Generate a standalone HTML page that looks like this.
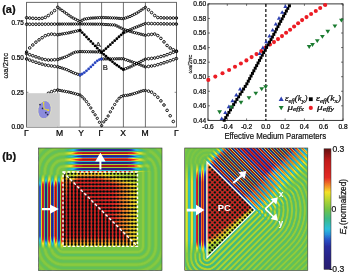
<!DOCTYPE html>
<html><head><meta charset="utf-8"><style>
html,body{margin:0;padding:0;background:#fff;width:350px;height:274px;overflow:hidden}
svg{display:block;will-change:transform}
</style></head><body>
<svg xmlns="http://www.w3.org/2000/svg" width="350" height="274" viewBox="0 0 350 274">
<defs><filter id="jet" filterUnits="userSpaceOnUse" x="0" y="0" width="350" height="274" color-interpolation-filters="sRGB"><feComponentTransfer><feFuncR type="table" tableValues="0.157 0.157 0.157 0.157 0.157 0.157 0.157 0.157 0.157 0.157 0.157 0.157 0.157 0.157 0.157 0.157 0.157 0.157 0.157 0.157 0.157 0.157 0.157 0.157 0.157 0.157 0.157 0.157 0.157 0.157 0.161 0.166 0.170 0.174 0.180 0.187 0.194 0.201 0.208 0.215 0.221 0.228 0.235 0.263 0.290 0.318 0.345 0.373 0.400 0.427 0.455 0.489 0.523 0.556 0.590 0.624 0.658 0.692 0.725 0.764 0.803 0.841 0.880 0.918 0.957 0.957 0.957 0.957 0.957 0.957 0.948 0.939 0.930 0.921 0.912 0.903 0.894 0.885 0.876 0.866 0.857 0.848 0.839 0.829 0.820 0.811 0.802 0.792 0.783 0.774 0.765 0.727 0.690 0.653 0.616 0.578 0.541 0.504 0.467 0.429 0.392"/><feFuncG type="table" tableValues="0.118 0.120 0.122 0.124 0.125 0.127 0.129 0.131 0.133 0.135 0.137 0.142 0.146 0.150 0.155 0.159 0.163 0.168 0.172 0.176 0.201 0.226 0.251 0.276 0.301 0.342 0.399 0.455 0.512 0.569 0.610 0.651 0.692 0.732 0.752 0.749 0.746 0.743 0.740 0.738 0.735 0.732 0.729 0.734 0.739 0.744 0.749 0.754 0.759 0.764 0.769 0.778 0.787 0.797 0.806 0.815 0.825 0.834 0.843 0.850 0.858 0.865 0.872 0.879 0.886 0.825 0.764 0.703 0.642 0.580 0.521 0.462 0.402 0.343 0.283 0.224 0.165 0.160 0.156 0.151 0.147 0.142 0.138 0.133 0.129 0.124 0.120 0.115 0.111 0.106 0.102 0.098 0.093 0.089 0.085 0.080 0.076 0.072 0.067 0.063 0.059"/><feFuncB type="table" tableValues="0.431 0.441 0.451 0.461 0.471 0.480 0.490 0.500 0.510 0.520 0.529 0.540 0.551 0.562 0.573 0.584 0.595 0.606 0.617 0.627 0.656 0.684 0.713 0.742 0.770 0.792 0.808 0.824 0.839 0.855 0.858 0.862 0.865 0.869 0.851 0.810 0.770 0.730 0.690 0.650 0.610 0.570 0.529 0.498 0.466 0.434 0.402 0.370 0.338 0.306 0.275 0.265 0.255 0.245 0.235 0.225 0.216 0.206 0.196 0.190 0.183 0.176 0.170 0.163 0.157 0.157 0.157 0.157 0.157 0.157 0.155 0.152 0.150 0.148 0.146 0.143 0.141 0.138 0.136 0.133 0.130 0.127 0.124 0.122 0.119 0.116 0.113 0.110 0.108 0.105 0.102 0.098 0.093 0.089 0.085 0.080 0.076 0.072 0.067 0.063 0.059"/></feComponentTransfer><feGaussianBlur stdDeviation="0.5"/></filter><filter id="bl" filterUnits="userSpaceOnUse" x="0" y="0" width="350" height="274" color-interpolation-filters="sRGB"><feGaussianBlur stdDeviation="1.3"/></filter><filter id="bl3" filterUnits="userSpaceOnUse" x="0" y="0" width="350" height="274" color-interpolation-filters="sRGB"><feGaussianBlur stdDeviation="0.45"/></filter><filter id="bl2" filterUnits="userSpaceOnUse" x="0" y="0" width="350" height="274" color-interpolation-filters="sRGB"><feGaussianBlur stdDeviation="0.6"/></filter><linearGradient id="gTop" gradientUnits="userSpaceOnUse" spreadMethod="repeat" x1="0" y1="153.2" x2="0" y2="159.6"><stop offset="0.0000" stop-color="#ffffff"/><stop offset="0.0625" stop-color="#ffffff"/><stop offset="0.1250" stop-color="#e7e7e7"/><stop offset="0.1875" stop-color="#b8b8b8"/><stop offset="0.2500" stop-color="#808080"/><stop offset="0.3125" stop-color="#474747"/><stop offset="0.3750" stop-color="#181818"/><stop offset="0.4375" stop-color="#000000"/><stop offset="0.5000" stop-color="#000000"/><stop offset="0.5625" stop-color="#000000"/><stop offset="0.6250" stop-color="#181818"/><stop offset="0.6875" stop-color="#474747"/><stop offset="0.7500" stop-color="#7f7f7f"/><stop offset="0.8125" stop-color="#b8b8b8"/><stop offset="0.8750" stop-color="#e7e7e7"/><stop offset="0.9375" stop-color="#ffffff"/><stop offset="1.0000" stop-color="#ffffff"/></linearGradient><linearGradient id="aTopX" gradientUnits="userSpaceOnUse" x1="38.6" y1="0" x2="162" y2="0"><stop offset="0.0000" stop-color="#fff" stop-opacity="0.000"/><stop offset="0.2058" stop-color="#fff" stop-opacity="0.000"/><stop offset="0.2788" stop-color="#fff" stop-opacity="0.350"/><stop offset="0.3598" stop-color="#fff" stop-opacity="0.900"/><stop offset="0.7164" stop-color="#fff" stop-opacity="0.900"/><stop offset="0.7893" stop-color="#fff" stop-opacity="0.400"/><stop offset="0.8541" stop-color="#fff" stop-opacity="0.080"/><stop offset="0.9190" stop-color="#fff" stop-opacity="0.000"/></linearGradient><mask id="mTopX" maskUnits="userSpaceOnUse" x="38.6" y="148" width="123.4" height="24" style="mask-type:alpha"><rect x="38.6" y="148" width="123.4" height="24" fill="url(#aTopX)"/></mask><linearGradient id="aTopY" gradientUnits="userSpaceOnUse" x1="0" y1="148" x2="0" y2="173"><stop offset="0.0000" stop-color="#fff" stop-opacity="0.750"/><stop offset="0.1600" stop-color="#fff" stop-opacity="0.950"/><stop offset="0.9600" stop-color="#fff" stop-opacity="1.000"/><stop offset="1.0000" stop-color="#fff" stop-opacity="1.000"/></linearGradient><mask id="mTopY" maskUnits="userSpaceOnUse" x="38.6" y="148" width="123.4" height="25" style="mask-type:alpha"><rect x="38.6" y="148" width="123.4" height="25" fill="url(#aTopY)"/></mask><linearGradient id="gLeft" gradientUnits="userSpaceOnUse" spreadMethod="repeat" x1="42.8" y1="0" x2="49.2" y2="0"><stop offset="0.0000" stop-color="#ffffff"/><stop offset="0.0625" stop-color="#ffffff"/><stop offset="0.1250" stop-color="#e7e7e7"/><stop offset="0.1875" stop-color="#b8b8b8"/><stop offset="0.2500" stop-color="#808080"/><stop offset="0.3125" stop-color="#474747"/><stop offset="0.3750" stop-color="#181818"/><stop offset="0.4375" stop-color="#000000"/><stop offset="0.5000" stop-color="#000000"/><stop offset="0.5625" stop-color="#000000"/><stop offset="0.6250" stop-color="#181818"/><stop offset="0.6875" stop-color="#474747"/><stop offset="0.7500" stop-color="#7f7f7f"/><stop offset="0.8125" stop-color="#b8b8b8"/><stop offset="0.8750" stop-color="#e7e7e7"/><stop offset="0.9375" stop-color="#ffffff"/><stop offset="1.0000" stop-color="#ffffff"/></linearGradient><linearGradient id="aLeftY" gradientUnits="userSpaceOnUse" x1="0" y1="148" x2="0" y2="270.6"><stop offset="0.0000" stop-color="#fff" stop-opacity="0.000"/><stop offset="0.2121" stop-color="#fff" stop-opacity="0.000"/><stop offset="0.2692" stop-color="#fff" stop-opacity="0.400"/><stop offset="0.3181" stop-color="#fff" stop-opacity="0.900"/><stop offset="0.7178" stop-color="#fff" stop-opacity="0.900"/><stop offset="0.7749" stop-color="#fff" stop-opacity="0.400"/><stop offset="0.8238" stop-color="#fff" stop-opacity="0.000"/><stop offset="1.0000" stop-color="#fff" stop-opacity="0.000"/></linearGradient><mask id="mLeftY" maskUnits="userSpaceOnUse" x="38.6" y="148" width="24.4" height="122.6" style="mask-type:alpha"><rect x="38.6" y="148" width="24.4" height="122.6" fill="url(#aLeftY)"/></mask><linearGradient id="aLeftX" gradientUnits="userSpaceOnUse" x1="38.6" y1="0" x2="63" y2="0"><stop offset="0.0000" stop-color="#fff" stop-opacity="0.500"/><stop offset="0.0984" stop-color="#fff" stop-opacity="0.750"/><stop offset="0.2623" stop-color="#fff" stop-opacity="0.950"/><stop offset="1.0000" stop-color="#fff" stop-opacity="1.000"/></linearGradient><mask id="mLeftX" maskUnits="userSpaceOnUse" x="38.6" y="148" width="24.4" height="122.6" style="mask-type:alpha"><rect x="38.6" y="148" width="24.4" height="122.6" fill="url(#aLeftX)"/></mask><clipPath id="cSq"><rect x="63" y="172" width="74.5" height="74.4"/></clipPath><clipPath id="cLM"><rect x="38.6" y="148" width="123.4" height="122.6"/></clipPath><linearGradient id="aRip" gradientUnits="userSpaceOnUse" x1="165" y1="165" x2="290" y2="290"><stop offset="0.0000" stop-color="#fff" stop-opacity="0.150"/><stop offset="0.3800" stop-color="#fff" stop-opacity="0.200"/><stop offset="0.5400" stop-color="#fff" stop-opacity="1.000"/><stop offset="1.0000" stop-color="#fff" stop-opacity="1.000"/></linearGradient><mask id="mRip" maskUnits="userSpaceOnUse" x="184.7" y="148" width="123.1" height="122.6" style="mask-type:alpha"><rect x="184.7" y="148" width="123.1" height="122.6" fill="url(#aRip)"/></mask><linearGradient id="gRL" gradientUnits="userSpaceOnUse" spreadMethod="repeat" x1="197.2" y1="0" x2="202.5" y2="0"><stop offset="0.0000" stop-color="#ffffff"/><stop offset="0.0625" stop-color="#ffffff"/><stop offset="0.1250" stop-color="#fefefe"/><stop offset="0.1875" stop-color="#c4c4c4"/><stop offset="0.2500" stop-color="#808080"/><stop offset="0.3125" stop-color="#3b3b3b"/><stop offset="0.3750" stop-color="#010101"/><stop offset="0.4375" stop-color="#000000"/><stop offset="0.5000" stop-color="#000000"/><stop offset="0.5625" stop-color="#000000"/><stop offset="0.6250" stop-color="#010101"/><stop offset="0.6875" stop-color="#3b3b3b"/><stop offset="0.7500" stop-color="#7f7f7f"/><stop offset="0.8125" stop-color="#c4c4c4"/><stop offset="0.8750" stop-color="#fefefe"/><stop offset="0.9375" stop-color="#ffffff"/><stop offset="1.0000" stop-color="#ffffff"/></linearGradient><linearGradient id="aRLY" gradientUnits="userSpaceOnUse" x1="0" y1="148" x2="0" y2="270.6"><stop offset="0.0000" stop-color="#fff" stop-opacity="0.000"/><stop offset="0.1223" stop-color="#fff" stop-opacity="0.000"/><stop offset="0.1958" stop-color="#fff" stop-opacity="0.500"/><stop offset="0.2773" stop-color="#fff" stop-opacity="0.950"/><stop offset="0.7504" stop-color="#fff" stop-opacity="0.950"/><stop offset="0.8157" stop-color="#fff" stop-opacity="0.450"/><stop offset="0.8646" stop-color="#fff" stop-opacity="0.000"/><stop offset="1.0000" stop-color="#fff" stop-opacity="0.000"/></linearGradient><mask id="mRLY" maskUnits="userSpaceOnUse" x="184.7" y="148" width="22.3" height="122.6" style="mask-type:alpha"><rect x="184.7" y="148" width="22.3" height="122.6" fill="url(#aRLY)"/></mask><linearGradient id="aRLX" gradientUnits="userSpaceOnUse" x1="184.7" y1="0" x2="207" y2="0"><stop offset="0.0000" stop-color="#fff" stop-opacity="0.150"/><stop offset="0.1031" stop-color="#fff" stop-opacity="0.270"/><stop offset="0.4395" stop-color="#fff" stop-opacity="0.290"/><stop offset="0.5605" stop-color="#fff" stop-opacity="0.800"/><stop offset="1.0000" stop-color="#fff" stop-opacity="0.900"/></linearGradient><mask id="mRLX" maskUnits="userSpaceOnUse" x="184.7" y="148" width="22.3" height="122.6" style="mask-type:alpha"><rect x="184.7" y="148" width="22.3" height="122.6" fill="url(#aRLX)"/></mask><linearGradient id="gBeam" gradientUnits="userSpaceOnUse" spreadMethod="repeat" x1="254" y1="155" x2="257.05" y2="151.95"><stop offset="0.0000" stop-color="#ffffff"/><stop offset="0.0625" stop-color="#ffffff"/><stop offset="0.1250" stop-color="#f5f5f5"/><stop offset="0.1875" stop-color="#bfbfbf"/><stop offset="0.2500" stop-color="#808080"/><stop offset="0.3125" stop-color="#404040"/><stop offset="0.3750" stop-color="#0a0a0a"/><stop offset="0.4375" stop-color="#000000"/><stop offset="0.5000" stop-color="#000000"/><stop offset="0.5625" stop-color="#000000"/><stop offset="0.6250" stop-color="#0a0a0a"/><stop offset="0.6875" stop-color="#404040"/><stop offset="0.7500" stop-color="#7f7f7f"/><stop offset="0.8125" stop-color="#bfbfbf"/><stop offset="0.8750" stop-color="#f5f5f5"/><stop offset="0.9375" stop-color="#ffffff"/><stop offset="1.0000" stop-color="#ffffff"/></linearGradient><linearGradient id="aBeam" gradientUnits="userSpaceOnUse" x1="175" y1="175" x2="245" y2="245"><stop offset="0.0000" stop-color="#fff" stop-opacity="0.000"/><stop offset="0.0857" stop-color="#fff" stop-opacity="0.000"/><stop offset="0.1500" stop-color="#fff" stop-opacity="0.320"/><stop offset="0.2143" stop-color="#fff" stop-opacity="0.900"/><stop offset="0.6286" stop-color="#fff" stop-opacity="0.900"/><stop offset="0.6857" stop-color="#fff" stop-opacity="0.520"/><stop offset="0.8000" stop-color="#fff" stop-opacity="0.380"/><stop offset="0.8857" stop-color="#fff" stop-opacity="0.180"/><stop offset="0.9857" stop-color="#fff" stop-opacity="0.040"/><stop offset="1.0000" stop-color="#fff" stop-opacity="0.000"/></linearGradient><mask id="mBeam" maskUnits="userSpaceOnUse" x="184.7" y="148" width="123.1" height="122.6" style="mask-type:alpha"><rect x="184.7" y="148" width="123.1" height="122.6" fill="url(#aBeam)"/></mask><clipPath id="cBeam"><path d="M187 142 L315 270 L317.8 138 L184.7 138 Z"/></clipPath><clipPath id="cTri"><path d="M207 162L255 210L207 257.6Z"/></clipPath><clipPath id="cRM"><rect x="184.7" y="148" width="123.1" height="122.6"/></clipPath><linearGradient id="gCB" x1="0" y1="0" x2="0" y2="1"><stop offset="0" stop-color="#fff"/><stop offset="1" stop-color="#000"/></linearGradient></defs>
<g stroke="#5a5a5a" stroke-width="0.85">
<line x1="57.7" y1="2.3" x2="57.7" y2="127.1"/>
<line x1="80" y1="2.3" x2="80" y2="127.1"/>
<line x1="101.6" y1="2.3" x2="101.6" y2="127.1"/>
<line x1="123.4" y1="2.3" x2="123.4" y2="127.1"/>
<line x1="145.4" y1="2.3" x2="145.4" y2="127.1"/>
</g>
<rect x="26.6" y="2.3" width="149.8" height="124.8" fill="none" stroke="#444" stroke-width="0.8"/>
<line x1="26.6" y1="23" x2="28.4" y2="23" stroke="#444" stroke-width="0.6"/>
<line x1="176.4" y1="23" x2="174.6" y2="23" stroke="#444" stroke-width="0.6"/>
<line x1="26.6" y1="57.7" x2="28.4" y2="57.7" stroke="#444" stroke-width="0.6"/>
<line x1="176.4" y1="57.7" x2="174.6" y2="57.7" stroke="#444" stroke-width="0.6"/>
<line x1="26.6" y1="92.3" x2="28.4" y2="92.3" stroke="#444" stroke-width="0.6"/>
<line x1="176.4" y1="92.3" x2="174.6" y2="92.3" stroke="#444" stroke-width="0.6"/>
<g fill="none" stroke="#000" stroke-width="0.92">
<circle cx="26.6" cy="17.7" r="1.3"/>
<circle cx="29.71" cy="17.99" r="1.3"/>
<circle cx="32.82" cy="18.28" r="1.3"/>
<circle cx="35.93" cy="18.43" r="1.3"/>
<circle cx="39.04" cy="18.56" r="1.3"/>
<circle cx="42.15" cy="18.28" r="1.3"/>
<circle cx="45.26" cy="17.41" r="1.3"/>
<circle cx="48.37" cy="15.54" r="1.3"/>
<circle cx="51.48" cy="13.13" r="1.3"/>
<circle cx="54.59" cy="10.59" r="1.3"/>
<circle cx="57.7" cy="7.3" r="1.3"/>
<circle cx="59.93" cy="8.89" r="1.15"/>
<circle cx="62.16" cy="10.48" r="1.15"/>
<circle cx="64.39" cy="12.07" r="1.15"/>
<circle cx="66.62" cy="13.66" r="1.15"/>
<circle cx="68.85" cy="15.25" r="1.15"/>
<circle cx="71.08" cy="16.84" r="1.15"/>
<circle cx="73.31" cy="18.16" r="1.15"/>
<circle cx="75.54" cy="19.27" r="1.15"/>
<circle cx="77.77" cy="20.39" r="1.15"/>
<circle cx="80" cy="21.5" r="1.15"/>
<circle cx="82.16" cy="20.26" r="1.15"/>
<circle cx="84.32" cy="19.15" r="1.15"/>
<circle cx="86.48" cy="18.79" r="1.15"/>
<circle cx="88.64" cy="18.43" r="1.15"/>
<circle cx="90.8" cy="18.15" r="1.15"/>
<circle cx="92.96" cy="18.02" r="1.15"/>
<circle cx="95.12" cy="17.89" r="1.15"/>
<circle cx="97.28" cy="17.76" r="1.15"/>
<circle cx="99.44" cy="17.63" r="1.15"/>
<circle cx="101.6" cy="17.5" r="1.15"/>
<circle cx="103.78" cy="17.58" r="1.15"/>
<circle cx="105.96" cy="17.66" r="1.15"/>
<circle cx="108.14" cy="17.74" r="1.15"/>
<circle cx="110.32" cy="17.83" r="1.15"/>
<circle cx="112.5" cy="17.91" r="1.15"/>
<circle cx="114.68" cy="17.99" r="1.15"/>
<circle cx="116.86" cy="18.16" r="1.15"/>
<circle cx="119.04" cy="18.34" r="1.15"/>
<circle cx="121.22" cy="18.52" r="1.15"/>
<circle cx="123.4" cy="18.7" r="1.15"/>
<circle cx="125.6" cy="17.97" r="1.15"/>
<circle cx="127.8" cy="17.23" r="1.15"/>
<circle cx="130" cy="16.5" r="1.15"/>
<circle cx="132.2" cy="15.4" r="1.15"/>
<circle cx="134.4" cy="14.3" r="1.15"/>
<circle cx="136.6" cy="13.2" r="1.15"/>
<circle cx="138.8" cy="11.78" r="1.15"/>
<circle cx="141" cy="10.29" r="1.15"/>
<circle cx="143.2" cy="8.79" r="1.15"/>
<circle cx="145.4" cy="7.3" r="1.15"/>
<circle cx="148.5" cy="9.79" r="1.3"/>
<circle cx="151.6" cy="12.6" r="1.3"/>
<circle cx="154.7" cy="15.5" r="1.3"/>
<circle cx="157.8" cy="17.52" r="1.3"/>
<circle cx="160.9" cy="17.73" r="1.3"/>
<circle cx="164" cy="17.93" r="1.3"/>
<circle cx="167.1" cy="18" r="1.3"/>
<circle cx="170.2" cy="18" r="1.3"/>
<circle cx="173.3" cy="18" r="1.3"/>
<circle cx="176.4" cy="18" r="1.3"/>
<circle cx="26.6" cy="24.3" r="1.3"/>
<circle cx="29.71" cy="24.28" r="1.3"/>
<circle cx="32.82" cy="24.26" r="1.3"/>
<circle cx="35.93" cy="24.24" r="1.3"/>
<circle cx="39.04" cy="24.22" r="1.3"/>
<circle cx="42.15" cy="24.2" r="1.3"/>
<circle cx="45.26" cy="24.18" r="1.3"/>
<circle cx="48.37" cy="24.16" r="1.3"/>
<circle cx="51.48" cy="24.14" r="1.3"/>
<circle cx="54.59" cy="24.12" r="1.3"/>
<circle cx="57.7" cy="24.1" r="1.3"/>
<circle cx="59.93" cy="24.09" r="1.15"/>
<circle cx="62.16" cy="24.08" r="1.15"/>
<circle cx="64.39" cy="24.07" r="1.15"/>
<circle cx="66.62" cy="24.06" r="1.15"/>
<circle cx="68.85" cy="24.05" r="1.15"/>
<circle cx="71.08" cy="24.04" r="1.15"/>
<circle cx="73.31" cy="24.03" r="1.15"/>
<circle cx="75.54" cy="24.02" r="1.15"/>
<circle cx="77.77" cy="24.01" r="1.15"/>
<circle cx="80" cy="24" r="1.15"/>
<circle cx="82.16" cy="24.02" r="1.15"/>
<circle cx="84.32" cy="24.04" r="1.15"/>
<circle cx="86.48" cy="24.06" r="1.15"/>
<circle cx="88.64" cy="24.08" r="1.15"/>
<circle cx="90.8" cy="24.1" r="1.15"/>
<circle cx="92.96" cy="24.12" r="1.15"/>
<circle cx="95.12" cy="24.14" r="1.15"/>
<circle cx="97.28" cy="24.16" r="1.15"/>
<circle cx="99.44" cy="24.18" r="1.15"/>
<circle cx="101.6" cy="24.2" r="1.15"/>
<circle cx="103.78" cy="24.41" r="1.15"/>
<circle cx="105.96" cy="24.53" r="1.15"/>
<circle cx="108.14" cy="24.64" r="1.15"/>
<circle cx="110.32" cy="24.76" r="1.15"/>
<circle cx="112.5" cy="24.87" r="1.15"/>
<circle cx="114.68" cy="24.98" r="1.15"/>
<circle cx="116.86" cy="25.93" r="1.15"/>
<circle cx="119.04" cy="27.02" r="1.15"/>
<circle cx="121.22" cy="28.15" r="1.15"/>
<circle cx="123.4" cy="29.3" r="1.15"/>
<circle cx="125.6" cy="29.96" r="1.15"/>
<circle cx="127.8" cy="30.63" r="1.15"/>
<circle cx="130" cy="31.29" r="1.15"/>
<circle cx="132.2" cy="31.96" r="1.15"/>
<circle cx="134.4" cy="32.6" r="1.15"/>
<circle cx="136.6" cy="33.14" r="1.15"/>
<circle cx="138.8" cy="33.68" r="1.15"/>
<circle cx="141" cy="34.22" r="1.15"/>
<circle cx="143.2" cy="34.76" r="1.15"/>
<circle cx="145.4" cy="35.3" r="1.15"/>
<circle cx="148.5" cy="34.69" r="1.3"/>
<circle cx="151.6" cy="34.37" r="1.3"/>
<circle cx="154.7" cy="34.06" r="1.3"/>
<circle cx="157.8" cy="35.56" r="1.3"/>
<circle cx="160.9" cy="38.4" r="1.3"/>
<circle cx="164" cy="41.86" r="1.3"/>
<circle cx="167.1" cy="45.48" r="1.3"/>
<circle cx="170.2" cy="48.01" r="1.3"/>
<circle cx="173.3" cy="49.76" r="1.3"/>
<circle cx="176.4" cy="51.5" r="1.3"/>
<circle cx="26.6" cy="52" r="1.3"/>
<circle cx="29.71" cy="47.9" r="1.3"/>
<circle cx="32.82" cy="44.96" r="1.3"/>
<circle cx="35.93" cy="42.16" r="1.3"/>
<circle cx="39.04" cy="39.82" r="1.3"/>
<circle cx="42.15" cy="37.72" r="1.3"/>
<circle cx="45.26" cy="35.71" r="1.3"/>
<circle cx="48.37" cy="34.7" r="1.3"/>
<circle cx="51.48" cy="34.1" r="1.3"/>
<circle cx="54.59" cy="34.4" r="1.3"/>
<circle cx="57.7" cy="34.7" r="1.3"/>
<circle cx="59.93" cy="34.33" r="1.15"/>
<circle cx="62.16" cy="33.96" r="1.15"/>
<circle cx="64.39" cy="33.6" r="1.15"/>
<circle cx="66.62" cy="33.23" r="1.15"/>
<circle cx="68.85" cy="32.81" r="1.15"/>
<circle cx="71.08" cy="32.31" r="1.15"/>
<circle cx="73.31" cy="31.81" r="1.15"/>
<circle cx="75.54" cy="31.3" r="1.15"/>
<circle cx="77.77" cy="30.8" r="1.15"/>
<circle cx="80" cy="30.3" r="1.15"/>
<circle cx="123.4" cy="32.8" r="1.15"/>
<circle cx="125.6" cy="31.8" r="1.15"/>
<circle cx="127.8" cy="30.81" r="1.15"/>
<circle cx="130" cy="29.81" r="1.15"/>
<circle cx="132.2" cy="28.82" r="1.15"/>
<circle cx="134.4" cy="27.84" r="1.15"/>
<circle cx="136.6" cy="26.97" r="1.15"/>
<circle cx="138.8" cy="26.11" r="1.15"/>
<circle cx="141" cy="25.24" r="1.15"/>
<circle cx="143.2" cy="24.37" r="1.15"/>
<circle cx="145.4" cy="23.5" r="1.15"/>
<circle cx="148.5" cy="23.56" r="1.3"/>
<circle cx="151.6" cy="23.62" r="1.3"/>
<circle cx="154.7" cy="23.68" r="1.3"/>
<circle cx="157.8" cy="23.74" r="1.3"/>
<circle cx="160.9" cy="23.8" r="1.3"/>
<circle cx="164" cy="23.86" r="1.3"/>
<circle cx="167.1" cy="23.92" r="1.3"/>
<circle cx="170.2" cy="23.98" r="1.3"/>
<circle cx="173.3" cy="24.04" r="1.3"/>
<circle cx="176.4" cy="24.1" r="1.3"/>
<circle cx="26.6" cy="53.7" r="1.3"/>
<circle cx="29.71" cy="54.72" r="1.3"/>
<circle cx="32.82" cy="55.76" r="1.3"/>
<circle cx="35.93" cy="56.83" r="1.3"/>
<circle cx="39.04" cy="57.91" r="1.3"/>
<circle cx="42.15" cy="59" r="1.3"/>
<circle cx="45.26" cy="59.6" r="1.3"/>
<circle cx="48.37" cy="60.02" r="1.3"/>
<circle cx="51.48" cy="59.93" r="1.3"/>
<circle cx="54.59" cy="59.71" r="1.3"/>
<circle cx="57.7" cy="59.5" r="1.3"/>
<circle cx="59.93" cy="58.77" r="1.15"/>
<circle cx="62.16" cy="58.05" r="1.15"/>
<circle cx="64.39" cy="57.32" r="1.15"/>
<circle cx="66.62" cy="56.47" r="1.15"/>
<circle cx="68.85" cy="55.29" r="1.15"/>
<circle cx="71.08" cy="54.11" r="1.15"/>
<circle cx="73.31" cy="52.93" r="1.15"/>
<circle cx="75.54" cy="52.1" r="1.15"/>
<circle cx="77.77" cy="51.85" r="1.15"/>
<circle cx="80" cy="51.6" r="1.15"/>
<circle cx="82.16" cy="51.64" r="1.15"/>
<circle cx="84.32" cy="51.68" r="1.15"/>
<circle cx="86.48" cy="51.72" r="1.15"/>
<circle cx="88.64" cy="51.76" r="1.15"/>
<circle cx="90.8" cy="51.8" r="1.15"/>
<circle cx="92.96" cy="51.84" r="1.15"/>
<circle cx="95.12" cy="51.88" r="1.15"/>
<circle cx="97.28" cy="51.92" r="1.15"/>
<circle cx="99.44" cy="51.96" r="1.15"/>
<circle cx="101.6" cy="52" r="1.15"/>
<circle cx="26.6" cy="59" r="1.3"/>
<circle cx="29.71" cy="60.09" r="1.3"/>
<circle cx="32.82" cy="61.21" r="1.3"/>
<circle cx="35.93" cy="62.28" r="1.3"/>
<circle cx="39.04" cy="63.21" r="1.3"/>
<circle cx="42.15" cy="64.14" r="1.3"/>
<circle cx="45.26" cy="65.04" r="1.3"/>
<circle cx="48.37" cy="65.48" r="1.3"/>
<circle cx="51.48" cy="65.92" r="1.3"/>
<circle cx="54.59" cy="66.36" r="1.3"/>
<circle cx="57.7" cy="66.8" r="1.3"/>
<circle cx="59.93" cy="67.47" r="1.15"/>
<circle cx="62.16" cy="68.14" r="1.15"/>
<circle cx="64.39" cy="68.82" r="1.15"/>
<circle cx="66.62" cy="69.59" r="1.15"/>
<circle cx="68.85" cy="70.62" r="1.15"/>
<circle cx="71.08" cy="71.65" r="1.15"/>
<circle cx="73.31" cy="72.68" r="1.15"/>
<circle cx="75.54" cy="73.51" r="1.15"/>
<circle cx="77.77" cy="74.26" r="1.15"/>
<circle cx="80" cy="75" r="1.15"/>
<circle cx="101.6" cy="59" r="1.15"/>
<circle cx="103.78" cy="58.97" r="1.15"/>
<circle cx="105.96" cy="58.94" r="1.15"/>
<circle cx="108.14" cy="58.91" r="1.15"/>
<circle cx="110.32" cy="58.88" r="1.15"/>
<circle cx="112.5" cy="58.85" r="1.15"/>
<circle cx="114.68" cy="58.82" r="1.15"/>
<circle cx="116.86" cy="58.79" r="1.15"/>
<circle cx="119.04" cy="58.76" r="1.15"/>
<circle cx="121.22" cy="58.73" r="1.15"/>
<circle cx="123.4" cy="58.7" r="1.15"/>
<circle cx="125.6" cy="59.64" r="1.15"/>
<circle cx="127.8" cy="60.39" r="1.15"/>
<circle cx="130" cy="61.13" r="1.15"/>
<circle cx="132.2" cy="61.88" r="1.15"/>
<circle cx="134.4" cy="62.62" r="1.15"/>
<circle cx="136.6" cy="63.36" r="1.15"/>
<circle cx="138.8" cy="64.23" r="1.15"/>
<circle cx="141" cy="65.12" r="1.15"/>
<circle cx="143.2" cy="66.01" r="1.15"/>
<circle cx="145.4" cy="66.9" r="1.15"/>
<circle cx="148.5" cy="66.45" r="1.3"/>
<circle cx="151.6" cy="66" r="1.3"/>
<circle cx="154.7" cy="65.54" r="1.3"/>
<circle cx="157.8" cy="64.66" r="1.3"/>
<circle cx="160.9" cy="63.73" r="1.3"/>
<circle cx="164" cy="62.8" r="1.3"/>
<circle cx="167.1" cy="61.78" r="1.3"/>
<circle cx="170.2" cy="60.72" r="1.3"/>
<circle cx="173.3" cy="59.66" r="1.3"/>
<circle cx="176.4" cy="58.6" r="1.3"/>
<circle cx="123.4" cy="69.5" r="1.15"/>
<circle cx="125.6" cy="68.67" r="1.15"/>
<circle cx="127.8" cy="67.83" r="1.15"/>
<circle cx="130" cy="67" r="1.15"/>
<circle cx="132.2" cy="65.9" r="1.15"/>
<circle cx="134.4" cy="64.8" r="1.15"/>
<circle cx="136.6" cy="63.7" r="1.15"/>
<circle cx="138.8" cy="62.56" r="1.15"/>
<circle cx="141" cy="61.4" r="1.15"/>
<circle cx="143.2" cy="60.25" r="1.15"/>
<circle cx="145.4" cy="59.1" r="1.15"/>
<circle cx="148.5" cy="58.74" r="1.3"/>
<circle cx="151.6" cy="58.39" r="1.3"/>
<circle cx="154.7" cy="58.03" r="1.3"/>
<circle cx="157.8" cy="57.3" r="1.3"/>
<circle cx="160.9" cy="56.52" r="1.3"/>
<circle cx="164" cy="55.75" r="1.3"/>
<circle cx="167.1" cy="54.67" r="1.3"/>
<circle cx="170.2" cy="53.45" r="1.3"/>
<circle cx="173.3" cy="52.22" r="1.3"/>
<circle cx="176.4" cy="51" r="1.3"/>
<circle cx="29.71" cy="121.32" r="1.3"/>
<circle cx="32.82" cy="115.5" r="1.3"/>
<circle cx="35.93" cy="109.79" r="1.3"/>
<circle cx="39.04" cy="104.44" r="1.3"/>
<circle cx="42.15" cy="99.77" r="1.3"/>
<circle cx="45.26" cy="95.94" r="1.3"/>
<circle cx="48.37" cy="93.33" r="1.3"/>
<circle cx="51.48" cy="91.68" r="1.3"/>
<circle cx="54.59" cy="90.66" r="1.3"/>
<circle cx="57.7" cy="90" r="1.3"/>
<circle cx="59.93" cy="90.42" r="1.15"/>
<circle cx="62.16" cy="90.83" r="1.15"/>
<circle cx="64.39" cy="91.25" r="1.15"/>
<circle cx="66.62" cy="91.67" r="1.15"/>
<circle cx="68.85" cy="92.08" r="1.15"/>
<circle cx="71.08" cy="92.59" r="1.15"/>
<circle cx="73.31" cy="93.19" r="1.15"/>
<circle cx="75.54" cy="93.8" r="1.15"/>
<circle cx="77.77" cy="94.4" r="1.15"/>
<circle cx="80" cy="95" r="1.15"/>
<circle cx="82.16" cy="96.8" r="1.15"/>
<circle cx="84.32" cy="99.05" r="1.15"/>
<circle cx="86.48" cy="101.59" r="1.15"/>
<circle cx="88.64" cy="104.55" r="1.15"/>
<circle cx="90.8" cy="107.94" r="1.15"/>
<circle cx="92.96" cy="111.66" r="1.15"/>
<circle cx="95.12" cy="114.8" r="1.15"/>
<circle cx="97.28" cy="118.34" r="1.15"/>
<circle cx="99.44" cy="122.26" r="1.15"/>
<circle cx="101.6" cy="125.6" r="1.15"/>
<circle cx="103.78" cy="121.86" r="1.15"/>
<circle cx="105.96" cy="119.45" r="1.15"/>
<circle cx="108.14" cy="115.99" r="1.15"/>
<circle cx="110.32" cy="111.85" r="1.15"/>
<circle cx="112.5" cy="108.18" r="1.15"/>
<circle cx="114.68" cy="104.5" r="1.15"/>
<circle cx="116.86" cy="101.09" r="1.15"/>
<circle cx="119.04" cy="98.32" r="1.15"/>
<circle cx="121.22" cy="96.53" r="1.15"/>
<circle cx="123.4" cy="95.7" r="1.15"/>
<circle cx="125.6" cy="95.45" r="1.15"/>
<circle cx="127.8" cy="95.2" r="1.15"/>
<circle cx="130" cy="94.67" r="1.15"/>
<circle cx="132.2" cy="94.14" r="1.15"/>
<circle cx="134.4" cy="93.48" r="1.15"/>
<circle cx="136.6" cy="92.76" r="1.15"/>
<circle cx="138.8" cy="92.02" r="1.15"/>
<circle cx="141" cy="91.26" r="1.15"/>
<circle cx="143.2" cy="90.66" r="1.15"/>
<circle cx="145.4" cy="90.5" r="1.15"/>
<circle cx="148.5" cy="91.13" r="1.3"/>
<circle cx="151.6" cy="92.18" r="1.3"/>
<circle cx="154.7" cy="94.51" r="1.3"/>
<circle cx="157.8" cy="97.26" r="1.3"/>
<circle cx="160.9" cy="100.87" r="1.3"/>
<circle cx="164" cy="105" r="1.3"/>
<circle cx="167.1" cy="110.35" r="1.3"/>
<circle cx="170.2" cy="115.77" r="1.3"/>
<circle cx="173.3" cy="121.5" r="1.3"/>
</g>
<g fill="#000">
<circle cx="80" cy="30.3" r="1.4"/>
<circle cx="82.16" cy="32.53" r="1.4"/>
<circle cx="84.32" cy="34.76" r="1.4"/>
<circle cx="86.48" cy="36.99" r="1.4"/>
<circle cx="88.64" cy="39.22" r="1.4"/>
<circle cx="90.8" cy="41.45" r="1.4"/>
<circle cx="92.96" cy="43.68" r="1.4"/>
<circle cx="95.12" cy="45.91" r="1.4"/>
<circle cx="97.28" cy="48.14" r="1.4"/>
<circle cx="99.44" cy="50.37" r="1.4"/>
<circle cx="101.6" cy="52.6" r="1.4"/>
<circle cx="101.6" cy="52.6" r="1.4"/>
<circle cx="103.78" cy="50.62" r="1.4"/>
<circle cx="105.96" cy="48.64" r="1.4"/>
<circle cx="108.14" cy="46.66" r="1.4"/>
<circle cx="110.32" cy="44.68" r="1.4"/>
<circle cx="112.5" cy="42.7" r="1.4"/>
<circle cx="114.68" cy="40.72" r="1.4"/>
<circle cx="116.86" cy="38.74" r="1.4"/>
<circle cx="119.04" cy="36.76" r="1.4"/>
<circle cx="121.22" cy="34.78" r="1.4"/>
<circle cx="123.4" cy="32.8" r="1.4"/>
<circle cx="101.6" cy="52.6" r="1.4"/>
<circle cx="103.78" cy="54.43" r="1.4"/>
<circle cx="105.96" cy="56.27" r="1.4"/>
<circle cx="108.14" cy="58.13" r="1.4"/>
<circle cx="110.32" cy="60" r="1.4"/>
<circle cx="112.5" cy="61.82" r="1.4"/>
<circle cx="114.68" cy="63.55" r="1.4"/>
<circle cx="116.86" cy="65.16" r="1.4"/>
<circle cx="119.04" cy="66.7" r="1.4"/>
<circle cx="121.22" cy="68.3" r="1.4"/>
<circle cx="123.4" cy="69.4" r="1.4"/>
</g><g fill="#2a46c0">
<circle cx="80" cy="75" r="1.4"/>
<circle cx="82.16" cy="73.99" r="1.4"/>
<circle cx="84.32" cy="72.59" r="1.4"/>
<circle cx="86.48" cy="70.87" r="1.4"/>
<circle cx="88.64" cy="68.96" r="1.4"/>
<circle cx="90.8" cy="66.97" r="1.4"/>
<circle cx="92.96" cy="64.92" r="1.4"/>
<circle cx="95.12" cy="62.72" r="1.4"/>
<circle cx="97.28" cy="60.79" r="1.4"/>
<circle cx="99.44" cy="59.62" r="1.4"/>
<circle cx="101.6" cy="59" r="1.4"/>
</g>
<rect x="27" y="93.2" width="32.8" height="33.6" fill="#cfcfcf"/>
<ellipse cx="44.5" cy="109.7" rx="6.6" ry="9.2" fill="#8c8cdc" stroke="#e4e4c0" stroke-width="0.8" transform="rotate(10 44.5 109.7)"/>
<g fill="#2a2a50"><circle cx="40" cy="104.6" r="0.9"/><circle cx="42.6" cy="108.4" r="0.9"/><circle cx="45.8" cy="112.7" r="0.9"/><circle cx="47.6" cy="114.6" r="0.9"/></g>
<path d="M43.6 102.5 L44 108.9 L48.2 110.2" fill="none" stroke="#f0e020" stroke-width="0.9"/>
<circle cx="43.6" cy="102.6" r="0.9" fill="#f0e020"/><circle cx="48.3" cy="110.2" r="0.9" fill="#f0e020"/>
<text x="23.9" y="25.3" text-anchor="end" style="font-family:'Liberation Sans',sans-serif;font-size:6.4px" fill="#000" stroke="#000" stroke-width="0.22">0.75</text>
<text x="23.9" y="60" text-anchor="end" style="font-family:'Liberation Sans',sans-serif;font-size:6.4px" fill="#000" stroke="#000" stroke-width="0.22">0.50</text>
<text x="23.9" y="94.6" text-anchor="end" style="font-family:'Liberation Sans',sans-serif;font-size:6.4px" fill="#000" stroke="#000" stroke-width="0.22">0.25</text>
<text x="23.9" y="129.3" text-anchor="end" style="font-family:'Liberation Sans',sans-serif;font-size:6.4px" fill="#000" stroke="#000" stroke-width="0.22">0.00</text>
<text x="26.3" y="136.3" text-anchor="middle" style="font-family:'Liberation Sans',sans-serif;font-size:8.6px" fill="#000" stroke="#000" stroke-width="0.22">Γ</text>
<text x="59.6" y="136.3" text-anchor="middle" style="font-family:'Liberation Sans',sans-serif;font-size:8.6px" fill="#000" stroke="#000" stroke-width="0.22">M</text>
<text x="81" y="136.3" text-anchor="middle" style="font-family:'Liberation Sans',sans-serif;font-size:8.6px" fill="#000" stroke="#000" stroke-width="0.22">Y</text>
<text x="100.8" y="136.3" text-anchor="middle" style="font-family:'Liberation Sans',sans-serif;font-size:8.6px" fill="#000" stroke="#000" stroke-width="0.22">Γ</text>
<text x="123" y="136.3" text-anchor="middle" style="font-family:'Liberation Sans',sans-serif;font-size:8.6px" fill="#000" stroke="#000" stroke-width="0.22">X</text>
<text x="145.2" y="136.3" text-anchor="middle" style="font-family:'Liberation Sans',sans-serif;font-size:8.6px" fill="#000" stroke="#000" stroke-width="0.22">M</text>
<text x="176.4" y="136.3" text-anchor="middle" style="font-family:'Liberation Sans',sans-serif;font-size:8.6px" fill="#000" stroke="#000" stroke-width="0.22">Γ</text>
<text transform="translate(8.2 65.8) rotate(-90)" text-anchor="middle" style="font-family:'Liberation Sans',sans-serif;font-size:7.6px" fill="#333" stroke="#000" stroke-width="0.22">ωa/2πc</text>
<text x="98.4" y="46.6" text-anchor="middle" style="font-family:'Liberation Sans',sans-serif;font-size:7.6px" fill="#333" stroke="#000" stroke-width="0.22">A</text>
<text x="105.2" y="69.5" text-anchor="middle" style="font-family:'Liberation Sans',sans-serif;font-size:7.6px" fill="#333" stroke="#000" stroke-width="0.22">B</text>
<text x="2.2" y="12.6" style="font-family:'Liberation Sans',sans-serif;font-size:11px;font-weight:bold" fill="#111" stroke="#000" stroke-width="0.22">(a)</text>
<text x="2.2" y="159.8" style="font-family:'Liberation Sans',sans-serif;font-size:11px;font-weight:bold" fill="#111" stroke="#000" stroke-width="0.22">(b)</text>
<rect x="208" y="3.9" width="135" height="116.5" fill="none" stroke="#222" stroke-width="0.9"/>
<line x1="265.86" y1="3.9" x2="265.86" y2="120.4" stroke="#000" stroke-width="1.15" stroke-dasharray="3 2"/>
<line x1="208" y1="120.4" x2="208" y2="118.4" stroke="#222" stroke-width="0.6"/>
<line x1="208" y1="3.9" x2="208" y2="5.9" stroke="#222" stroke-width="0.6"/>
<text x="208" y="129.3" text-anchor="middle" style="font-family:'Liberation Sans',sans-serif;font-size:6.6px" fill="#000" stroke="#000" stroke-width="0.22">-0.6</text>
<line x1="227.29" y1="120.4" x2="227.29" y2="118.4" stroke="#222" stroke-width="0.6"/>
<line x1="227.29" y1="3.9" x2="227.29" y2="5.9" stroke="#222" stroke-width="0.6"/>
<text x="227.29" y="129.3" text-anchor="middle" style="font-family:'Liberation Sans',sans-serif;font-size:6.6px" fill="#000" stroke="#000" stroke-width="0.22">-0.4</text>
<line x1="246.57" y1="120.4" x2="246.57" y2="118.4" stroke="#222" stroke-width="0.6"/>
<line x1="246.57" y1="3.9" x2="246.57" y2="5.9" stroke="#222" stroke-width="0.6"/>
<text x="246.57" y="129.3" text-anchor="middle" style="font-family:'Liberation Sans',sans-serif;font-size:6.6px" fill="#000" stroke="#000" stroke-width="0.22">-0.2</text>
<line x1="265.86" y1="120.4" x2="265.86" y2="118.4" stroke="#222" stroke-width="0.6"/>
<line x1="265.86" y1="3.9" x2="265.86" y2="5.9" stroke="#222" stroke-width="0.6"/>
<text x="265.86" y="129.3" text-anchor="middle" style="font-family:'Liberation Sans',sans-serif;font-size:6.6px" fill="#000" stroke="#000" stroke-width="0.22">0.0</text>
<line x1="285.14" y1="120.4" x2="285.14" y2="118.4" stroke="#222" stroke-width="0.6"/>
<line x1="285.14" y1="3.9" x2="285.14" y2="5.9" stroke="#222" stroke-width="0.6"/>
<text x="285.14" y="129.3" text-anchor="middle" style="font-family:'Liberation Sans',sans-serif;font-size:6.6px" fill="#000" stroke="#000" stroke-width="0.22">0.2</text>
<line x1="304.43" y1="120.4" x2="304.43" y2="118.4" stroke="#222" stroke-width="0.6"/>
<line x1="304.43" y1="3.9" x2="304.43" y2="5.9" stroke="#222" stroke-width="0.6"/>
<text x="304.43" y="129.3" text-anchor="middle" style="font-family:'Liberation Sans',sans-serif;font-size:6.6px" fill="#000" stroke="#000" stroke-width="0.22">0.4</text>
<line x1="323.71" y1="120.4" x2="323.71" y2="118.4" stroke="#222" stroke-width="0.6"/>
<line x1="323.71" y1="3.9" x2="323.71" y2="5.9" stroke="#222" stroke-width="0.6"/>
<text x="323.71" y="129.3" text-anchor="middle" style="font-family:'Liberation Sans',sans-serif;font-size:6.6px" fill="#000" stroke="#000" stroke-width="0.22">0.6</text>
<line x1="343" y1="120.4" x2="343" y2="118.4" stroke="#222" stroke-width="0.6"/>
<line x1="343" y1="3.9" x2="343" y2="5.9" stroke="#222" stroke-width="0.6"/>
<text x="343" y="129.3" text-anchor="middle" style="font-family:'Liberation Sans',sans-serif;font-size:6.6px" fill="#000" stroke="#000" stroke-width="0.22">0.8</text>
<line x1="208" y1="120.4" x2="210" y2="120.4" stroke="#222" stroke-width="0.6"/>
<line x1="343" y1="120.4" x2="341" y2="120.4" stroke="#222" stroke-width="0.6"/>
<text x="206.2" y="122.7" text-anchor="end" style="font-family:'Liberation Sans',sans-serif;font-size:6.6px" fill="#222" stroke="#000" stroke-width="0.22">0.44</text>
<line x1="208" y1="105.84" x2="210" y2="105.84" stroke="#222" stroke-width="0.6"/>
<line x1="343" y1="105.84" x2="341" y2="105.84" stroke="#222" stroke-width="0.6"/>
<text x="206.2" y="108.14" text-anchor="end" style="font-family:'Liberation Sans',sans-serif;font-size:6.6px" fill="#222" stroke="#000" stroke-width="0.22">0.46</text>
<line x1="208" y1="91.28" x2="210" y2="91.28" stroke="#222" stroke-width="0.6"/>
<line x1="343" y1="91.28" x2="341" y2="91.28" stroke="#222" stroke-width="0.6"/>
<text x="206.2" y="93.58" text-anchor="end" style="font-family:'Liberation Sans',sans-serif;font-size:6.6px" fill="#222" stroke="#000" stroke-width="0.22">0.48</text>
<line x1="208" y1="76.71" x2="210" y2="76.71" stroke="#222" stroke-width="0.6"/>
<line x1="343" y1="76.71" x2="341" y2="76.71" stroke="#222" stroke-width="0.6"/>
<text x="206.2" y="79.01" text-anchor="end" style="font-family:'Liberation Sans',sans-serif;font-size:6.6px" fill="#222" stroke="#000" stroke-width="0.22">0.50</text>
<line x1="208" y1="62.15" x2="210" y2="62.15" stroke="#222" stroke-width="0.6"/>
<line x1="343" y1="62.15" x2="341" y2="62.15" stroke="#222" stroke-width="0.6"/>
<text x="206.2" y="64.45" text-anchor="end" style="font-family:'Liberation Sans',sans-serif;font-size:6.6px" fill="#222" stroke="#000" stroke-width="0.22">0.52</text>
<line x1="208" y1="47.59" x2="210" y2="47.59" stroke="#222" stroke-width="0.6"/>
<line x1="343" y1="47.59" x2="341" y2="47.59" stroke="#222" stroke-width="0.6"/>
<text x="206.2" y="49.89" text-anchor="end" style="font-family:'Liberation Sans',sans-serif;font-size:6.6px" fill="#222" stroke="#000" stroke-width="0.22">0.54</text>
<line x1="208" y1="33.02" x2="210" y2="33.02" stroke="#222" stroke-width="0.6"/>
<line x1="343" y1="33.02" x2="341" y2="33.02" stroke="#222" stroke-width="0.6"/>
<text x="206.2" y="35.32" text-anchor="end" style="font-family:'Liberation Sans',sans-serif;font-size:6.6px" fill="#222" stroke="#000" stroke-width="0.22">0.56</text>
<line x1="208" y1="18.46" x2="210" y2="18.46" stroke="#222" stroke-width="0.6"/>
<line x1="343" y1="18.46" x2="341" y2="18.46" stroke="#222" stroke-width="0.6"/>
<text x="206.2" y="20.76" text-anchor="end" style="font-family:'Liberation Sans',sans-serif;font-size:6.6px" fill="#222" stroke="#000" stroke-width="0.22">0.58</text>
<line x1="208" y1="3.9" x2="210" y2="3.9" stroke="#222" stroke-width="0.6"/>
<line x1="343" y1="3.9" x2="341" y2="3.9" stroke="#222" stroke-width="0.6"/>
<text x="206.2" y="6.2" text-anchor="end" style="font-family:'Liberation Sans',sans-serif;font-size:6.6px" fill="#222" stroke="#000" stroke-width="0.22">0.60</text>
<text x="224.4" y="139.3" textLength="101.7" lengthAdjust="spacingAndGlyphs" style="font-family:'Liberation Sans',sans-serif;font-size:9.2px" fill="#222" stroke="#000" stroke-width="0.22">Effective Medium Parameters</text>
<text transform="translate(191.7 64) rotate(-90)" text-anchor="middle" style="font-family:'Liberation Sans',sans-serif;font-size:5.6px" fill="#666" stroke="#000" stroke-width="0.22">ωa/2πc</text>
<g fill="#ec1c24">
<circle cx="208.3" cy="79.9" r="2.05"/>
<circle cx="215.3" cy="76.6" r="2.05"/>
<circle cx="222.5" cy="73.3" r="2.05"/>
<circle cx="229.1" cy="70" r="2.05"/>
<circle cx="235" cy="66.8" r="2.05"/>
<circle cx="240.9" cy="63.5" r="2.05"/>
<circle cx="246.4" cy="60.4" r="2.05"/>
<circle cx="251.6" cy="57.1" r="2.05"/>
<circle cx="256.5" cy="54.1" r="2.05"/>
<circle cx="261.3" cy="51" r="2.05"/>
<circle cx="265.6" cy="47.5" r="2.05"/>
<circle cx="270" cy="44.5" r="2.05"/>
<circle cx="274" cy="42.1" r="2.05"/>
<circle cx="278" cy="39.1" r="2.05"/>
<circle cx="282" cy="36.1" r="2.05"/>
<circle cx="286.1" cy="32.7" r="2.05"/>
<circle cx="290.1" cy="29.7" r="2.05"/>
<circle cx="294.1" cy="26.5" r="2.05"/>
<circle cx="298.1" cy="23.3" r="2.05"/>
<circle cx="302.1" cy="20.1" r="2.05"/>
<circle cx="306.5" cy="17.1" r="2.05"/>
<circle cx="311.1" cy="14" r="2.05"/>
<circle cx="315.8" cy="11" r="2.05"/>
<circle cx="320.2" cy="8" r="2.05"/>
<circle cx="325.2" cy="5" r="2.05"/>
</g>
<g fill="#000">
<rect x="222.72" y="118.7" width="3.0" height="3.0"/>
<rect x="224.29" y="116.1" width="3.0" height="3.0"/>
<rect x="225.86" y="113.5" width="3.0" height="3.0"/>
<rect x="227.43" y="110.9" width="3.0" height="3.0"/>
<rect x="229" y="108.3" width="3.0" height="3.0"/>
<rect x="230.57" y="105.7" width="3.0" height="3.0"/>
<rect x="232.13" y="103.1" width="3.0" height="3.0"/>
<rect x="233.74" y="100.5" width="3.0" height="3.0"/>
<rect x="235.41" y="97.9" width="3.0" height="3.0"/>
<rect x="237.08" y="95.3" width="3.0" height="3.0"/>
<rect x="238.75" y="92.7" width="3.0" height="3.0"/>
<rect x="240.42" y="90.1" width="3.0" height="3.0"/>
<rect x="242.08" y="87.5" width="3.0" height="3.0"/>
<rect x="243.75" y="84.9" width="3.0" height="3.0"/>
<rect x="245.37" y="82.3" width="3.0" height="3.0"/>
<rect x="246.76" y="79.7" width="3.0" height="3.0"/>
<rect x="248.15" y="77.1" width="3.0" height="3.0"/>
<rect x="249.55" y="74.5" width="3.0" height="3.0"/>
<rect x="250.94" y="71.9" width="3.0" height="3.0"/>
<rect x="252.33" y="69.3" width="3.0" height="3.0"/>
<rect x="253.72" y="66.7" width="3.0" height="3.0"/>
<rect x="255.13" y="64.1" width="3.0" height="3.0"/>
<rect x="256.54" y="61.5" width="3.0" height="3.0"/>
<rect x="257.94" y="58.9" width="3.0" height="3.0"/>
<rect x="259.35" y="56.3" width="3.0" height="3.0"/>
<rect x="260.76" y="53.7" width="3.0" height="3.0"/>
<rect x="262.16" y="51.1" width="3.0" height="3.0"/>
<rect x="263.59" y="48.5" width="3.0" height="3.0"/>
<rect x="265.07" y="45.9" width="3.0" height="3.0"/>
<rect x="266.56" y="43.3" width="3.0" height="3.0"/>
<rect x="268.04" y="40.7" width="3.0" height="3.0"/>
<rect x="269.51" y="38.1" width="3.0" height="3.0"/>
<rect x="270.89" y="35.5" width="3.0" height="3.0"/>
<rect x="272.28" y="32.9" width="3.0" height="3.0"/>
<rect x="273.66" y="30.3" width="3.0" height="3.0"/>
<rect x="275.04" y="27.7" width="3.0" height="3.0"/>
<rect x="276.42" y="25.1" width="3.0" height="3.0"/>
<rect x="277.8" y="22.5" width="3.0" height="3.0"/>
<rect x="279.2" y="19.9" width="3.0" height="3.0"/>
<rect x="280.62" y="17.3" width="3.0" height="3.0"/>
<rect x="282.04" y="14.7" width="3.0" height="3.0"/>
<rect x="283.45" y="12.1" width="3.0" height="3.0"/>
<rect x="284.87" y="9.5" width="3.0" height="3.0"/>
<rect x="286.29" y="6.9" width="3.0" height="3.0"/>
<rect x="287.93" y="4.3" width="3.0" height="3.0"/>
</g>
<g fill="#2c3fb0">
<path d="M219.64 120l2.1 -3.6l2.1 3.6z"/>
<path d="M223.21 114.1l2.1 -3.6l2.1 3.6z"/>
<path d="M226.77 108.2l2.1 -3.6l2.1 3.6z"/>
<path d="M230.39 102.3l2.1 -3.6l2.1 3.6z"/>
<path d="M234.18 96.4l2.1 -3.6l2.1 3.6z"/>
<path d="M237.96 90.5l2.1 -3.6l2.1 3.6z"/>
<path d="M257.55 55.1l2.1 -3.6l2.1 3.6z"/>
<path d="M260.81 49.2l2.1 -3.6l2.1 3.6z"/>
<path d="M264.19 43.3l2.1 -3.6l2.1 3.6z"/>
<path d="M267.41 37.4l2.1 -3.6l2.1 3.6z"/>
<path d="M270.55 31.5l2.1 -3.6l2.1 3.6z"/>
<path d="M273.68 25.6l2.1 -3.6l2.1 3.6z"/>
<path d="M276.87 19.7l2.1 -3.6l2.1 3.6z"/>
<path d="M280.09 13.8l2.1 -3.6l2.1 3.6z"/>
<path d="M283.31 7.9l2.1 -3.6l2.1 3.6z"/>
</g>
<g fill="#1b7b30">
<path d="M217.2 110.3h4.8l-2.4 3.9z"/>
<path d="M229.1 105.4h4.8l-2.4 3.9z"/>
<path d="M238.6 100.8h4.8l-2.4 3.9z"/>
<path d="M246.6 96.2h4.8l-2.4 3.9z"/>
<path d="M253.4 91.7h4.8l-2.4 3.9z"/>
<path d="M259.3 87.3h4.8l-2.4 3.9z"/>
<path d="M263.2 85.3h4.8l-2.4 3.9z"/>
<path d="M306.8 45.1h4.8l-2.4 3.9z"/>
<path d="M310.1 43h4.8l-2.4 3.9z"/>
<path d="M314.9 39.2h4.8l-2.4 3.9z"/>
<path d="M320 34.9h4.8l-2.4 3.9z"/>
<path d="M325.4 29.8h4.8l-2.4 3.9z"/>
<path d="M332.5 24.4h4.8l-2.4 3.9z"/>
<path d="M339 18.7h4.8l-2.4 3.9z"/>
</g>
<path d="M278.7 100.9 l2.5 -4.3 l2.5 4.3z" fill="#2c3fb0"/>
<rect x="308.9" y="97.3" width="3.8" height="3.8" fill="#000"/>
<path d="M278.7 106 h5 l-2.5 4.2z" fill="#1b7b30"/>
<circle cx="310.8" cy="107.9" r="2.1" fill="#ec1c24"/>
<text x="285" y="101.4" textLength="22.4" lengthAdjust="spacingAndGlyphs" style="font-family:'Liberation Serif',serif;font-style:italic;font-size:8px" fill="#222" stroke="#000" stroke-width="0.22">ε<tspan font-size="5.6" dy="1.2">eff</tspan><tspan dy="-1.2">(k</tspan><tspan font-size="5.6" dy="1.2">y</tspan><tspan dy="-1.2">)</tspan></text>
<text x="316" y="101.4" textLength="25" lengthAdjust="spacingAndGlyphs" style="font-family:'Liberation Serif',serif;font-style:italic;font-size:8px" fill="#222" stroke="#000" stroke-width="0.22">ε<tspan font-size="5.6" dy="1.2">eff</tspan><tspan dy="-1.2">(k</tspan><tspan font-size="5.6" dy="1.2">x</tspan><tspan dy="-1.2">)</tspan></text>
<text x="287.4" y="109.8" textLength="16.6" lengthAdjust="spacingAndGlyphs" style="font-family:'Liberation Serif',serif;font-style:italic;font-size:8px" fill="#222" stroke="#000" stroke-width="0.22">μ<tspan font-size="5.6" dy="1.2">effx</tspan></text>
<text x="317" y="109.8" textLength="17" lengthAdjust="spacingAndGlyphs" style="font-family:'Liberation Serif',serif;font-style:italic;font-size:8px" fill="#222" stroke="#000" stroke-width="0.22">μ<tspan font-size="5.6" dy="1.2">effy</tspan></text>
<g clip-path="url(#cLM)"><g filter="url(#jet)"><rect x="38.6" y="148" width="123.4" height="122.6" fill="#808080"/><g filter="url(#bl2)"><rect x="57.6" y="166.6" width="85.3" height="85.2" rx="5.4" fill="none" stroke="#878787" stroke-width="2.2"/><rect x="54.4" y="163.4" width="91.7" height="91.6" rx="8.6" fill="none" stroke="#787878" stroke-width="2.2"/><rect x="51.2" y="160.2" width="98.1" height="98" rx="11.8" fill="none" stroke="#868686" stroke-width="2.2"/><rect x="48" y="157" width="104.5" height="104.4" rx="15" fill="none" stroke="#797979" stroke-width="2.2"/><rect x="44.8" y="153.8" width="110.9" height="110.8" rx="18.2" fill="none" stroke="#868686" stroke-width="2.2"/><rect x="41.6" y="150.6" width="117.3" height="117.2" rx="21.4" fill="none" stroke="#797979" stroke-width="2.2"/><rect x="38.4" y="147.4" width="123.7" height="123.6" rx="24.6" fill="none" stroke="#858585" stroke-width="2.2"/><rect x="35.2" y="144.2" width="130.1" height="130" rx="27.8" fill="none" stroke="#7a7a7a" stroke-width="2.2"/><rect x="32" y="141" width="136.5" height="136.4" rx="31" fill="none" stroke="#848484" stroke-width="2.2"/><rect x="28.8" y="137.8" width="142.9" height="142.8" rx="34.2" fill="none" stroke="#7b7b7b" stroke-width="2.2"/><rect x="25.6" y="134.6" width="149.3" height="149.2" rx="37.4" fill="none" stroke="#848484" stroke-width="2.2"/><rect x="22.4" y="131.4" width="155.7" height="155.6" rx="40.6" fill="none" stroke="#7b7b7b" stroke-width="2.2"/><rect x="19.2" y="128.2" width="162.1" height="162" rx="43.8" fill="none" stroke="#838383" stroke-width="2.2"/><rect x="16" y="125" width="168.5" height="168.4" rx="47" fill="none" stroke="#7c7c7c" stroke-width="2.2"/><rect x="12.8" y="121.8" width="174.9" height="174.8" rx="50.2" fill="none" stroke="#838383" stroke-width="2.2"/><rect x="9.6" y="118.6" width="181.3" height="181.2" rx="53.4" fill="none" stroke="#7c7c7c" stroke-width="2.2"/><rect x="6.4" y="115.4" width="187.7" height="187.6" rx="56.6" fill="none" stroke="#838383" stroke-width="2.2"/><rect x="3.2" y="112.2" width="194.1" height="194" rx="59.8" fill="none" stroke="#7c7c7c" stroke-width="2.2"/><rect x="0" y="109" width="200.5" height="200.4" rx="63" fill="none" stroke="#828282" stroke-width="2.2"/><rect x="-3.2" y="105.8" width="206.9" height="206.8" rx="66.2" fill="none" stroke="#7d7d7d" stroke-width="2.2"/><rect x="-6.4" y="102.6" width="213.3" height="213.2" rx="69.4" fill="none" stroke="#828282" stroke-width="2.2"/><rect x="-9.6" y="99.4" width="219.7" height="219.6" rx="72.6" fill="none" stroke="#7d7d7d" stroke-width="2.2"/><rect x="-12.8" y="96.2" width="226.1" height="226" rx="75.8" fill="none" stroke="#828282" stroke-width="2.2"/><rect x="-16" y="93" width="232.5" height="232.4" rx="79" fill="none" stroke="#7d7d7d" stroke-width="2.2"/><rect x="-19.2" y="89.8" width="238.9" height="238.8" rx="82.2" fill="none" stroke="#828282" stroke-width="2.2"/><rect x="-22.4" y="86.6" width="245.3" height="245.2" rx="85.4" fill="none" stroke="#7d7d7d" stroke-width="2.2"/></g><g mask="url(#mTopY)"><rect mask="url(#mTopX)" x="38.6" y="148" width="123.4" height="25" fill="url(#gTop)"/></g><g mask="url(#mLeftY)"><rect mask="url(#mLeftX)" x="38.6" y="148" width="24.9" height="122.6" fill="url(#gLeft)"/></g><g clip-path="url(#cSq)"><g filter="url(#bl)"><rect x="59.45" y="168.45" width="3.6" height="3.6" fill="#949494"/><rect x="59.45" y="172" width="3.6" height="3.6" fill="#949494"/><rect x="59.45" y="175.55" width="3.6" height="3.6" fill="#b0b0b0"/><rect x="59.45" y="179.1" width="3.6" height="3.6" fill="#b4b4b4"/><rect x="59.45" y="182.64" width="3.6" height="3.6" fill="#b8b8b8"/><rect x="59.45" y="186.19" width="3.6" height="3.6" fill="#bbbbbb"/><rect x="59.45" y="189.74" width="3.6" height="3.6" fill="#bfbfbf"/><rect x="59.45" y="193.29" width="3.6" height="3.6" fill="#c3c3c3"/><rect x="59.45" y="196.83" width="3.6" height="3.6" fill="#c7c7c7"/><rect x="59.45" y="200.38" width="3.6" height="3.6" fill="#cbcbcb"/><rect x="59.45" y="203.93" width="3.6" height="3.6" fill="#d0d0d0"/><rect x="59.45" y="207.48" width="3.6" height="3.6" fill="#d5d5d5"/><rect x="59.45" y="211.02" width="3.6" height="3.6" fill="#dbdbdb"/><rect x="59.45" y="214.57" width="3.6" height="3.6" fill="#dedede"/><rect x="59.45" y="218.12" width="3.6" height="3.6" fill="#dedede"/><rect x="59.45" y="221.67" width="3.6" height="3.6" fill="#dedede"/><rect x="59.45" y="225.21" width="3.6" height="3.6" fill="#dedede"/><rect x="59.45" y="228.76" width="3.6" height="3.6" fill="#dedede"/><rect x="59.45" y="232.31" width="3.6" height="3.6" fill="#d7d7d7"/><rect x="59.45" y="235.86" width="3.6" height="3.6" fill="#c7c7c7"/><rect x="59.45" y="239.4" width="3.6" height="3.6" fill="#b8b8b8"/><rect x="59.45" y="242.95" width="3.6" height="3.6" fill="#a8a8a8"/><rect x="59.45" y="246.5" width="3.6" height="3.6" fill="#a8a8a8"/><rect x="63" y="168.45" width="3.6" height="3.6" fill="#949494"/><rect x="63" y="172" width="3.6" height="3.6" fill="#949494"/><rect x="63" y="175.55" width="3.6" height="3.6" fill="#b0b0b0"/><rect x="63" y="179.1" width="3.6" height="3.6" fill="#b4b4b4"/><rect x="63" y="182.64" width="3.6" height="3.6" fill="#b8b8b8"/><rect x="63" y="186.19" width="3.6" height="3.6" fill="#bbbbbb"/><rect x="63" y="189.74" width="3.6" height="3.6" fill="#bfbfbf"/><rect x="63" y="193.29" width="3.6" height="3.6" fill="#c3c3c3"/><rect x="63" y="196.83" width="3.6" height="3.6" fill="#c7c7c7"/><rect x="63" y="200.38" width="3.6" height="3.6" fill="#cbcbcb"/><rect x="63" y="203.93" width="3.6" height="3.6" fill="#d0d0d0"/><rect x="63" y="207.48" width="3.6" height="3.6" fill="#d5d5d5"/><rect x="63" y="211.02" width="3.6" height="3.6" fill="#dbdbdb"/><rect x="63" y="214.57" width="3.6" height="3.6" fill="#dedede"/><rect x="63" y="218.12" width="3.6" height="3.6" fill="#dedede"/><rect x="63" y="221.67" width="3.6" height="3.6" fill="#dedede"/><rect x="63" y="225.21" width="3.6" height="3.6" fill="#dedede"/><rect x="63" y="228.76" width="3.6" height="3.6" fill="#dedede"/><rect x="63" y="232.31" width="3.6" height="3.6" fill="#d7d7d7"/><rect x="63" y="235.86" width="3.6" height="3.6" fill="#c7c7c7"/><rect x="63" y="239.4" width="3.6" height="3.6" fill="#b8b8b8"/><rect x="63" y="242.95" width="3.6" height="3.6" fill="#a8a8a8"/><rect x="63" y="246.5" width="3.6" height="3.6" fill="#a8a8a8"/><rect x="66.55" y="168.45" width="3.6" height="3.6" fill="#949494"/><rect x="66.55" y="172" width="3.6" height="3.6" fill="#949494"/><rect x="66.55" y="175.55" width="3.6" height="3.6" fill="#959595"/><rect x="66.55" y="179.1" width="3.6" height="3.6" fill="#bdbdbd"/><rect x="66.55" y="182.64" width="3.6" height="3.6" fill="#c0c0c0"/><rect x="66.55" y="186.19" width="3.6" height="3.6" fill="#c3c3c3"/><rect x="66.55" y="189.74" width="3.6" height="3.6" fill="#c6c6c6"/><rect x="66.55" y="193.29" width="3.6" height="3.6" fill="#c9c9c9"/><rect x="66.55" y="196.83" width="3.6" height="3.6" fill="#cccccc"/><rect x="66.55" y="200.38" width="3.6" height="3.6" fill="#cfcfcf"/><rect x="66.55" y="203.93" width="3.6" height="3.6" fill="#d3d3d3"/><rect x="66.55" y="207.48" width="3.6" height="3.6" fill="#d7d7d7"/><rect x="66.55" y="211.02" width="3.6" height="3.6" fill="#dbdbdb"/><rect x="66.55" y="214.57" width="3.6" height="3.6" fill="#dedede"/><rect x="66.55" y="218.12" width="3.6" height="3.6" fill="#dedede"/><rect x="66.55" y="221.67" width="3.6" height="3.6" fill="#dedede"/><rect x="66.55" y="225.21" width="3.6" height="3.6" fill="#dedede"/><rect x="66.55" y="228.76" width="3.6" height="3.6" fill="#dedede"/><rect x="66.55" y="232.31" width="3.6" height="3.6" fill="#d7d7d7"/><rect x="66.55" y="235.86" width="3.6" height="3.6" fill="#c7c7c7"/><rect x="66.55" y="239.4" width="3.6" height="3.6" fill="#b8b8b8"/><rect x="66.55" y="242.95" width="3.6" height="3.6" fill="#a8a8a8"/><rect x="66.55" y="246.5" width="3.6" height="3.6" fill="#a8a8a8"/><rect x="70.1" y="168.45" width="3.6" height="3.6" fill="#949494"/><rect x="70.1" y="172" width="3.6" height="3.6" fill="#949494"/><rect x="70.1" y="175.55" width="3.6" height="3.6" fill="#a0a0a0"/><rect x="70.1" y="179.1" width="3.6" height="3.6" fill="#b3b3b3"/><rect x="70.1" y="182.64" width="3.6" height="3.6" fill="#c9c9c9"/><rect x="70.1" y="186.19" width="3.6" height="3.6" fill="#cbcbcb"/><rect x="70.1" y="189.74" width="3.6" height="3.6" fill="#cdcdcd"/><rect x="70.1" y="193.29" width="3.6" height="3.6" fill="#cfcfcf"/><rect x="70.1" y="196.83" width="3.6" height="3.6" fill="#d2d2d2"/><rect x="70.1" y="200.38" width="3.6" height="3.6" fill="#d4d4d4"/><rect x="70.1" y="203.93" width="3.6" height="3.6" fill="#d6d6d6"/><rect x="70.1" y="207.48" width="3.6" height="3.6" fill="#d9d9d9"/><rect x="70.1" y="211.02" width="3.6" height="3.6" fill="#dcdcdc"/><rect x="70.1" y="214.57" width="3.6" height="3.6" fill="#dedede"/><rect x="70.1" y="218.12" width="3.6" height="3.6" fill="#dedede"/><rect x="70.1" y="221.67" width="3.6" height="3.6" fill="#dedede"/><rect x="70.1" y="225.21" width="3.6" height="3.6" fill="#dedede"/><rect x="70.1" y="228.76" width="3.6" height="3.6" fill="#dedede"/><rect x="70.1" y="232.31" width="3.6" height="3.6" fill="#d7d7d7"/><rect x="70.1" y="235.86" width="3.6" height="3.6" fill="#c7c7c7"/><rect x="70.1" y="239.4" width="3.6" height="3.6" fill="#b8b8b8"/><rect x="70.1" y="242.95" width="3.6" height="3.6" fill="#a8a8a8"/><rect x="70.1" y="246.5" width="3.6" height="3.6" fill="#a8a8a8"/><rect x="73.64" y="168.45" width="3.6" height="3.6" fill="#9b9b9b"/><rect x="73.64" y="172" width="3.6" height="3.6" fill="#9b9b9b"/><rect x="73.64" y="175.55" width="3.6" height="3.6" fill="#acacac"/><rect x="73.64" y="179.1" width="3.6" height="3.6" fill="#bebebe"/><rect x="73.64" y="182.64" width="3.6" height="3.6" fill="#d1d1d1"/><rect x="73.64" y="186.19" width="3.6" height="3.6" fill="#d4d4d4"/><rect x="73.64" y="189.74" width="3.6" height="3.6" fill="#d6d6d6"/><rect x="73.64" y="193.29" width="3.6" height="3.6" fill="#d7d7d7"/><rect x="73.64" y="196.83" width="3.6" height="3.6" fill="#d8d8d8"/><rect x="73.64" y="200.38" width="3.6" height="3.6" fill="#d9d9d9"/><rect x="73.64" y="203.93" width="3.6" height="3.6" fill="#dadada"/><rect x="73.64" y="207.48" width="3.6" height="3.6" fill="#dbdbdb"/><rect x="73.64" y="211.02" width="3.6" height="3.6" fill="#dddddd"/><rect x="73.64" y="214.57" width="3.6" height="3.6" fill="#dedede"/><rect x="73.64" y="218.12" width="3.6" height="3.6" fill="#dedede"/><rect x="73.64" y="221.67" width="3.6" height="3.6" fill="#dedede"/><rect x="73.64" y="225.21" width="3.6" height="3.6" fill="#dedede"/><rect x="73.64" y="228.76" width="3.6" height="3.6" fill="#dedede"/><rect x="73.64" y="232.31" width="3.6" height="3.6" fill="#d7d7d7"/><rect x="73.64" y="235.86" width="3.6" height="3.6" fill="#c7c7c7"/><rect x="73.64" y="239.4" width="3.6" height="3.6" fill="#b8b8b8"/><rect x="73.64" y="242.95" width="3.6" height="3.6" fill="#a8a8a8"/><rect x="73.64" y="246.5" width="3.6" height="3.6" fill="#a8a8a8"/><rect x="77.19" y="168.45" width="3.6" height="3.6" fill="#a9a9a9"/><rect x="77.19" y="172" width="3.6" height="3.6" fill="#a9a9a9"/><rect x="77.19" y="175.55" width="3.6" height="3.6" fill="#b9b9b9"/><rect x="77.19" y="179.1" width="3.6" height="3.6" fill="#cacaca"/><rect x="77.19" y="182.64" width="3.6" height="3.6" fill="#dbdbdb"/><rect x="77.19" y="186.19" width="3.6" height="3.6" fill="#dbdbdb"/><rect x="77.19" y="189.74" width="3.6" height="3.6" fill="#dedede"/><rect x="77.19" y="193.29" width="3.6" height="3.6" fill="#dedede"/><rect x="77.19" y="196.83" width="3.6" height="3.6" fill="#dedede"/><rect x="77.19" y="200.38" width="3.6" height="3.6" fill="#dedede"/><rect x="77.19" y="203.93" width="3.6" height="3.6" fill="#dedede"/><rect x="77.19" y="207.48" width="3.6" height="3.6" fill="#dedede"/><rect x="77.19" y="211.02" width="3.6" height="3.6" fill="#dedede"/><rect x="77.19" y="214.57" width="3.6" height="3.6" fill="#dedede"/><rect x="77.19" y="218.12" width="3.6" height="3.6" fill="#dedede"/><rect x="77.19" y="221.67" width="3.6" height="3.6" fill="#dedede"/><rect x="77.19" y="225.21" width="3.6" height="3.6" fill="#dedede"/><rect x="77.19" y="228.76" width="3.6" height="3.6" fill="#dedede"/><rect x="77.19" y="232.31" width="3.6" height="3.6" fill="#d7d7d7"/><rect x="77.19" y="235.86" width="3.6" height="3.6" fill="#c7c7c7"/><rect x="77.19" y="239.4" width="3.6" height="3.6" fill="#b8b8b8"/><rect x="77.19" y="242.95" width="3.6" height="3.6" fill="#a8a8a8"/><rect x="77.19" y="246.5" width="3.6" height="3.6" fill="#a8a8a8"/><rect x="80.74" y="168.45" width="3.6" height="3.6" fill="#a9a9a9"/><rect x="80.74" y="172" width="3.6" height="3.6" fill="#a9a9a9"/><rect x="80.74" y="175.55" width="3.6" height="3.6" fill="#b9b9b9"/><rect x="80.74" y="179.1" width="3.6" height="3.6" fill="#cacaca"/><rect x="80.74" y="182.64" width="3.6" height="3.6" fill="#dbdbdb"/><rect x="80.74" y="186.19" width="3.6" height="3.6" fill="#dbdbdb"/><rect x="80.74" y="189.74" width="3.6" height="3.6" fill="#dbdbdb"/><rect x="80.74" y="193.29" width="3.6" height="3.6" fill="#dedede"/><rect x="80.74" y="196.83" width="3.6" height="3.6" fill="#dedede"/><rect x="80.74" y="200.38" width="3.6" height="3.6" fill="#dedede"/><rect x="80.74" y="203.93" width="3.6" height="3.6" fill="#dedede"/><rect x="80.74" y="207.48" width="3.6" height="3.6" fill="#dedede"/><rect x="80.74" y="211.02" width="3.6" height="3.6" fill="#dedede"/><rect x="80.74" y="214.57" width="3.6" height="3.6" fill="#dedede"/><rect x="80.74" y="218.12" width="3.6" height="3.6" fill="#dedede"/><rect x="80.74" y="221.67" width="3.6" height="3.6" fill="#dedede"/><rect x="80.74" y="225.21" width="3.6" height="3.6" fill="#dedede"/><rect x="80.74" y="228.76" width="3.6" height="3.6" fill="#dedede"/><rect x="80.74" y="232.31" width="3.6" height="3.6" fill="#d7d7d7"/><rect x="80.74" y="235.86" width="3.6" height="3.6" fill="#c7c7c7"/><rect x="80.74" y="239.4" width="3.6" height="3.6" fill="#b8b8b8"/><rect x="80.74" y="242.95" width="3.6" height="3.6" fill="#a8a8a8"/><rect x="80.74" y="246.5" width="3.6" height="3.6" fill="#a8a8a8"/><rect x="84.29" y="168.45" width="3.6" height="3.6" fill="#a9a9a9"/><rect x="84.29" y="172" width="3.6" height="3.6" fill="#a9a9a9"/><rect x="84.29" y="175.55" width="3.6" height="3.6" fill="#b9b9b9"/><rect x="84.29" y="179.1" width="3.6" height="3.6" fill="#cacaca"/><rect x="84.29" y="182.64" width="3.6" height="3.6" fill="#dbdbdb"/><rect x="84.29" y="186.19" width="3.6" height="3.6" fill="#dbdbdb"/><rect x="84.29" y="189.74" width="3.6" height="3.6" fill="#dbdbdb"/><rect x="84.29" y="193.29" width="3.6" height="3.6" fill="#dbdbdb"/><rect x="84.29" y="196.83" width="3.6" height="3.6" fill="#dedede"/><rect x="84.29" y="200.38" width="3.6" height="3.6" fill="#dedede"/><rect x="84.29" y="203.93" width="3.6" height="3.6" fill="#dedede"/><rect x="84.29" y="207.48" width="3.6" height="3.6" fill="#dedede"/><rect x="84.29" y="211.02" width="3.6" height="3.6" fill="#dedede"/><rect x="84.29" y="214.57" width="3.6" height="3.6" fill="#dedede"/><rect x="84.29" y="218.12" width="3.6" height="3.6" fill="#dedede"/><rect x="84.29" y="221.67" width="3.6" height="3.6" fill="#dedede"/><rect x="84.29" y="225.21" width="3.6" height="3.6" fill="#dedede"/><rect x="84.29" y="228.76" width="3.6" height="3.6" fill="#dedede"/><rect x="84.29" y="232.31" width="3.6" height="3.6" fill="#d7d7d7"/><rect x="84.29" y="235.86" width="3.6" height="3.6" fill="#c7c7c7"/><rect x="84.29" y="239.4" width="3.6" height="3.6" fill="#b8b8b8"/><rect x="84.29" y="242.95" width="3.6" height="3.6" fill="#a8a8a8"/><rect x="84.29" y="246.5" width="3.6" height="3.6" fill="#a8a8a8"/><rect x="87.83" y="168.45" width="3.6" height="3.6" fill="#a9a9a9"/><rect x="87.83" y="172" width="3.6" height="3.6" fill="#a9a9a9"/><rect x="87.83" y="175.55" width="3.6" height="3.6" fill="#b9b9b9"/><rect x="87.83" y="179.1" width="3.6" height="3.6" fill="#cacaca"/><rect x="87.83" y="182.64" width="3.6" height="3.6" fill="#dbdbdb"/><rect x="87.83" y="186.19" width="3.6" height="3.6" fill="#dbdbdb"/><rect x="87.83" y="189.74" width="3.6" height="3.6" fill="#dbdbdb"/><rect x="87.83" y="193.29" width="3.6" height="3.6" fill="#dbdbdb"/><rect x="87.83" y="196.83" width="3.6" height="3.6" fill="#dbdbdb"/><rect x="87.83" y="200.38" width="3.6" height="3.6" fill="#dedede"/><rect x="87.83" y="203.93" width="3.6" height="3.6" fill="#dedede"/><rect x="87.83" y="207.48" width="3.6" height="3.6" fill="#dedede"/><rect x="87.83" y="211.02" width="3.6" height="3.6" fill="#dedede"/><rect x="87.83" y="214.57" width="3.6" height="3.6" fill="#dedede"/><rect x="87.83" y="218.12" width="3.6" height="3.6" fill="#dedede"/><rect x="87.83" y="221.67" width="3.6" height="3.6" fill="#dedede"/><rect x="87.83" y="225.21" width="3.6" height="3.6" fill="#dedede"/><rect x="87.83" y="228.76" width="3.6" height="3.6" fill="#dedede"/><rect x="87.83" y="232.31" width="3.6" height="3.6" fill="#d7d7d7"/><rect x="87.83" y="235.86" width="3.6" height="3.6" fill="#c7c7c7"/><rect x="87.83" y="239.4" width="3.6" height="3.6" fill="#b8b8b8"/><rect x="87.83" y="242.95" width="3.6" height="3.6" fill="#a8a8a8"/><rect x="87.83" y="246.5" width="3.6" height="3.6" fill="#a8a8a8"/><rect x="91.38" y="168.45" width="3.6" height="3.6" fill="#a9a9a9"/><rect x="91.38" y="172" width="3.6" height="3.6" fill="#a9a9a9"/><rect x="91.38" y="175.55" width="3.6" height="3.6" fill="#b9b9b9"/><rect x="91.38" y="179.1" width="3.6" height="3.6" fill="#cacaca"/><rect x="91.38" y="182.64" width="3.6" height="3.6" fill="#dbdbdb"/><rect x="91.38" y="186.19" width="3.6" height="3.6" fill="#dbdbdb"/><rect x="91.38" y="189.74" width="3.6" height="3.6" fill="#dbdbdb"/><rect x="91.38" y="193.29" width="3.6" height="3.6" fill="#dbdbdb"/><rect x="91.38" y="196.83" width="3.6" height="3.6" fill="#dbdbdb"/><rect x="91.38" y="200.38" width="3.6" height="3.6" fill="#dbdbdb"/><rect x="91.38" y="203.93" width="3.6" height="3.6" fill="#dedede"/><rect x="91.38" y="207.48" width="3.6" height="3.6" fill="#dedede"/><rect x="91.38" y="211.02" width="3.6" height="3.6" fill="#dedede"/><rect x="91.38" y="214.57" width="3.6" height="3.6" fill="#dedede"/><rect x="91.38" y="218.12" width="3.6" height="3.6" fill="#dedede"/><rect x="91.38" y="221.67" width="3.6" height="3.6" fill="#dedede"/><rect x="91.38" y="225.21" width="3.6" height="3.6" fill="#dedede"/><rect x="91.38" y="228.76" width="3.6" height="3.6" fill="#dedede"/><rect x="91.38" y="232.31" width="3.6" height="3.6" fill="#d7d7d7"/><rect x="91.38" y="235.86" width="3.6" height="3.6" fill="#c7c7c7"/><rect x="91.38" y="239.4" width="3.6" height="3.6" fill="#b8b8b8"/><rect x="91.38" y="242.95" width="3.6" height="3.6" fill="#a8a8a8"/><rect x="91.38" y="246.5" width="3.6" height="3.6" fill="#a8a8a8"/><rect x="94.93" y="168.45" width="3.6" height="3.6" fill="#a9a9a9"/><rect x="94.93" y="172" width="3.6" height="3.6" fill="#a9a9a9"/><rect x="94.93" y="175.55" width="3.6" height="3.6" fill="#b9b9b9"/><rect x="94.93" y="179.1" width="3.6" height="3.6" fill="#cacaca"/><rect x="94.93" y="182.64" width="3.6" height="3.6" fill="#dbdbdb"/><rect x="94.93" y="186.19" width="3.6" height="3.6" fill="#dbdbdb"/><rect x="94.93" y="189.74" width="3.6" height="3.6" fill="#dbdbdb"/><rect x="94.93" y="193.29" width="3.6" height="3.6" fill="#dbdbdb"/><rect x="94.93" y="196.83" width="3.6" height="3.6" fill="#dbdbdb"/><rect x="94.93" y="200.38" width="3.6" height="3.6" fill="#dbdbdb"/><rect x="94.93" y="203.93" width="3.6" height="3.6" fill="#dbdbdb"/><rect x="94.93" y="207.48" width="3.6" height="3.6" fill="#dedede"/><rect x="94.93" y="211.02" width="3.6" height="3.6" fill="#dedede"/><rect x="94.93" y="214.57" width="3.6" height="3.6" fill="#dedede"/><rect x="94.93" y="218.12" width="3.6" height="3.6" fill="#dedede"/><rect x="94.93" y="221.67" width="3.6" height="3.6" fill="#dedede"/><rect x="94.93" y="225.21" width="3.6" height="3.6" fill="#dedede"/><rect x="94.93" y="228.76" width="3.6" height="3.6" fill="#dedede"/><rect x="94.93" y="232.31" width="3.6" height="3.6" fill="#d7d7d7"/><rect x="94.93" y="235.86" width="3.6" height="3.6" fill="#c7c7c7"/><rect x="94.93" y="239.4" width="3.6" height="3.6" fill="#b8b8b8"/><rect x="94.93" y="242.95" width="3.6" height="3.6" fill="#a8a8a8"/><rect x="94.93" y="246.5" width="3.6" height="3.6" fill="#a8a8a8"/><rect x="98.48" y="168.45" width="3.6" height="3.6" fill="#a6a6a6"/><rect x="98.48" y="172" width="3.6" height="3.6" fill="#a6a6a6"/><rect x="98.48" y="175.55" width="3.6" height="3.6" fill="#b6b6b6"/><rect x="98.48" y="179.1" width="3.6" height="3.6" fill="#c7c7c7"/><rect x="98.48" y="182.64" width="3.6" height="3.6" fill="#d9d9d9"/><rect x="98.48" y="186.19" width="3.6" height="3.6" fill="#d9d9d9"/><rect x="98.48" y="189.74" width="3.6" height="3.6" fill="#d9d9d9"/><rect x="98.48" y="193.29" width="3.6" height="3.6" fill="#d9d9d9"/><rect x="98.48" y="196.83" width="3.6" height="3.6" fill="#d9d9d9"/><rect x="98.48" y="200.38" width="3.6" height="3.6" fill="#d9d9d9"/><rect x="98.48" y="203.93" width="3.6" height="3.6" fill="#d9d9d9"/><rect x="98.48" y="207.48" width="3.6" height="3.6" fill="#d9d9d9"/><rect x="98.48" y="211.02" width="3.6" height="3.6" fill="#dedede"/><rect x="98.48" y="214.57" width="3.6" height="3.6" fill="#dedede"/><rect x="98.48" y="218.12" width="3.6" height="3.6" fill="#dedede"/><rect x="98.48" y="221.67" width="3.6" height="3.6" fill="#dedede"/><rect x="98.48" y="225.21" width="3.6" height="3.6" fill="#dedede"/><rect x="98.48" y="228.76" width="3.6" height="3.6" fill="#dedede"/><rect x="98.48" y="232.31" width="3.6" height="3.6" fill="#d7d7d7"/><rect x="98.48" y="235.86" width="3.6" height="3.6" fill="#c7c7c7"/><rect x="98.48" y="239.4" width="3.6" height="3.6" fill="#b8b8b8"/><rect x="98.48" y="242.95" width="3.6" height="3.6" fill="#a8a8a8"/><rect x="98.48" y="246.5" width="3.6" height="3.6" fill="#a8a8a8"/><rect x="102.02" y="168.45" width="3.6" height="3.6" fill="#a2a2a2"/><rect x="102.02" y="172" width="3.6" height="3.6" fill="#a2a2a2"/><rect x="102.02" y="175.55" width="3.6" height="3.6" fill="#b2b2b2"/><rect x="102.02" y="179.1" width="3.6" height="3.6" fill="#c3c3c3"/><rect x="102.02" y="182.64" width="3.6" height="3.6" fill="#d5d5d5"/><rect x="102.02" y="186.19" width="3.6" height="3.6" fill="#d5d5d5"/><rect x="102.02" y="189.74" width="3.6" height="3.6" fill="#d5d5d5"/><rect x="102.02" y="193.29" width="3.6" height="3.6" fill="#d5d5d5"/><rect x="102.02" y="196.83" width="3.6" height="3.6" fill="#d5d5d5"/><rect x="102.02" y="200.38" width="3.6" height="3.6" fill="#d5d5d5"/><rect x="102.02" y="203.93" width="3.6" height="3.6" fill="#d5d5d5"/><rect x="102.02" y="207.48" width="3.6" height="3.6" fill="#d5d5d5"/><rect x="102.02" y="211.02" width="3.6" height="3.6" fill="#d5d5d5"/><rect x="102.02" y="214.57" width="3.6" height="3.6" fill="#dedede"/><rect x="102.02" y="218.12" width="3.6" height="3.6" fill="#dedede"/><rect x="102.02" y="221.67" width="3.6" height="3.6" fill="#dedede"/><rect x="102.02" y="225.21" width="3.6" height="3.6" fill="#dedede"/><rect x="102.02" y="228.76" width="3.6" height="3.6" fill="#dedede"/><rect x="102.02" y="232.31" width="3.6" height="3.6" fill="#d7d7d7"/><rect x="102.02" y="235.86" width="3.6" height="3.6" fill="#c7c7c7"/><rect x="102.02" y="239.4" width="3.6" height="3.6" fill="#b8b8b8"/><rect x="102.02" y="242.95" width="3.6" height="3.6" fill="#a8a8a8"/><rect x="102.02" y="246.5" width="3.6" height="3.6" fill="#a8a8a8"/><rect x="105.57" y="168.45" width="3.6" height="3.6" fill="#9e9e9e"/><rect x="105.57" y="172" width="3.6" height="3.6" fill="#9e9e9e"/><rect x="105.57" y="175.55" width="3.6" height="3.6" fill="#aeaeae"/><rect x="105.57" y="179.1" width="3.6" height="3.6" fill="#bfbfbf"/><rect x="105.57" y="182.64" width="3.6" height="3.6" fill="#d0d0d0"/><rect x="105.57" y="186.19" width="3.6" height="3.6" fill="#d0d0d0"/><rect x="105.57" y="189.74" width="3.6" height="3.6" fill="#d0d0d0"/><rect x="105.57" y="193.29" width="3.6" height="3.6" fill="#d0d0d0"/><rect x="105.57" y="196.83" width="3.6" height="3.6" fill="#d0d0d0"/><rect x="105.57" y="200.38" width="3.6" height="3.6" fill="#d0d0d0"/><rect x="105.57" y="203.93" width="3.6" height="3.6" fill="#d0d0d0"/><rect x="105.57" y="207.48" width="3.6" height="3.6" fill="#d0d0d0"/><rect x="105.57" y="211.02" width="3.6" height="3.6" fill="#d0d0d0"/><rect x="105.57" y="214.57" width="3.6" height="3.6" fill="#d0d0d0"/><rect x="105.57" y="218.12" width="3.6" height="3.6" fill="#dedede"/><rect x="105.57" y="221.67" width="3.6" height="3.6" fill="#dedede"/><rect x="105.57" y="225.21" width="3.6" height="3.6" fill="#dedede"/><rect x="105.57" y="228.76" width="3.6" height="3.6" fill="#dedede"/><rect x="105.57" y="232.31" width="3.6" height="3.6" fill="#d7d7d7"/><rect x="105.57" y="235.86" width="3.6" height="3.6" fill="#c7c7c7"/><rect x="105.57" y="239.4" width="3.6" height="3.6" fill="#b8b8b8"/><rect x="105.57" y="242.95" width="3.6" height="3.6" fill="#a8a8a8"/><rect x="105.57" y="246.5" width="3.6" height="3.6" fill="#a8a8a8"/><rect x="109.12" y="168.45" width="3.6" height="3.6" fill="#999999"/><rect x="109.12" y="172" width="3.6" height="3.6" fill="#999999"/><rect x="109.12" y="175.55" width="3.6" height="3.6" fill="#a9a9a9"/><rect x="109.12" y="179.1" width="3.6" height="3.6" fill="#bababa"/><rect x="109.12" y="182.64" width="3.6" height="3.6" fill="#cccccc"/><rect x="109.12" y="186.19" width="3.6" height="3.6" fill="#cccccc"/><rect x="109.12" y="189.74" width="3.6" height="3.6" fill="#cccccc"/><rect x="109.12" y="193.29" width="3.6" height="3.6" fill="#cccccc"/><rect x="109.12" y="196.83" width="3.6" height="3.6" fill="#cccccc"/><rect x="109.12" y="200.38" width="3.6" height="3.6" fill="#cccccc"/><rect x="109.12" y="203.93" width="3.6" height="3.6" fill="#cccccc"/><rect x="109.12" y="207.48" width="3.6" height="3.6" fill="#cccccc"/><rect x="109.12" y="211.02" width="3.6" height="3.6" fill="#cccccc"/><rect x="109.12" y="214.57" width="3.6" height="3.6" fill="#cccccc"/><rect x="109.12" y="218.12" width="3.6" height="3.6" fill="#cccccc"/><rect x="109.12" y="221.67" width="3.6" height="3.6" fill="#dedede"/><rect x="109.12" y="225.21" width="3.6" height="3.6" fill="#dedede"/><rect x="109.12" y="228.76" width="3.6" height="3.6" fill="#dedede"/><rect x="109.12" y="232.31" width="3.6" height="3.6" fill="#d7d7d7"/><rect x="109.12" y="235.86" width="3.6" height="3.6" fill="#c7c7c7"/><rect x="109.12" y="239.4" width="3.6" height="3.6" fill="#b8b8b8"/><rect x="109.12" y="242.95" width="3.6" height="3.6" fill="#a8a8a8"/><rect x="109.12" y="246.5" width="3.6" height="3.6" fill="#a8a8a8"/><rect x="112.67" y="168.45" width="3.6" height="3.6" fill="#949494"/><rect x="112.67" y="172" width="3.6" height="3.6" fill="#949494"/><rect x="112.67" y="175.55" width="3.6" height="3.6" fill="#a4a4a4"/><rect x="112.67" y="179.1" width="3.6" height="3.6" fill="#b5b5b5"/><rect x="112.67" y="182.64" width="3.6" height="3.6" fill="#c6c6c6"/><rect x="112.67" y="186.19" width="3.6" height="3.6" fill="#c6c6c6"/><rect x="112.67" y="189.74" width="3.6" height="3.6" fill="#c6c6c6"/><rect x="112.67" y="193.29" width="3.6" height="3.6" fill="#c6c6c6"/><rect x="112.67" y="196.83" width="3.6" height="3.6" fill="#c6c6c6"/><rect x="112.67" y="200.38" width="3.6" height="3.6" fill="#c6c6c6"/><rect x="112.67" y="203.93" width="3.6" height="3.6" fill="#c6c6c6"/><rect x="112.67" y="207.48" width="3.6" height="3.6" fill="#c6c6c6"/><rect x="112.67" y="211.02" width="3.6" height="3.6" fill="#c6c6c6"/><rect x="112.67" y="214.57" width="3.6" height="3.6" fill="#c6c6c6"/><rect x="112.67" y="218.12" width="3.6" height="3.6" fill="#c6c6c6"/><rect x="112.67" y="221.67" width="3.6" height="3.6" fill="#c6c6c6"/><rect x="112.67" y="225.21" width="3.6" height="3.6" fill="#dedede"/><rect x="112.67" y="228.76" width="3.6" height="3.6" fill="#dedede"/><rect x="112.67" y="232.31" width="3.6" height="3.6" fill="#d7d7d7"/><rect x="112.67" y="235.86" width="3.6" height="3.6" fill="#c7c7c7"/><rect x="112.67" y="239.4" width="3.6" height="3.6" fill="#b8b8b8"/><rect x="112.67" y="242.95" width="3.6" height="3.6" fill="#a8a8a8"/><rect x="112.67" y="246.5" width="3.6" height="3.6" fill="#a8a8a8"/><rect x="116.21" y="168.45" width="3.6" height="3.6" fill="#949494"/><rect x="116.21" y="172" width="3.6" height="3.6" fill="#949494"/><rect x="116.21" y="175.55" width="3.6" height="3.6" fill="#9e9e9e"/><rect x="116.21" y="179.1" width="3.6" height="3.6" fill="#afafaf"/><rect x="116.21" y="182.64" width="3.6" height="3.6" fill="#c1c1c1"/><rect x="116.21" y="186.19" width="3.6" height="3.6" fill="#c1c1c1"/><rect x="116.21" y="189.74" width="3.6" height="3.6" fill="#c1c1c1"/><rect x="116.21" y="193.29" width="3.6" height="3.6" fill="#c1c1c1"/><rect x="116.21" y="196.83" width="3.6" height="3.6" fill="#c1c1c1"/><rect x="116.21" y="200.38" width="3.6" height="3.6" fill="#c1c1c1"/><rect x="116.21" y="203.93" width="3.6" height="3.6" fill="#c1c1c1"/><rect x="116.21" y="207.48" width="3.6" height="3.6" fill="#c1c1c1"/><rect x="116.21" y="211.02" width="3.6" height="3.6" fill="#c1c1c1"/><rect x="116.21" y="214.57" width="3.6" height="3.6" fill="#c1c1c1"/><rect x="116.21" y="218.12" width="3.6" height="3.6" fill="#c1c1c1"/><rect x="116.21" y="221.67" width="3.6" height="3.6" fill="#c1c1c1"/><rect x="116.21" y="225.21" width="3.6" height="3.6" fill="#c1c1c1"/><rect x="116.21" y="228.76" width="3.6" height="3.6" fill="#dedede"/><rect x="116.21" y="232.31" width="3.6" height="3.6" fill="#d7d7d7"/><rect x="116.21" y="235.86" width="3.6" height="3.6" fill="#c7c7c7"/><rect x="116.21" y="239.4" width="3.6" height="3.6" fill="#b8b8b8"/><rect x="116.21" y="242.95" width="3.6" height="3.6" fill="#a8a8a8"/><rect x="116.21" y="246.5" width="3.6" height="3.6" fill="#a8a8a8"/><rect x="119.76" y="168.45" width="3.6" height="3.6" fill="#949494"/><rect x="119.76" y="172" width="3.6" height="3.6" fill="#949494"/><rect x="119.76" y="175.55" width="3.6" height="3.6" fill="#999999"/><rect x="119.76" y="179.1" width="3.6" height="3.6" fill="#aaaaaa"/><rect x="119.76" y="182.64" width="3.6" height="3.6" fill="#bbbbbb"/><rect x="119.76" y="186.19" width="3.6" height="3.6" fill="#bbbbbb"/><rect x="119.76" y="189.74" width="3.6" height="3.6" fill="#bbbbbb"/><rect x="119.76" y="193.29" width="3.6" height="3.6" fill="#bbbbbb"/><rect x="119.76" y="196.83" width="3.6" height="3.6" fill="#bbbbbb"/><rect x="119.76" y="200.38" width="3.6" height="3.6" fill="#bbbbbb"/><rect x="119.76" y="203.93" width="3.6" height="3.6" fill="#bbbbbb"/><rect x="119.76" y="207.48" width="3.6" height="3.6" fill="#bbbbbb"/><rect x="119.76" y="211.02" width="3.6" height="3.6" fill="#bbbbbb"/><rect x="119.76" y="214.57" width="3.6" height="3.6" fill="#bbbbbb"/><rect x="119.76" y="218.12" width="3.6" height="3.6" fill="#bbbbbb"/><rect x="119.76" y="221.67" width="3.6" height="3.6" fill="#bbbbbb"/><rect x="119.76" y="225.21" width="3.6" height="3.6" fill="#bbbbbb"/><rect x="119.76" y="228.76" width="3.6" height="3.6" fill="#bbbbbb"/><rect x="119.76" y="232.31" width="3.6" height="3.6" fill="#d7d7d7"/><rect x="119.76" y="235.86" width="3.6" height="3.6" fill="#c7c7c7"/><rect x="119.76" y="239.4" width="3.6" height="3.6" fill="#b8b8b8"/><rect x="119.76" y="242.95" width="3.6" height="3.6" fill="#a8a8a8"/><rect x="119.76" y="246.5" width="3.6" height="3.6" fill="#a8a8a8"/><rect x="123.31" y="168.45" width="3.6" height="3.6" fill="#949494"/><rect x="123.31" y="172" width="3.6" height="3.6" fill="#949494"/><rect x="123.31" y="175.55" width="3.6" height="3.6" fill="#949494"/><rect x="123.31" y="179.1" width="3.6" height="3.6" fill="#a4a4a4"/><rect x="123.31" y="182.64" width="3.6" height="3.6" fill="#b6b6b6"/><rect x="123.31" y="186.19" width="3.6" height="3.6" fill="#b6b6b6"/><rect x="123.31" y="189.74" width="3.6" height="3.6" fill="#b6b6b6"/><rect x="123.31" y="193.29" width="3.6" height="3.6" fill="#b6b6b6"/><rect x="123.31" y="196.83" width="3.6" height="3.6" fill="#b6b6b6"/><rect x="123.31" y="200.38" width="3.6" height="3.6" fill="#b6b6b6"/><rect x="123.31" y="203.93" width="3.6" height="3.6" fill="#b6b6b6"/><rect x="123.31" y="207.48" width="3.6" height="3.6" fill="#b6b6b6"/><rect x="123.31" y="211.02" width="3.6" height="3.6" fill="#b6b6b6"/><rect x="123.31" y="214.57" width="3.6" height="3.6" fill="#b6b6b6"/><rect x="123.31" y="218.12" width="3.6" height="3.6" fill="#b6b6b6"/><rect x="123.31" y="221.67" width="3.6" height="3.6" fill="#b6b6b6"/><rect x="123.31" y="225.21" width="3.6" height="3.6" fill="#b6b6b6"/><rect x="123.31" y="228.76" width="3.6" height="3.6" fill="#b6b6b6"/><rect x="123.31" y="232.31" width="3.6" height="3.6" fill="#b6b6b6"/><rect x="123.31" y="235.86" width="3.6" height="3.6" fill="#c7c7c7"/><rect x="123.31" y="239.4" width="3.6" height="3.6" fill="#b8b8b8"/><rect x="123.31" y="242.95" width="3.6" height="3.6" fill="#a8a8a8"/><rect x="123.31" y="246.5" width="3.6" height="3.6" fill="#a8a8a8"/><rect x="126.86" y="168.45" width="3.6" height="3.6" fill="#949494"/><rect x="126.86" y="172" width="3.6" height="3.6" fill="#949494"/><rect x="126.86" y="175.55" width="3.6" height="3.6" fill="#949494"/><rect x="126.86" y="179.1" width="3.6" height="3.6" fill="#9e9e9e"/><rect x="126.86" y="182.64" width="3.6" height="3.6" fill="#b0b0b0"/><rect x="126.86" y="186.19" width="3.6" height="3.6" fill="#b0b0b0"/><rect x="126.86" y="189.74" width="3.6" height="3.6" fill="#b0b0b0"/><rect x="126.86" y="193.29" width="3.6" height="3.6" fill="#b0b0b0"/><rect x="126.86" y="196.83" width="3.6" height="3.6" fill="#b0b0b0"/><rect x="126.86" y="200.38" width="3.6" height="3.6" fill="#b0b0b0"/><rect x="126.86" y="203.93" width="3.6" height="3.6" fill="#b0b0b0"/><rect x="126.86" y="207.48" width="3.6" height="3.6" fill="#b0b0b0"/><rect x="126.86" y="211.02" width="3.6" height="3.6" fill="#b0b0b0"/><rect x="126.86" y="214.57" width="3.6" height="3.6" fill="#b0b0b0"/><rect x="126.86" y="218.12" width="3.6" height="3.6" fill="#b0b0b0"/><rect x="126.86" y="221.67" width="3.6" height="3.6" fill="#b0b0b0"/><rect x="126.86" y="225.21" width="3.6" height="3.6" fill="#b0b0b0"/><rect x="126.86" y="228.76" width="3.6" height="3.6" fill="#b0b0b0"/><rect x="126.86" y="232.31" width="3.6" height="3.6" fill="#b0b0b0"/><rect x="126.86" y="235.86" width="3.6" height="3.6" fill="#b0b0b0"/><rect x="126.86" y="239.4" width="3.6" height="3.6" fill="#b8b8b8"/><rect x="126.86" y="242.95" width="3.6" height="3.6" fill="#a8a8a8"/><rect x="126.86" y="246.5" width="3.6" height="3.6" fill="#a8a8a8"/><rect x="130.4" y="168.45" width="3.6" height="3.6" fill="#949494"/><rect x="130.4" y="172" width="3.6" height="3.6" fill="#949494"/><rect x="130.4" y="175.55" width="3.6" height="3.6" fill="#949494"/><rect x="130.4" y="179.1" width="3.6" height="3.6" fill="#989898"/><rect x="130.4" y="182.64" width="3.6" height="3.6" fill="#aaaaaa"/><rect x="130.4" y="186.19" width="3.6" height="3.6" fill="#aaaaaa"/><rect x="130.4" y="189.74" width="3.6" height="3.6" fill="#aaaaaa"/><rect x="130.4" y="193.29" width="3.6" height="3.6" fill="#aaaaaa"/><rect x="130.4" y="196.83" width="3.6" height="3.6" fill="#aaaaaa"/><rect x="130.4" y="200.38" width="3.6" height="3.6" fill="#aaaaaa"/><rect x="130.4" y="203.93" width="3.6" height="3.6" fill="#aaaaaa"/><rect x="130.4" y="207.48" width="3.6" height="3.6" fill="#aaaaaa"/><rect x="130.4" y="211.02" width="3.6" height="3.6" fill="#aaaaaa"/><rect x="130.4" y="214.57" width="3.6" height="3.6" fill="#aaaaaa"/><rect x="130.4" y="218.12" width="3.6" height="3.6" fill="#aaaaaa"/><rect x="130.4" y="221.67" width="3.6" height="3.6" fill="#aaaaaa"/><rect x="130.4" y="225.21" width="3.6" height="3.6" fill="#aaaaaa"/><rect x="130.4" y="228.76" width="3.6" height="3.6" fill="#aaaaaa"/><rect x="130.4" y="232.31" width="3.6" height="3.6" fill="#aaaaaa"/><rect x="130.4" y="235.86" width="3.6" height="3.6" fill="#aaaaaa"/><rect x="130.4" y="239.4" width="3.6" height="3.6" fill="#aaaaaa"/><rect x="130.4" y="242.95" width="3.6" height="3.6" fill="#a8a8a8"/><rect x="130.4" y="246.5" width="3.6" height="3.6" fill="#a8a8a8"/><rect x="133.95" y="168.45" width="3.6" height="3.6" fill="#949494"/><rect x="133.95" y="172" width="3.6" height="3.6" fill="#949494"/><rect x="133.95" y="175.55" width="3.6" height="3.6" fill="#949494"/><rect x="133.95" y="179.1" width="3.6" height="3.6" fill="#949494"/><rect x="133.95" y="182.64" width="3.6" height="3.6" fill="#a4a4a4"/><rect x="133.95" y="186.19" width="3.6" height="3.6" fill="#a4a4a4"/><rect x="133.95" y="189.74" width="3.6" height="3.6" fill="#a4a4a4"/><rect x="133.95" y="193.29" width="3.6" height="3.6" fill="#a4a4a4"/><rect x="133.95" y="196.83" width="3.6" height="3.6" fill="#a4a4a4"/><rect x="133.95" y="200.38" width="3.6" height="3.6" fill="#a4a4a4"/><rect x="133.95" y="203.93" width="3.6" height="3.6" fill="#a4a4a4"/><rect x="133.95" y="207.48" width="3.6" height="3.6" fill="#a4a4a4"/><rect x="133.95" y="211.02" width="3.6" height="3.6" fill="#a4a4a4"/><rect x="133.95" y="214.57" width="3.6" height="3.6" fill="#a4a4a4"/><rect x="133.95" y="218.12" width="3.6" height="3.6" fill="#a4a4a4"/><rect x="133.95" y="221.67" width="3.6" height="3.6" fill="#a4a4a4"/><rect x="133.95" y="225.21" width="3.6" height="3.6" fill="#a4a4a4"/><rect x="133.95" y="228.76" width="3.6" height="3.6" fill="#a4a4a4"/><rect x="133.95" y="232.31" width="3.6" height="3.6" fill="#a4a4a4"/><rect x="133.95" y="235.86" width="3.6" height="3.6" fill="#a4a4a4"/><rect x="133.95" y="239.4" width="3.6" height="3.6" fill="#a4a4a4"/><rect x="133.95" y="242.95" width="3.6" height="3.6" fill="#a4a4a4"/><rect x="133.95" y="246.5" width="3.6" height="3.6" fill="#a4a4a4"/><rect x="137.5" y="168.45" width="3.6" height="3.6" fill="#949494"/><rect x="137.5" y="172" width="3.6" height="3.6" fill="#949494"/><rect x="137.5" y="175.55" width="3.6" height="3.6" fill="#949494"/><rect x="137.5" y="179.1" width="3.6" height="3.6" fill="#949494"/><rect x="137.5" y="182.64" width="3.6" height="3.6" fill="#a4a4a4"/><rect x="137.5" y="186.19" width="3.6" height="3.6" fill="#a4a4a4"/><rect x="137.5" y="189.74" width="3.6" height="3.6" fill="#a4a4a4"/><rect x="137.5" y="193.29" width="3.6" height="3.6" fill="#a4a4a4"/><rect x="137.5" y="196.83" width="3.6" height="3.6" fill="#a4a4a4"/><rect x="137.5" y="200.38" width="3.6" height="3.6" fill="#a4a4a4"/><rect x="137.5" y="203.93" width="3.6" height="3.6" fill="#a4a4a4"/><rect x="137.5" y="207.48" width="3.6" height="3.6" fill="#a4a4a4"/><rect x="137.5" y="211.02" width="3.6" height="3.6" fill="#a4a4a4"/><rect x="137.5" y="214.57" width="3.6" height="3.6" fill="#a4a4a4"/><rect x="137.5" y="218.12" width="3.6" height="3.6" fill="#a4a4a4"/><rect x="137.5" y="221.67" width="3.6" height="3.6" fill="#a4a4a4"/><rect x="137.5" y="225.21" width="3.6" height="3.6" fill="#a4a4a4"/><rect x="137.5" y="228.76" width="3.6" height="3.6" fill="#a4a4a4"/><rect x="137.5" y="232.31" width="3.6" height="3.6" fill="#a4a4a4"/><rect x="137.5" y="235.86" width="3.6" height="3.6" fill="#a4a4a4"/><rect x="137.5" y="239.4" width="3.6" height="3.6" fill="#a4a4a4"/><rect x="137.5" y="242.95" width="3.6" height="3.6" fill="#a4a4a4"/><rect x="137.5" y="246.5" width="3.6" height="3.6" fill="#a4a4a4"/></g></g></g></g>
<g stroke="#0c0000" stroke-opacity="0.85" stroke-width="1.6"><line x1="64.77" y1="173.77" x2="64.77" y2="244.4"/><line x1="68.32" y1="177.32" x2="68.32" y2="244.4"/><line x1="71.87" y1="180.87" x2="71.87" y2="244.4"/><line x1="75.42" y1="184.42" x2="75.42" y2="244.4"/><line x1="78.96" y1="187.96" x2="78.96" y2="244.4"/><line x1="82.51" y1="191.51" x2="82.51" y2="244.4"/><line x1="86.06" y1="195.06" x2="86.06" y2="244.4"/><line x1="89.61" y1="198.61" x2="89.61" y2="244.4"/><line x1="93.15" y1="202.15" x2="93.15" y2="244.4"/><line x1="96.7" y1="205.7" x2="96.7" y2="244.4"/><line x1="100.25" y1="209.25" x2="100.25" y2="244.4"/><line x1="103.8" y1="212.8" x2="103.8" y2="244.4"/><line x1="107.35" y1="216.35" x2="107.35" y2="244.4"/><line x1="110.89" y1="219.89" x2="110.89" y2="244.4"/><line x1="114.44" y1="223.44" x2="114.44" y2="244.4"/><line x1="117.99" y1="226.99" x2="117.99" y2="244.4"/><line x1="121.54" y1="230.54" x2="121.54" y2="244.4"/><line x1="125.08" y1="234.08" x2="125.08" y2="244.4"/><line x1="128.63" y1="237.63" x2="128.63" y2="244.4"/><line x1="132.18" y1="241.18" x2="132.18" y2="244.4"/><line x1="135.73" y1="244.73" x2="135.73" y2="244.4"/></g>
<g stroke="#0c0000" stroke-opacity="0.7" stroke-width="1.4"><line x1="68.32" y1="177.32" x2="135.5" y2="177.32"/><line x1="71.87" y1="180.87" x2="135.5" y2="180.87"/><line x1="75.42" y1="184.42" x2="135.5" y2="184.42"/><line x1="78.96" y1="187.96" x2="135.5" y2="187.96"/><line x1="82.51" y1="191.51" x2="135.5" y2="191.51"/><line x1="86.06" y1="195.06" x2="135.5" y2="195.06"/><line x1="89.61" y1="198.61" x2="135.5" y2="198.61"/><line x1="93.15" y1="202.15" x2="135.5" y2="202.15"/><line x1="96.7" y1="205.7" x2="135.5" y2="205.7"/><line x1="100.25" y1="209.25" x2="135.5" y2="209.25"/><line x1="103.8" y1="212.8" x2="135.5" y2="212.8"/><line x1="107.35" y1="216.35" x2="135.5" y2="216.35"/><line x1="110.89" y1="219.89" x2="135.5" y2="219.89"/><line x1="114.44" y1="223.44" x2="135.5" y2="223.44"/><line x1="117.99" y1="226.99" x2="135.5" y2="226.99"/><line x1="121.54" y1="230.54" x2="135.5" y2="230.54"/><line x1="125.08" y1="234.08" x2="135.5" y2="234.08"/><line x1="128.63" y1="237.63" x2="135.5" y2="237.63"/><line x1="132.18" y1="241.18" x2="135.5" y2="241.18"/><line x1="135.73" y1="244.73" x2="135.5" y2="244.73"/></g>
<g fill="#000" stroke="#0a4048" stroke-opacity="0.45" stroke-width="0.6"><ellipse cx="64.77" cy="173.77" rx="1.15" ry="0.95"/><ellipse cx="64.77" cy="177.32" rx="0.95" ry="1.15"/><ellipse cx="64.77" cy="180.87" rx="0.95" ry="1.15"/><ellipse cx="64.77" cy="184.42" rx="0.95" ry="1.15"/><ellipse cx="64.77" cy="187.96" rx="0.95" ry="1.15"/><ellipse cx="64.77" cy="191.51" rx="0.95" ry="1.15"/><ellipse cx="64.77" cy="195.06" rx="0.95" ry="1.15"/><ellipse cx="64.77" cy="198.61" rx="0.95" ry="1.15"/><ellipse cx="64.77" cy="202.15" rx="0.95" ry="1.15"/><ellipse cx="64.77" cy="205.7" rx="0.95" ry="1.15"/><ellipse cx="64.77" cy="209.25" rx="0.95" ry="1.15"/><ellipse cx="64.77" cy="212.8" rx="0.95" ry="1.15"/><ellipse cx="64.77" cy="216.35" rx="0.95" ry="1.15"/><ellipse cx="64.77" cy="219.89" rx="0.95" ry="1.15"/><ellipse cx="64.77" cy="223.44" rx="0.95" ry="1.15"/><ellipse cx="64.77" cy="226.99" rx="0.95" ry="1.15"/><ellipse cx="64.77" cy="230.54" rx="0.95" ry="1.15"/><ellipse cx="64.77" cy="234.08" rx="0.95" ry="1.15"/><ellipse cx="64.77" cy="237.63" rx="0.95" ry="1.15"/><ellipse cx="64.77" cy="241.18" rx="0.95" ry="1.15"/><ellipse cx="64.77" cy="244.73" rx="0.95" ry="1.15"/><ellipse cx="68.32" cy="173.77" rx="1.15" ry="0.95"/><ellipse cx="68.32" cy="177.32" rx="1.15" ry="0.95"/><ellipse cx="68.32" cy="180.87" rx="0.95" ry="1.15"/><ellipse cx="68.32" cy="184.42" rx="0.95" ry="1.15"/><ellipse cx="68.32" cy="187.96" rx="0.95" ry="1.15"/><ellipse cx="68.32" cy="191.51" rx="0.95" ry="1.15"/><ellipse cx="68.32" cy="195.06" rx="0.95" ry="1.15"/><ellipse cx="68.32" cy="198.61" rx="0.95" ry="1.15"/><ellipse cx="68.32" cy="202.15" rx="0.95" ry="1.15"/><ellipse cx="68.32" cy="205.7" rx="0.95" ry="1.15"/><ellipse cx="68.32" cy="209.25" rx="0.95" ry="1.15"/><ellipse cx="68.32" cy="212.8" rx="0.95" ry="1.15"/><ellipse cx="68.32" cy="216.35" rx="0.95" ry="1.15"/><ellipse cx="68.32" cy="219.89" rx="0.95" ry="1.15"/><ellipse cx="68.32" cy="223.44" rx="0.95" ry="1.15"/><ellipse cx="68.32" cy="226.99" rx="0.95" ry="1.15"/><ellipse cx="68.32" cy="230.54" rx="0.95" ry="1.15"/><ellipse cx="68.32" cy="234.08" rx="0.95" ry="1.15"/><ellipse cx="68.32" cy="237.63" rx="0.95" ry="1.15"/><ellipse cx="68.32" cy="241.18" rx="0.95" ry="1.15"/><ellipse cx="68.32" cy="244.73" rx="0.95" ry="1.15"/><ellipse cx="71.87" cy="173.77" rx="1.15" ry="0.95"/><ellipse cx="71.87" cy="177.32" rx="1.15" ry="0.95"/><ellipse cx="71.87" cy="180.87" rx="1.15" ry="0.95"/><ellipse cx="71.87" cy="184.42" rx="0.95" ry="1.15"/><ellipse cx="71.87" cy="187.96" rx="0.95" ry="1.15"/><ellipse cx="71.87" cy="191.51" rx="0.95" ry="1.15"/><ellipse cx="71.87" cy="195.06" rx="0.95" ry="1.15"/><ellipse cx="71.87" cy="198.61" rx="0.95" ry="1.15"/><ellipse cx="71.87" cy="202.15" rx="0.95" ry="1.15"/><ellipse cx="71.87" cy="205.7" rx="0.95" ry="1.15"/><ellipse cx="71.87" cy="209.25" rx="0.95" ry="1.15"/><ellipse cx="71.87" cy="212.8" rx="0.95" ry="1.15"/><ellipse cx="71.87" cy="216.35" rx="0.95" ry="1.15"/><ellipse cx="71.87" cy="219.89" rx="0.95" ry="1.15"/><ellipse cx="71.87" cy="223.44" rx="0.95" ry="1.15"/><ellipse cx="71.87" cy="226.99" rx="0.95" ry="1.15"/><ellipse cx="71.87" cy="230.54" rx="0.95" ry="1.15"/><ellipse cx="71.87" cy="234.08" rx="0.95" ry="1.15"/><ellipse cx="71.87" cy="237.63" rx="0.95" ry="1.15"/><ellipse cx="71.87" cy="241.18" rx="0.95" ry="1.15"/><ellipse cx="71.87" cy="244.73" rx="0.95" ry="1.15"/><ellipse cx="75.42" cy="173.77" rx="1.15" ry="0.95"/><ellipse cx="75.42" cy="177.32" rx="1.15" ry="0.95"/><ellipse cx="75.42" cy="180.87" rx="1.15" ry="0.95"/><ellipse cx="75.42" cy="184.42" rx="1.15" ry="0.95"/><ellipse cx="75.42" cy="187.96" rx="0.95" ry="1.15"/><ellipse cx="75.42" cy="191.51" rx="0.95" ry="1.15"/><ellipse cx="75.42" cy="195.06" rx="0.95" ry="1.15"/><ellipse cx="75.42" cy="198.61" rx="0.95" ry="1.15"/><ellipse cx="75.42" cy="202.15" rx="0.95" ry="1.15"/><ellipse cx="75.42" cy="205.7" rx="0.95" ry="1.15"/><ellipse cx="75.42" cy="209.25" rx="0.95" ry="1.15"/><ellipse cx="75.42" cy="212.8" rx="0.95" ry="1.15"/><ellipse cx="75.42" cy="216.35" rx="0.95" ry="1.15"/><ellipse cx="75.42" cy="219.89" rx="0.95" ry="1.15"/><ellipse cx="75.42" cy="223.44" rx="0.95" ry="1.15"/><ellipse cx="75.42" cy="226.99" rx="0.95" ry="1.15"/><ellipse cx="75.42" cy="230.54" rx="0.95" ry="1.15"/><ellipse cx="75.42" cy="234.08" rx="0.95" ry="1.15"/><ellipse cx="75.42" cy="237.63" rx="0.95" ry="1.15"/><ellipse cx="75.42" cy="241.18" rx="0.95" ry="1.15"/><ellipse cx="75.42" cy="244.73" rx="0.95" ry="1.15"/><ellipse cx="78.96" cy="173.77" rx="1.15" ry="0.95"/><ellipse cx="78.96" cy="177.32" rx="1.15" ry="0.95"/><ellipse cx="78.96" cy="180.87" rx="1.15" ry="0.95"/><ellipse cx="78.96" cy="184.42" rx="1.15" ry="0.95"/><ellipse cx="78.96" cy="187.96" rx="1.15" ry="0.95"/><ellipse cx="78.96" cy="191.51" rx="0.95" ry="1.15"/><ellipse cx="78.96" cy="195.06" rx="0.95" ry="1.15"/><ellipse cx="78.96" cy="198.61" rx="0.95" ry="1.15"/><ellipse cx="78.96" cy="202.15" rx="0.95" ry="1.15"/><ellipse cx="78.96" cy="205.7" rx="0.95" ry="1.15"/><ellipse cx="78.96" cy="209.25" rx="0.95" ry="1.15"/><ellipse cx="78.96" cy="212.8" rx="0.95" ry="1.15"/><ellipse cx="78.96" cy="216.35" rx="0.95" ry="1.15"/><ellipse cx="78.96" cy="219.89" rx="0.95" ry="1.15"/><ellipse cx="78.96" cy="223.44" rx="0.95" ry="1.15"/><ellipse cx="78.96" cy="226.99" rx="0.95" ry="1.15"/><ellipse cx="78.96" cy="230.54" rx="0.95" ry="1.15"/><ellipse cx="78.96" cy="234.08" rx="0.95" ry="1.15"/><ellipse cx="78.96" cy="237.63" rx="0.95" ry="1.15"/><ellipse cx="78.96" cy="241.18" rx="0.95" ry="1.15"/><ellipse cx="78.96" cy="244.73" rx="0.95" ry="1.15"/><ellipse cx="82.51" cy="173.77" rx="1.15" ry="0.95"/><ellipse cx="82.51" cy="177.32" rx="1.15" ry="0.95"/><ellipse cx="82.51" cy="180.87" rx="1.15" ry="0.95"/><ellipse cx="82.51" cy="184.42" rx="1.15" ry="0.95"/><ellipse cx="82.51" cy="187.96" rx="1.15" ry="0.95"/><ellipse cx="82.51" cy="191.51" rx="1.15" ry="0.95"/><ellipse cx="82.51" cy="195.06" rx="0.95" ry="1.15"/><ellipse cx="82.51" cy="198.61" rx="0.95" ry="1.15"/><ellipse cx="82.51" cy="202.15" rx="0.95" ry="1.15"/><ellipse cx="82.51" cy="205.7" rx="0.95" ry="1.15"/><ellipse cx="82.51" cy="209.25" rx="0.95" ry="1.15"/><ellipse cx="82.51" cy="212.8" rx="0.95" ry="1.15"/><ellipse cx="82.51" cy="216.35" rx="0.95" ry="1.15"/><ellipse cx="82.51" cy="219.89" rx="0.95" ry="1.15"/><ellipse cx="82.51" cy="223.44" rx="0.95" ry="1.15"/><ellipse cx="82.51" cy="226.99" rx="0.95" ry="1.15"/><ellipse cx="82.51" cy="230.54" rx="0.95" ry="1.15"/><ellipse cx="82.51" cy="234.08" rx="0.95" ry="1.15"/><ellipse cx="82.51" cy="237.63" rx="0.95" ry="1.15"/><ellipse cx="82.51" cy="241.18" rx="0.95" ry="1.15"/><ellipse cx="82.51" cy="244.73" rx="0.95" ry="1.15"/><ellipse cx="86.06" cy="173.77" rx="1.15" ry="0.95"/><ellipse cx="86.06" cy="177.32" rx="1.15" ry="0.95"/><ellipse cx="86.06" cy="180.87" rx="1.15" ry="0.95"/><ellipse cx="86.06" cy="184.42" rx="1.15" ry="0.95"/><ellipse cx="86.06" cy="187.96" rx="1.15" ry="0.95"/><ellipse cx="86.06" cy="191.51" rx="1.15" ry="0.95"/><ellipse cx="86.06" cy="195.06" rx="1.15" ry="0.95"/><ellipse cx="86.06" cy="198.61" rx="0.95" ry="1.15"/><ellipse cx="86.06" cy="202.15" rx="0.95" ry="1.15"/><ellipse cx="86.06" cy="205.7" rx="0.95" ry="1.15"/><ellipse cx="86.06" cy="209.25" rx="0.95" ry="1.15"/><ellipse cx="86.06" cy="212.8" rx="0.95" ry="1.15"/><ellipse cx="86.06" cy="216.35" rx="0.95" ry="1.15"/><ellipse cx="86.06" cy="219.89" rx="0.95" ry="1.15"/><ellipse cx="86.06" cy="223.44" rx="0.95" ry="1.15"/><ellipse cx="86.06" cy="226.99" rx="0.95" ry="1.15"/><ellipse cx="86.06" cy="230.54" rx="0.95" ry="1.15"/><ellipse cx="86.06" cy="234.08" rx="0.95" ry="1.15"/><ellipse cx="86.06" cy="237.63" rx="0.95" ry="1.15"/><ellipse cx="86.06" cy="241.18" rx="0.95" ry="1.15"/><ellipse cx="86.06" cy="244.73" rx="0.95" ry="1.15"/><ellipse cx="89.61" cy="173.77" rx="1.15" ry="0.95"/><ellipse cx="89.61" cy="177.32" rx="1.15" ry="0.95"/><ellipse cx="89.61" cy="180.87" rx="1.15" ry="0.95"/><ellipse cx="89.61" cy="184.42" rx="1.15" ry="0.95"/><ellipse cx="89.61" cy="187.96" rx="1.15" ry="0.95"/><ellipse cx="89.61" cy="191.51" rx="1.15" ry="0.95"/><ellipse cx="89.61" cy="195.06" rx="1.15" ry="0.95"/><ellipse cx="89.61" cy="198.61" rx="1.15" ry="0.95"/><ellipse cx="89.61" cy="202.15" rx="0.95" ry="1.15"/><ellipse cx="89.61" cy="205.7" rx="0.95" ry="1.15"/><ellipse cx="89.61" cy="209.25" rx="0.95" ry="1.15"/><ellipse cx="89.61" cy="212.8" rx="0.95" ry="1.15"/><ellipse cx="89.61" cy="216.35" rx="0.95" ry="1.15"/><ellipse cx="89.61" cy="219.89" rx="0.95" ry="1.15"/><ellipse cx="89.61" cy="223.44" rx="0.95" ry="1.15"/><ellipse cx="89.61" cy="226.99" rx="0.95" ry="1.15"/><ellipse cx="89.61" cy="230.54" rx="0.95" ry="1.15"/><ellipse cx="89.61" cy="234.08" rx="0.95" ry="1.15"/><ellipse cx="89.61" cy="237.63" rx="0.95" ry="1.15"/><ellipse cx="89.61" cy="241.18" rx="0.95" ry="1.15"/><ellipse cx="89.61" cy="244.73" rx="0.95" ry="1.15"/><ellipse cx="93.15" cy="173.77" rx="1.15" ry="0.95"/><ellipse cx="93.15" cy="177.32" rx="1.15" ry="0.95"/><ellipse cx="93.15" cy="180.87" rx="1.15" ry="0.95"/><ellipse cx="93.15" cy="184.42" rx="1.15" ry="0.95"/><ellipse cx="93.15" cy="187.96" rx="1.15" ry="0.95"/><ellipse cx="93.15" cy="191.51" rx="1.15" ry="0.95"/><ellipse cx="93.15" cy="195.06" rx="1.15" ry="0.95"/><ellipse cx="93.15" cy="198.61" rx="1.15" ry="0.95"/><ellipse cx="93.15" cy="202.15" rx="1.15" ry="0.95"/><ellipse cx="93.15" cy="205.7" rx="0.95" ry="1.15"/><ellipse cx="93.15" cy="209.25" rx="0.95" ry="1.15"/><ellipse cx="93.15" cy="212.8" rx="0.95" ry="1.15"/><ellipse cx="93.15" cy="216.35" rx="0.95" ry="1.15"/><ellipse cx="93.15" cy="219.89" rx="0.95" ry="1.15"/><ellipse cx="93.15" cy="223.44" rx="0.95" ry="1.15"/><ellipse cx="93.15" cy="226.99" rx="0.95" ry="1.15"/><ellipse cx="93.15" cy="230.54" rx="0.95" ry="1.15"/><ellipse cx="93.15" cy="234.08" rx="0.95" ry="1.15"/><ellipse cx="93.15" cy="237.63" rx="0.95" ry="1.15"/><ellipse cx="93.15" cy="241.18" rx="0.95" ry="1.15"/><ellipse cx="93.15" cy="244.73" rx="0.95" ry="1.15"/><ellipse cx="96.7" cy="173.77" rx="1.15" ry="0.95"/><ellipse cx="96.7" cy="177.32" rx="1.15" ry="0.95"/><ellipse cx="96.7" cy="180.87" rx="1.15" ry="0.95"/><ellipse cx="96.7" cy="184.42" rx="1.15" ry="0.95"/><ellipse cx="96.7" cy="187.96" rx="1.15" ry="0.95"/><ellipse cx="96.7" cy="191.51" rx="1.15" ry="0.95"/><ellipse cx="96.7" cy="195.06" rx="1.15" ry="0.95"/><ellipse cx="96.7" cy="198.61" rx="1.15" ry="0.95"/><ellipse cx="96.7" cy="202.15" rx="1.15" ry="0.95"/><ellipse cx="96.7" cy="205.7" rx="1.15" ry="0.95"/><ellipse cx="96.7" cy="209.25" rx="0.95" ry="1.15"/><ellipse cx="96.7" cy="212.8" rx="0.95" ry="1.15"/><ellipse cx="96.7" cy="216.35" rx="0.95" ry="1.15"/><ellipse cx="96.7" cy="219.89" rx="0.95" ry="1.15"/><ellipse cx="96.7" cy="223.44" rx="0.95" ry="1.15"/><ellipse cx="96.7" cy="226.99" rx="0.95" ry="1.15"/><ellipse cx="96.7" cy="230.54" rx="0.95" ry="1.15"/><ellipse cx="96.7" cy="234.08" rx="0.95" ry="1.15"/><ellipse cx="96.7" cy="237.63" rx="0.95" ry="1.15"/><ellipse cx="96.7" cy="241.18" rx="0.95" ry="1.15"/><ellipse cx="96.7" cy="244.73" rx="0.95" ry="1.15"/><ellipse cx="100.25" cy="173.77" rx="1.15" ry="0.95"/><ellipse cx="100.25" cy="177.32" rx="1.15" ry="0.95"/><ellipse cx="100.25" cy="180.87" rx="1.15" ry="0.95"/><ellipse cx="100.25" cy="184.42" rx="1.15" ry="0.95"/><ellipse cx="100.25" cy="187.96" rx="1.15" ry="0.95"/><ellipse cx="100.25" cy="191.51" rx="1.15" ry="0.95"/><ellipse cx="100.25" cy="195.06" rx="1.15" ry="0.95"/><ellipse cx="100.25" cy="198.61" rx="1.15" ry="0.95"/><ellipse cx="100.25" cy="202.15" rx="1.15" ry="0.95"/><ellipse cx="100.25" cy="205.7" rx="1.15" ry="0.95"/><ellipse cx="100.25" cy="209.25" rx="1.15" ry="0.95"/><ellipse cx="100.25" cy="212.8" rx="0.95" ry="1.15"/><ellipse cx="100.25" cy="216.35" rx="0.95" ry="1.15"/><ellipse cx="100.25" cy="219.89" rx="0.95" ry="1.15"/><ellipse cx="100.25" cy="223.44" rx="0.95" ry="1.15"/><ellipse cx="100.25" cy="226.99" rx="0.95" ry="1.15"/><ellipse cx="100.25" cy="230.54" rx="0.95" ry="1.15"/><ellipse cx="100.25" cy="234.08" rx="0.95" ry="1.15"/><ellipse cx="100.25" cy="237.63" rx="0.95" ry="1.15"/><ellipse cx="100.25" cy="241.18" rx="0.95" ry="1.15"/><ellipse cx="100.25" cy="244.73" rx="0.95" ry="1.15"/><ellipse cx="103.8" cy="173.77" rx="1.15" ry="0.95"/><ellipse cx="103.8" cy="177.32" rx="1.15" ry="0.95"/><ellipse cx="103.8" cy="180.87" rx="1.15" ry="0.95"/><ellipse cx="103.8" cy="184.42" rx="1.15" ry="0.95"/><ellipse cx="103.8" cy="187.96" rx="1.15" ry="0.95"/><ellipse cx="103.8" cy="191.51" rx="1.15" ry="0.95"/><ellipse cx="103.8" cy="195.06" rx="1.15" ry="0.95"/><ellipse cx="103.8" cy="198.61" rx="1.15" ry="0.95"/><ellipse cx="103.8" cy="202.15" rx="1.15" ry="0.95"/><ellipse cx="103.8" cy="205.7" rx="1.15" ry="0.95"/><ellipse cx="103.8" cy="209.25" rx="1.15" ry="0.95"/><ellipse cx="103.8" cy="212.8" rx="1.15" ry="0.95"/><ellipse cx="103.8" cy="216.35" rx="0.95" ry="1.15"/><ellipse cx="103.8" cy="219.89" rx="0.95" ry="1.15"/><ellipse cx="103.8" cy="223.44" rx="0.95" ry="1.15"/><ellipse cx="103.8" cy="226.99" rx="0.95" ry="1.15"/><ellipse cx="103.8" cy="230.54" rx="0.95" ry="1.15"/><ellipse cx="103.8" cy="234.08" rx="0.95" ry="1.15"/><ellipse cx="103.8" cy="237.63" rx="0.95" ry="1.15"/><ellipse cx="103.8" cy="241.18" rx="0.95" ry="1.15"/><ellipse cx="103.8" cy="244.73" rx="0.95" ry="1.15"/><ellipse cx="107.35" cy="173.77" rx="1.15" ry="0.95"/><ellipse cx="107.35" cy="177.32" rx="1.15" ry="0.95"/><ellipse cx="107.35" cy="180.87" rx="1.15" ry="0.95"/><ellipse cx="107.35" cy="184.42" rx="1.15" ry="0.95"/><ellipse cx="107.35" cy="187.96" rx="1.15" ry="0.95"/><ellipse cx="107.35" cy="191.51" rx="1.15" ry="0.95"/><ellipse cx="107.35" cy="195.06" rx="1.15" ry="0.95"/><ellipse cx="107.35" cy="198.61" rx="1.15" ry="0.95"/><ellipse cx="107.35" cy="202.15" rx="1.15" ry="0.95"/><ellipse cx="107.35" cy="205.7" rx="1.15" ry="0.95"/><ellipse cx="107.35" cy="209.25" rx="1.15" ry="0.95"/><ellipse cx="107.35" cy="212.8" rx="1.15" ry="0.95"/><ellipse cx="107.35" cy="216.35" rx="1.15" ry="0.95"/><ellipse cx="107.35" cy="219.89" rx="0.95" ry="1.15"/><ellipse cx="107.35" cy="223.44" rx="0.95" ry="1.15"/><ellipse cx="107.35" cy="226.99" rx="0.95" ry="1.15"/><ellipse cx="107.35" cy="230.54" rx="0.95" ry="1.15"/><ellipse cx="107.35" cy="234.08" rx="0.95" ry="1.15"/><ellipse cx="107.35" cy="237.63" rx="0.95" ry="1.15"/><ellipse cx="107.35" cy="241.18" rx="0.95" ry="1.15"/><ellipse cx="107.35" cy="244.73" rx="0.95" ry="1.15"/><ellipse cx="110.89" cy="173.77" rx="1.15" ry="0.95"/><ellipse cx="110.89" cy="177.32" rx="1.15" ry="0.95"/><ellipse cx="110.89" cy="180.87" rx="1.15" ry="0.95"/><ellipse cx="110.89" cy="184.42" rx="1.15" ry="0.95"/><ellipse cx="110.89" cy="187.96" rx="1.15" ry="0.95"/><ellipse cx="110.89" cy="191.51" rx="1.15" ry="0.95"/><ellipse cx="110.89" cy="195.06" rx="1.15" ry="0.95"/><ellipse cx="110.89" cy="198.61" rx="1.15" ry="0.95"/><ellipse cx="110.89" cy="202.15" rx="1.15" ry="0.95"/><ellipse cx="110.89" cy="205.7" rx="1.15" ry="0.95"/><ellipse cx="110.89" cy="209.25" rx="1.15" ry="0.95"/><ellipse cx="110.89" cy="212.8" rx="1.15" ry="0.95"/><ellipse cx="110.89" cy="216.35" rx="1.15" ry="0.95"/><ellipse cx="110.89" cy="219.89" rx="1.15" ry="0.95"/><ellipse cx="110.89" cy="223.44" rx="0.95" ry="1.15"/><ellipse cx="110.89" cy="226.99" rx="0.95" ry="1.15"/><ellipse cx="110.89" cy="230.54" rx="0.95" ry="1.15"/><ellipse cx="110.89" cy="234.08" rx="0.95" ry="1.15"/><ellipse cx="110.89" cy="237.63" rx="0.95" ry="1.15"/><ellipse cx="110.89" cy="241.18" rx="0.95" ry="1.15"/><ellipse cx="110.89" cy="244.73" rx="0.95" ry="1.15"/><ellipse cx="114.44" cy="173.77" rx="1.15" ry="0.95"/><ellipse cx="114.44" cy="177.32" rx="1.15" ry="0.95"/><ellipse cx="114.44" cy="180.87" rx="1.15" ry="0.95"/><ellipse cx="114.44" cy="184.42" rx="1.15" ry="0.95"/><ellipse cx="114.44" cy="187.96" rx="1.15" ry="0.95"/><ellipse cx="114.44" cy="191.51" rx="1.15" ry="0.95"/><ellipse cx="114.44" cy="195.06" rx="1.15" ry="0.95"/><ellipse cx="114.44" cy="198.61" rx="1.15" ry="0.95"/><ellipse cx="114.44" cy="202.15" rx="1.15" ry="0.95"/><ellipse cx="114.44" cy="205.7" rx="1.15" ry="0.95"/><ellipse cx="114.44" cy="209.25" rx="1.15" ry="0.95"/><ellipse cx="114.44" cy="212.8" rx="1.15" ry="0.95"/><ellipse cx="114.44" cy="216.35" rx="1.15" ry="0.95"/><ellipse cx="114.44" cy="219.89" rx="1.15" ry="0.95"/><ellipse cx="114.44" cy="223.44" rx="1.15" ry="0.95"/><ellipse cx="114.44" cy="226.99" rx="0.95" ry="1.15"/><ellipse cx="114.44" cy="230.54" rx="0.95" ry="1.15"/><ellipse cx="114.44" cy="234.08" rx="0.95" ry="1.15"/><ellipse cx="114.44" cy="237.63" rx="0.95" ry="1.15"/><ellipse cx="114.44" cy="241.18" rx="0.95" ry="1.15"/><ellipse cx="114.44" cy="244.73" rx="0.95" ry="1.15"/><ellipse cx="117.99" cy="173.77" rx="1.15" ry="0.95"/><ellipse cx="117.99" cy="177.32" rx="1.15" ry="0.95"/><ellipse cx="117.99" cy="180.87" rx="1.15" ry="0.95"/><ellipse cx="117.99" cy="184.42" rx="1.15" ry="0.95"/><ellipse cx="117.99" cy="187.96" rx="1.15" ry="0.95"/><ellipse cx="117.99" cy="191.51" rx="1.15" ry="0.95"/><ellipse cx="117.99" cy="195.06" rx="1.15" ry="0.95"/><ellipse cx="117.99" cy="198.61" rx="1.15" ry="0.95"/><ellipse cx="117.99" cy="202.15" rx="1.15" ry="0.95"/><ellipse cx="117.99" cy="205.7" rx="1.15" ry="0.95"/><ellipse cx="117.99" cy="209.25" rx="1.15" ry="0.95"/><ellipse cx="117.99" cy="212.8" rx="1.15" ry="0.95"/><ellipse cx="117.99" cy="216.35" rx="1.15" ry="0.95"/><ellipse cx="117.99" cy="219.89" rx="1.15" ry="0.95"/><ellipse cx="117.99" cy="223.44" rx="1.15" ry="0.95"/><ellipse cx="117.99" cy="226.99" rx="1.15" ry="0.95"/><ellipse cx="117.99" cy="230.54" rx="0.95" ry="1.15"/><ellipse cx="117.99" cy="234.08" rx="0.95" ry="1.15"/><ellipse cx="117.99" cy="237.63" rx="0.95" ry="1.15"/><ellipse cx="117.99" cy="241.18" rx="0.95" ry="1.15"/><ellipse cx="117.99" cy="244.73" rx="0.95" ry="1.15"/><ellipse cx="121.54" cy="173.77" rx="1.15" ry="0.95"/><ellipse cx="121.54" cy="177.32" rx="1.15" ry="0.95"/><ellipse cx="121.54" cy="180.87" rx="1.15" ry="0.95"/><ellipse cx="121.54" cy="184.42" rx="1.15" ry="0.95"/><ellipse cx="121.54" cy="187.96" rx="1.15" ry="0.95"/><ellipse cx="121.54" cy="191.51" rx="1.15" ry="0.95"/><ellipse cx="121.54" cy="195.06" rx="1.15" ry="0.95"/><ellipse cx="121.54" cy="198.61" rx="1.15" ry="0.95"/><ellipse cx="121.54" cy="202.15" rx="1.15" ry="0.95"/><ellipse cx="121.54" cy="205.7" rx="1.15" ry="0.95"/><ellipse cx="121.54" cy="209.25" rx="1.15" ry="0.95"/><ellipse cx="121.54" cy="212.8" rx="1.15" ry="0.95"/><ellipse cx="121.54" cy="216.35" rx="1.15" ry="0.95"/><ellipse cx="121.54" cy="219.89" rx="1.15" ry="0.95"/><ellipse cx="121.54" cy="223.44" rx="1.15" ry="0.95"/><ellipse cx="121.54" cy="226.99" rx="1.15" ry="0.95"/><ellipse cx="121.54" cy="230.54" rx="1.15" ry="0.95"/><ellipse cx="121.54" cy="234.08" rx="0.95" ry="1.15"/><ellipse cx="121.54" cy="237.63" rx="0.95" ry="1.15"/><ellipse cx="121.54" cy="241.18" rx="0.95" ry="1.15"/><ellipse cx="121.54" cy="244.73" rx="0.95" ry="1.15"/><ellipse cx="125.08" cy="173.77" rx="1.15" ry="0.95"/><ellipse cx="125.08" cy="177.32" rx="1.15" ry="0.95"/><ellipse cx="125.08" cy="180.87" rx="1.15" ry="0.95"/><ellipse cx="125.08" cy="184.42" rx="1.15" ry="0.95"/><ellipse cx="125.08" cy="187.96" rx="1.15" ry="0.95"/><ellipse cx="125.08" cy="191.51" rx="1.15" ry="0.95"/><ellipse cx="125.08" cy="195.06" rx="1.15" ry="0.95"/><ellipse cx="125.08" cy="198.61" rx="1.15" ry="0.95"/><ellipse cx="125.08" cy="202.15" rx="1.15" ry="0.95"/><ellipse cx="125.08" cy="205.7" rx="1.15" ry="0.95"/><ellipse cx="125.08" cy="209.25" rx="1.15" ry="0.95"/><ellipse cx="125.08" cy="212.8" rx="1.15" ry="0.95"/><ellipse cx="125.08" cy="216.35" rx="1.15" ry="0.95"/><ellipse cx="125.08" cy="219.89" rx="1.15" ry="0.95"/><ellipse cx="125.08" cy="223.44" rx="1.15" ry="0.95"/><ellipse cx="125.08" cy="226.99" rx="1.15" ry="0.95"/><ellipse cx="125.08" cy="230.54" rx="1.15" ry="0.95"/><ellipse cx="125.08" cy="234.08" rx="1.15" ry="0.95"/><ellipse cx="125.08" cy="237.63" rx="0.95" ry="1.15"/><ellipse cx="125.08" cy="241.18" rx="0.95" ry="1.15"/><ellipse cx="125.08" cy="244.73" rx="0.95" ry="1.15"/><ellipse cx="128.63" cy="173.77" rx="1.15" ry="0.95"/><ellipse cx="128.63" cy="177.32" rx="1.15" ry="0.95"/><ellipse cx="128.63" cy="180.87" rx="1.15" ry="0.95"/><ellipse cx="128.63" cy="184.42" rx="1.15" ry="0.95"/><ellipse cx="128.63" cy="187.96" rx="1.15" ry="0.95"/><ellipse cx="128.63" cy="191.51" rx="1.15" ry="0.95"/><ellipse cx="128.63" cy="195.06" rx="1.15" ry="0.95"/><ellipse cx="128.63" cy="198.61" rx="1.15" ry="0.95"/><ellipse cx="128.63" cy="202.15" rx="1.15" ry="0.95"/><ellipse cx="128.63" cy="205.7" rx="1.15" ry="0.95"/><ellipse cx="128.63" cy="209.25" rx="1.15" ry="0.95"/><ellipse cx="128.63" cy="212.8" rx="1.15" ry="0.95"/><ellipse cx="128.63" cy="216.35" rx="1.15" ry="0.95"/><ellipse cx="128.63" cy="219.89" rx="1.15" ry="0.95"/><ellipse cx="128.63" cy="223.44" rx="1.15" ry="0.95"/><ellipse cx="128.63" cy="226.99" rx="1.15" ry="0.95"/><ellipse cx="128.63" cy="230.54" rx="1.15" ry="0.95"/><ellipse cx="128.63" cy="234.08" rx="1.15" ry="0.95"/><ellipse cx="128.63" cy="237.63" rx="1.15" ry="0.95"/><ellipse cx="128.63" cy="241.18" rx="0.95" ry="1.15"/><ellipse cx="128.63" cy="244.73" rx="0.95" ry="1.15"/><ellipse cx="132.18" cy="173.77" rx="1.15" ry="0.95"/><ellipse cx="132.18" cy="177.32" rx="1.15" ry="0.95"/><ellipse cx="132.18" cy="180.87" rx="1.15" ry="0.95"/><ellipse cx="132.18" cy="184.42" rx="1.15" ry="0.95"/><ellipse cx="132.18" cy="187.96" rx="1.15" ry="0.95"/><ellipse cx="132.18" cy="191.51" rx="1.15" ry="0.95"/><ellipse cx="132.18" cy="195.06" rx="1.15" ry="0.95"/><ellipse cx="132.18" cy="198.61" rx="1.15" ry="0.95"/><ellipse cx="132.18" cy="202.15" rx="1.15" ry="0.95"/><ellipse cx="132.18" cy="205.7" rx="1.15" ry="0.95"/><ellipse cx="132.18" cy="209.25" rx="1.15" ry="0.95"/><ellipse cx="132.18" cy="212.8" rx="1.15" ry="0.95"/><ellipse cx="132.18" cy="216.35" rx="1.15" ry="0.95"/><ellipse cx="132.18" cy="219.89" rx="1.15" ry="0.95"/><ellipse cx="132.18" cy="223.44" rx="1.15" ry="0.95"/><ellipse cx="132.18" cy="226.99" rx="1.15" ry="0.95"/><ellipse cx="132.18" cy="230.54" rx="1.15" ry="0.95"/><ellipse cx="132.18" cy="234.08" rx="1.15" ry="0.95"/><ellipse cx="132.18" cy="237.63" rx="1.15" ry="0.95"/><ellipse cx="132.18" cy="241.18" rx="1.15" ry="0.95"/><ellipse cx="132.18" cy="244.73" rx="0.95" ry="1.15"/><ellipse cx="135.73" cy="173.77" rx="1.15" ry="0.95"/><ellipse cx="135.73" cy="177.32" rx="1.15" ry="0.95"/><ellipse cx="135.73" cy="180.87" rx="1.15" ry="0.95"/><ellipse cx="135.73" cy="184.42" rx="1.15" ry="0.95"/><ellipse cx="135.73" cy="187.96" rx="1.15" ry="0.95"/><ellipse cx="135.73" cy="191.51" rx="1.15" ry="0.95"/><ellipse cx="135.73" cy="195.06" rx="1.15" ry="0.95"/><ellipse cx="135.73" cy="198.61" rx="1.15" ry="0.95"/><ellipse cx="135.73" cy="202.15" rx="1.15" ry="0.95"/><ellipse cx="135.73" cy="205.7" rx="1.15" ry="0.95"/><ellipse cx="135.73" cy="209.25" rx="1.15" ry="0.95"/><ellipse cx="135.73" cy="212.8" rx="1.15" ry="0.95"/><ellipse cx="135.73" cy="216.35" rx="1.15" ry="0.95"/><ellipse cx="135.73" cy="219.89" rx="1.15" ry="0.95"/><ellipse cx="135.73" cy="223.44" rx="1.15" ry="0.95"/><ellipse cx="135.73" cy="226.99" rx="1.15" ry="0.95"/><ellipse cx="135.73" cy="230.54" rx="1.15" ry="0.95"/><ellipse cx="135.73" cy="234.08" rx="1.15" ry="0.95"/><ellipse cx="135.73" cy="237.63" rx="1.15" ry="0.95"/><ellipse cx="135.73" cy="241.18" rx="1.15" ry="0.95"/><ellipse cx="135.73" cy="244.73" rx="1.15" ry="0.95"/></g>
<rect x="63" y="172" width="74.5" height="74.4" fill="none" stroke="#fff" stroke-width="1.4" stroke-dasharray="2.6 1.9"/>
<line x1="63" y1="172" x2="137.5" y2="246.4" stroke="#fff" stroke-width="1.4" stroke-dasharray="3 2"/>
<path d="M99.4 169.5 V161.5 H95.2 L100.4 152.8 L105.6 161.5 H101.4 V169.5 Z" fill="#fff"/>
<path d="M42 208 H50 V204.4 L58.8 209.1 L50 213.8 V210.3 H42 Z" fill="#fff"/>
<rect x="38.6" y="148" width="123.4" height="122.6" fill="none" stroke="#333" stroke-width="0.6"/>
<g clip-path="url(#cRM)"><g filter="url(#jet)"><rect x="184.7" y="148" width="123.1" height="122.6" fill="#808080"/><g mask="url(#mRip)"><g filter="url(#bl2)"><path d="M207 162L255 210L207 257.6Z" fill="#838383" stroke="#838383" stroke-width="212.13" stroke-linejoin="round"/><path d="M207 162L255 210L207 257.6Z" fill="#7c7c7c" stroke="#7c7c7c" stroke-width="207.89" stroke-linejoin="round"/><path d="M207 162L255 210L207 257.6Z" fill="#838383" stroke="#838383" stroke-width="203.65" stroke-linejoin="round"/><path d="M207 162L255 210L207 257.6Z" fill="#7b7b7b" stroke="#7b7b7b" stroke-width="199.4" stroke-linejoin="round"/><path d="M207 162L255 210L207 257.6Z" fill="#848484" stroke="#848484" stroke-width="195.16" stroke-linejoin="round"/><path d="M207 162L255 210L207 257.6Z" fill="#7b7b7b" stroke="#7b7b7b" stroke-width="190.92" stroke-linejoin="round"/><path d="M207 162L255 210L207 257.6Z" fill="#848484" stroke="#848484" stroke-width="186.68" stroke-linejoin="round"/><path d="M207 162L255 210L207 257.6Z" fill="#7b7b7b" stroke="#7b7b7b" stroke-width="182.43" stroke-linejoin="round"/><path d="M207 162L255 210L207 257.6Z" fill="#848484" stroke="#848484" stroke-width="178.19" stroke-linejoin="round"/><path d="M207 162L255 210L207 257.6Z" fill="#7a7a7a" stroke="#7a7a7a" stroke-width="173.95" stroke-linejoin="round"/><path d="M207 162L255 210L207 257.6Z" fill="#858585" stroke="#858585" stroke-width="169.71" stroke-linejoin="round"/><path d="M207 162L255 210L207 257.6Z" fill="#7a7a7a" stroke="#7a7a7a" stroke-width="165.46" stroke-linejoin="round"/><path d="M207 162L255 210L207 257.6Z" fill="#858585" stroke="#858585" stroke-width="161.22" stroke-linejoin="round"/><path d="M207 162L255 210L207 257.6Z" fill="#7a7a7a" stroke="#7a7a7a" stroke-width="156.98" stroke-linejoin="round"/><path d="M207 162L255 210L207 257.6Z" fill="#868686" stroke="#868686" stroke-width="152.74" stroke-linejoin="round"/><path d="M207 162L255 210L207 257.6Z" fill="#797979" stroke="#797979" stroke-width="148.49" stroke-linejoin="round"/><path d="M207 162L255 210L207 257.6Z" fill="#868686" stroke="#868686" stroke-width="144.25" stroke-linejoin="round"/><path d="M207 162L255 210L207 257.6Z" fill="#797979" stroke="#797979" stroke-width="140.01" stroke-linejoin="round"/><path d="M207 162L255 210L207 257.6Z" fill="#868686" stroke="#868686" stroke-width="135.76" stroke-linejoin="round"/><path d="M207 162L255 210L207 257.6Z" fill="#787878" stroke="#787878" stroke-width="131.52" stroke-linejoin="round"/><path d="M207 162L255 210L207 257.6Z" fill="#878787" stroke="#878787" stroke-width="127.28" stroke-linejoin="round"/><path d="M207 162L255 210L207 257.6Z" fill="#787878" stroke="#787878" stroke-width="123.04" stroke-linejoin="round"/><path d="M207 162L255 210L207 257.6Z" fill="#888888" stroke="#888888" stroke-width="118.79" stroke-linejoin="round"/><path d="M207 162L255 210L207 257.6Z" fill="#777777" stroke="#777777" stroke-width="114.55" stroke-linejoin="round"/><path d="M207 162L255 210L207 257.6Z" fill="#888888" stroke="#888888" stroke-width="110.31" stroke-linejoin="round"/><path d="M207 162L255 210L207 257.6Z" fill="#777777" stroke="#777777" stroke-width="106.07" stroke-linejoin="round"/><path d="M207 162L255 210L207 257.6Z" fill="#898989" stroke="#898989" stroke-width="101.82" stroke-linejoin="round"/><path d="M207 162L255 210L207 257.6Z" fill="#767676" stroke="#767676" stroke-width="97.58" stroke-linejoin="round"/><path d="M207 162L255 210L207 257.6Z" fill="#898989" stroke="#898989" stroke-width="93.34" stroke-linejoin="round"/><path d="M207 162L255 210L207 257.6Z" fill="#757575" stroke="#757575" stroke-width="89.1" stroke-linejoin="round"/><path d="M207 162L255 210L207 257.6Z" fill="#8a8a8a" stroke="#8a8a8a" stroke-width="84.85" stroke-linejoin="round"/><path d="M207 162L255 210L207 257.6Z" fill="#747474" stroke="#747474" stroke-width="80.61" stroke-linejoin="round"/><path d="M207 162L255 210L207 257.6Z" fill="#8b8b8b" stroke="#8b8b8b" stroke-width="76.37" stroke-linejoin="round"/><path d="M207 162L255 210L207 257.6Z" fill="#747474" stroke="#747474" stroke-width="72.12" stroke-linejoin="round"/><path d="M207 162L255 210L207 257.6Z" fill="#8c8c8c" stroke="#8c8c8c" stroke-width="67.88" stroke-linejoin="round"/><path d="M207 162L255 210L207 257.6Z" fill="#737373" stroke="#737373" stroke-width="63.64" stroke-linejoin="round"/><path d="M207 162L255 210L207 257.6Z" fill="#8d8d8d" stroke="#8d8d8d" stroke-width="59.4" stroke-linejoin="round"/><path d="M207 162L255 210L207 257.6Z" fill="#727272" stroke="#727272" stroke-width="55.15" stroke-linejoin="round"/><path d="M207 162L255 210L207 257.6Z" fill="#8e8e8e" stroke="#8e8e8e" stroke-width="50.91" stroke-linejoin="round"/><path d="M207 162L255 210L207 257.6Z" fill="#717171" stroke="#717171" stroke-width="46.67" stroke-linejoin="round"/><path d="M207 162L255 210L207 257.6Z" fill="#8f8f8f" stroke="#8f8f8f" stroke-width="42.43" stroke-linejoin="round"/><path d="M207 162L255 210L207 257.6Z" fill="#707070" stroke="#707070" stroke-width="38.18" stroke-linejoin="round"/><path d="M207 162L255 210L207 257.6Z" fill="#909090" stroke="#909090" stroke-width="33.94" stroke-linejoin="round"/><path d="M207 162L255 210L207 257.6Z" fill="#6f6f6f" stroke="#6f6f6f" stroke-width="29.7" stroke-linejoin="round"/><path d="M207 162L255 210L207 257.6Z" fill="#919191" stroke="#919191" stroke-width="25.46" stroke-linejoin="round"/><path d="M207 162L255 210L207 257.6Z" fill="#6d6d6d" stroke="#6d6d6d" stroke-width="21.21" stroke-linejoin="round"/><path d="M207 162L255 210L207 257.6Z" fill="#929292" stroke="#929292" stroke-width="16.97" stroke-linejoin="round"/><path d="M207 162L255 210L207 257.6Z" fill="#6c6c6c" stroke="#6c6c6c" stroke-width="12.73" stroke-linejoin="round"/><path d="M207 162L255 210L207 257.6Z" fill="#949494" stroke="#949494" stroke-width="8.49" stroke-linejoin="round"/><path d="M207 162L255 210L207 257.6Z" fill="#6b6b6b" stroke="#6b6b6b" stroke-width="4.24" stroke-linejoin="round"/></g></g><g mask="url(#mRLY)"><rect mask="url(#mRLX)" x="184.7" y="148" width="22.8" height="122.6" fill="url(#gRL)"/></g><g clip-path="url(#cBeam)"><g><rect mask="url(#mBeam)" x="184.7" y="148" width="123.1" height="122.6" fill="url(#gBeam)"/></g></g><g clip-path="url(#cTri)"><g filter="url(#bl)"><rect x="204.5" y="159.5" width="2.55" height="2.55" fill="#a4a4a4"/><rect x="204.5" y="162" width="2.55" height="2.55" fill="#acacac"/><rect x="204.5" y="164.5" width="2.55" height="2.55" fill="#b5b5b5"/><rect x="204.5" y="167" width="2.55" height="2.55" fill="#bdbdbd"/><rect x="204.5" y="169.5" width="2.55" height="2.55" fill="#c6c6c6"/><rect x="204.5" y="172" width="2.55" height="2.55" fill="#d0d0d0"/><rect x="204.5" y="174.5" width="2.55" height="2.55" fill="#dadada"/><rect x="204.5" y="177" width="2.55" height="2.55" fill="#dbdbdb"/><rect x="204.5" y="179.5" width="2.55" height="2.55" fill="#dbdbdb"/><rect x="204.5" y="182" width="2.55" height="2.55" fill="#dbdbdb"/><rect x="204.5" y="184.5" width="2.55" height="2.55" fill="#dbdbdb"/><rect x="204.5" y="187" width="2.55" height="2.55" fill="#dbdbdb"/><rect x="204.5" y="189.5" width="2.55" height="2.55" fill="#dbdbdb"/><rect x="204.5" y="192" width="2.55" height="2.55" fill="#dbdbdb"/><rect x="204.5" y="194.5" width="2.55" height="2.55" fill="#dbdbdb"/><rect x="204.5" y="197" width="2.55" height="2.55" fill="#dbdbdb"/><rect x="204.5" y="199.5" width="2.55" height="2.55" fill="#dbdbdb"/><rect x="204.5" y="202" width="2.55" height="2.55" fill="#dbdbdb"/><rect x="204.5" y="204.5" width="2.55" height="2.55" fill="#dbdbdb"/><rect x="204.5" y="207" width="2.55" height="2.55" fill="#dbdbdb"/><rect x="204.5" y="209.5" width="2.55" height="2.55" fill="#dbdbdb"/><rect x="204.5" y="212" width="2.55" height="2.55" fill="#dbdbdb"/><rect x="204.5" y="214.5" width="2.55" height="2.55" fill="#dbdbdb"/><rect x="204.5" y="217" width="2.55" height="2.55" fill="#dbdbdb"/><rect x="204.5" y="219.5" width="2.55" height="2.55" fill="#dbdbdb"/><rect x="204.5" y="222" width="2.55" height="2.55" fill="#dbdbdb"/><rect x="204.5" y="224.5" width="2.55" height="2.55" fill="#dbdbdb"/><rect x="204.5" y="227" width="2.55" height="2.55" fill="#dbdbdb"/><rect x="204.5" y="229.5" width="2.55" height="2.55" fill="#dbdbdb"/><rect x="204.5" y="232" width="2.55" height="2.55" fill="#dbdbdb"/><rect x="204.5" y="234.5" width="2.55" height="2.55" fill="#dbdbdb"/><rect x="204.5" y="237" width="2.55" height="2.55" fill="#d3d3d3"/><rect x="204.5" y="239.5" width="2.55" height="2.55" fill="#bfbfbf"/><rect x="204.5" y="242" width="2.55" height="2.55" fill="#aeaeae"/><rect x="204.5" y="244.5" width="2.55" height="2.55" fill="#a0a0a0"/><rect x="204.5" y="247" width="2.55" height="2.55" fill="#949494"/><rect x="204.5" y="249.5" width="2.55" height="2.55" fill="#949494"/><rect x="204.5" y="252" width="2.55" height="2.55" fill="#949494"/><rect x="204.5" y="254.5" width="2.55" height="2.55" fill="#949494"/><rect x="204.5" y="257" width="2.55" height="2.55" fill="#949494"/><rect x="204.5" y="259.5" width="2.55" height="2.55" fill="#949494"/><rect x="207" y="159.5" width="2.55" height="2.55" fill="#a4a4a4"/><rect x="207" y="162" width="2.55" height="2.55" fill="#acacac"/><rect x="207" y="164.5" width="2.55" height="2.55" fill="#b5b5b5"/><rect x="207" y="167" width="2.55" height="2.55" fill="#bdbdbd"/><rect x="207" y="169.5" width="2.55" height="2.55" fill="#c6c6c6"/><rect x="207" y="172" width="2.55" height="2.55" fill="#d0d0d0"/><rect x="207" y="174.5" width="2.55" height="2.55" fill="#dadada"/><rect x="207" y="177" width="2.55" height="2.55" fill="#dbdbdb"/><rect x="207" y="179.5" width="2.55" height="2.55" fill="#dbdbdb"/><rect x="207" y="182" width="2.55" height="2.55" fill="#dbdbdb"/><rect x="207" y="184.5" width="2.55" height="2.55" fill="#dbdbdb"/><rect x="207" y="187" width="2.55" height="2.55" fill="#dbdbdb"/><rect x="207" y="189.5" width="2.55" height="2.55" fill="#dbdbdb"/><rect x="207" y="192" width="2.55" height="2.55" fill="#dbdbdb"/><rect x="207" y="194.5" width="2.55" height="2.55" fill="#dbdbdb"/><rect x="207" y="197" width="2.55" height="2.55" fill="#dbdbdb"/><rect x="207" y="199.5" width="2.55" height="2.55" fill="#dbdbdb"/><rect x="207" y="202" width="2.55" height="2.55" fill="#dbdbdb"/><rect x="207" y="204.5" width="2.55" height="2.55" fill="#dbdbdb"/><rect x="207" y="207" width="2.55" height="2.55" fill="#dbdbdb"/><rect x="207" y="209.5" width="2.55" height="2.55" fill="#dbdbdb"/><rect x="207" y="212" width="2.55" height="2.55" fill="#dbdbdb"/><rect x="207" y="214.5" width="2.55" height="2.55" fill="#dbdbdb"/><rect x="207" y="217" width="2.55" height="2.55" fill="#dbdbdb"/><rect x="207" y="219.5" width="2.55" height="2.55" fill="#dbdbdb"/><rect x="207" y="222" width="2.55" height="2.55" fill="#dbdbdb"/><rect x="207" y="224.5" width="2.55" height="2.55" fill="#dbdbdb"/><rect x="207" y="227" width="2.55" height="2.55" fill="#dbdbdb"/><rect x="207" y="229.5" width="2.55" height="2.55" fill="#dbdbdb"/><rect x="207" y="232" width="2.55" height="2.55" fill="#dbdbdb"/><rect x="207" y="234.5" width="2.55" height="2.55" fill="#dbdbdb"/><rect x="207" y="237" width="2.55" height="2.55" fill="#c9c9c9"/><rect x="207" y="239.5" width="2.55" height="2.55" fill="#b7b7b7"/><rect x="207" y="242" width="2.55" height="2.55" fill="#a8a8a8"/><rect x="207" y="244.5" width="2.55" height="2.55" fill="#9a9a9a"/><rect x="207" y="247" width="2.55" height="2.55" fill="#949494"/><rect x="207" y="249.5" width="2.55" height="2.55" fill="#949494"/><rect x="207" y="252" width="2.55" height="2.55" fill="#949494"/><rect x="207" y="254.5" width="2.55" height="2.55" fill="#949494"/><rect x="207" y="257" width="2.55" height="2.55" fill="#949494"/><rect x="207" y="259.5" width="2.55" height="2.55" fill="#949494"/><rect x="209.5" y="159.5" width="2.55" height="2.55" fill="#a4a4a4"/><rect x="209.5" y="162" width="2.55" height="2.55" fill="#acacac"/><rect x="209.5" y="164.5" width="2.55" height="2.55" fill="#b5b5b5"/><rect x="209.5" y="167" width="2.55" height="2.55" fill="#bdbdbd"/><rect x="209.5" y="169.5" width="2.55" height="2.55" fill="#c6c6c6"/><rect x="209.5" y="172" width="2.55" height="2.55" fill="#d0d0d0"/><rect x="209.5" y="174.5" width="2.55" height="2.55" fill="#dadada"/><rect x="209.5" y="177" width="2.55" height="2.55" fill="#dbdbdb"/><rect x="209.5" y="179.5" width="2.55" height="2.55" fill="#dbdbdb"/><rect x="209.5" y="182" width="2.55" height="2.55" fill="#dbdbdb"/><rect x="209.5" y="184.5" width="2.55" height="2.55" fill="#dbdbdb"/><rect x="209.5" y="187" width="2.55" height="2.55" fill="#dbdbdb"/><rect x="209.5" y="189.5" width="2.55" height="2.55" fill="#dbdbdb"/><rect x="209.5" y="192" width="2.55" height="2.55" fill="#dbdbdb"/><rect x="209.5" y="194.5" width="2.55" height="2.55" fill="#dbdbdb"/><rect x="209.5" y="197" width="2.55" height="2.55" fill="#dbdbdb"/><rect x="209.5" y="199.5" width="2.55" height="2.55" fill="#dbdbdb"/><rect x="209.5" y="202" width="2.55" height="2.55" fill="#dbdbdb"/><rect x="209.5" y="204.5" width="2.55" height="2.55" fill="#dbdbdb"/><rect x="209.5" y="207" width="2.55" height="2.55" fill="#dbdbdb"/><rect x="209.5" y="209.5" width="2.55" height="2.55" fill="#dbdbdb"/><rect x="209.5" y="212" width="2.55" height="2.55" fill="#dbdbdb"/><rect x="209.5" y="214.5" width="2.55" height="2.55" fill="#dbdbdb"/><rect x="209.5" y="217" width="2.55" height="2.55" fill="#dbdbdb"/><rect x="209.5" y="219.5" width="2.55" height="2.55" fill="#dbdbdb"/><rect x="209.5" y="222" width="2.55" height="2.55" fill="#dbdbdb"/><rect x="209.5" y="224.5" width="2.55" height="2.55" fill="#dbdbdb"/><rect x="209.5" y="227" width="2.55" height="2.55" fill="#dbdbdb"/><rect x="209.5" y="229.5" width="2.55" height="2.55" fill="#dbdbdb"/><rect x="209.5" y="232" width="2.55" height="2.55" fill="#dbdbdb"/><rect x="209.5" y="234.5" width="2.55" height="2.55" fill="#cdcdcd"/><rect x="209.5" y="237" width="2.55" height="2.55" fill="#c1c1c1"/><rect x="209.5" y="239.5" width="2.55" height="2.55" fill="#b1b1b1"/><rect x="209.5" y="242" width="2.55" height="2.55" fill="#a3a3a3"/><rect x="209.5" y="244.5" width="2.55" height="2.55" fill="#959595"/><rect x="209.5" y="247" width="2.55" height="2.55" fill="#949494"/><rect x="209.5" y="249.5" width="2.55" height="2.55" fill="#949494"/><rect x="209.5" y="252" width="2.55" height="2.55" fill="#949494"/><rect x="209.5" y="254.5" width="2.55" height="2.55" fill="#949494"/><rect x="209.5" y="257" width="2.55" height="2.55" fill="#949494"/><rect x="209.5" y="259.5" width="2.55" height="2.55" fill="#949494"/><rect x="212" y="159.5" width="2.55" height="2.55" fill="#a4a4a4"/><rect x="212" y="162" width="2.55" height="2.55" fill="#acacac"/><rect x="212" y="164.5" width="2.55" height="2.55" fill="#b5b5b5"/><rect x="212" y="167" width="2.55" height="2.55" fill="#bdbdbd"/><rect x="212" y="169.5" width="2.55" height="2.55" fill="#c6c6c6"/><rect x="212" y="172" width="2.55" height="2.55" fill="#d0d0d0"/><rect x="212" y="174.5" width="2.55" height="2.55" fill="#dadada"/><rect x="212" y="177" width="2.55" height="2.55" fill="#dbdbdb"/><rect x="212" y="179.5" width="2.55" height="2.55" fill="#dbdbdb"/><rect x="212" y="182" width="2.55" height="2.55" fill="#dbdbdb"/><rect x="212" y="184.5" width="2.55" height="2.55" fill="#dbdbdb"/><rect x="212" y="187" width="2.55" height="2.55" fill="#dbdbdb"/><rect x="212" y="189.5" width="2.55" height="2.55" fill="#dbdbdb"/><rect x="212" y="192" width="2.55" height="2.55" fill="#dbdbdb"/><rect x="212" y="194.5" width="2.55" height="2.55" fill="#dbdbdb"/><rect x="212" y="197" width="2.55" height="2.55" fill="#dbdbdb"/><rect x="212" y="199.5" width="2.55" height="2.55" fill="#dbdbdb"/><rect x="212" y="202" width="2.55" height="2.55" fill="#dbdbdb"/><rect x="212" y="204.5" width="2.55" height="2.55" fill="#dbdbdb"/><rect x="212" y="207" width="2.55" height="2.55" fill="#dbdbdb"/><rect x="212" y="209.5" width="2.55" height="2.55" fill="#dbdbdb"/><rect x="212" y="212" width="2.55" height="2.55" fill="#dbdbdb"/><rect x="212" y="214.5" width="2.55" height="2.55" fill="#dbdbdb"/><rect x="212" y="217" width="2.55" height="2.55" fill="#dbdbdb"/><rect x="212" y="219.5" width="2.55" height="2.55" fill="#dbdbdb"/><rect x="212" y="222" width="2.55" height="2.55" fill="#dbdbdb"/><rect x="212" y="224.5" width="2.55" height="2.55" fill="#dbdbdb"/><rect x="212" y="227" width="2.55" height="2.55" fill="#dbdbdb"/><rect x="212" y="229.5" width="2.55" height="2.55" fill="#dbdbdb"/><rect x="212" y="232" width="2.55" height="2.55" fill="#d2d2d2"/><rect x="212" y="234.5" width="2.55" height="2.55" fill="#c4c4c4"/><rect x="212" y="237" width="2.55" height="2.55" fill="#bababa"/><rect x="212" y="239.5" width="2.55" height="2.55" fill="#ababab"/><rect x="212" y="242" width="2.55" height="2.55" fill="#9d9d9d"/><rect x="212" y="244.5" width="2.55" height="2.55" fill="#949494"/><rect x="212" y="247" width="2.55" height="2.55" fill="#949494"/><rect x="212" y="249.5" width="2.55" height="2.55" fill="#949494"/><rect x="212" y="252" width="2.55" height="2.55" fill="#949494"/><rect x="212" y="254.5" width="2.55" height="2.55" fill="#949494"/><rect x="212" y="257" width="2.55" height="2.55" fill="#949494"/><rect x="212" y="259.5" width="2.55" height="2.55" fill="#949494"/><rect x="214.5" y="159.5" width="2.55" height="2.55" fill="#a4a4a4"/><rect x="214.5" y="162" width="2.55" height="2.55" fill="#acacac"/><rect x="214.5" y="164.5" width="2.55" height="2.55" fill="#b5b5b5"/><rect x="214.5" y="167" width="2.55" height="2.55" fill="#bdbdbd"/><rect x="214.5" y="169.5" width="2.55" height="2.55" fill="#c6c6c6"/><rect x="214.5" y="172" width="2.55" height="2.55" fill="#d0d0d0"/><rect x="214.5" y="174.5" width="2.55" height="2.55" fill="#dadada"/><rect x="214.5" y="177" width="2.55" height="2.55" fill="#dbdbdb"/><rect x="214.5" y="179.5" width="2.55" height="2.55" fill="#dbdbdb"/><rect x="214.5" y="182" width="2.55" height="2.55" fill="#dbdbdb"/><rect x="214.5" y="184.5" width="2.55" height="2.55" fill="#dbdbdb"/><rect x="214.5" y="187" width="2.55" height="2.55" fill="#dbdbdb"/><rect x="214.5" y="189.5" width="2.55" height="2.55" fill="#dbdbdb"/><rect x="214.5" y="192" width="2.55" height="2.55" fill="#dbdbdb"/><rect x="214.5" y="194.5" width="2.55" height="2.55" fill="#dbdbdb"/><rect x="214.5" y="197" width="2.55" height="2.55" fill="#dbdbdb"/><rect x="214.5" y="199.5" width="2.55" height="2.55" fill="#dbdbdb"/><rect x="214.5" y="202" width="2.55" height="2.55" fill="#dbdbdb"/><rect x="214.5" y="204.5" width="2.55" height="2.55" fill="#dbdbdb"/><rect x="214.5" y="207" width="2.55" height="2.55" fill="#dbdbdb"/><rect x="214.5" y="209.5" width="2.55" height="2.55" fill="#dbdbdb"/><rect x="214.5" y="212" width="2.55" height="2.55" fill="#dbdbdb"/><rect x="214.5" y="214.5" width="2.55" height="2.55" fill="#dbdbdb"/><rect x="214.5" y="217" width="2.55" height="2.55" fill="#dbdbdb"/><rect x="214.5" y="219.5" width="2.55" height="2.55" fill="#dbdbdb"/><rect x="214.5" y="222" width="2.55" height="2.55" fill="#dbdbdb"/><rect x="214.5" y="224.5" width="2.55" height="2.55" fill="#dbdbdb"/><rect x="214.5" y="227" width="2.55" height="2.55" fill="#dbdbdb"/><rect x="214.5" y="229.5" width="2.55" height="2.55" fill="#d9d9d9"/><rect x="214.5" y="232" width="2.55" height="2.55" fill="#c7c7c7"/><rect x="214.5" y="234.5" width="2.55" height="2.55" fill="#bdbdbd"/><rect x="214.5" y="237" width="2.55" height="2.55" fill="#b3b3b3"/><rect x="214.5" y="239.5" width="2.55" height="2.55" fill="#a5a5a5"/><rect x="214.5" y="242" width="2.55" height="2.55" fill="#989898"/><rect x="214.5" y="244.5" width="2.55" height="2.55" fill="#949494"/><rect x="214.5" y="247" width="2.55" height="2.55" fill="#949494"/><rect x="214.5" y="249.5" width="2.55" height="2.55" fill="#949494"/><rect x="214.5" y="252" width="2.55" height="2.55" fill="#949494"/><rect x="214.5" y="254.5" width="2.55" height="2.55" fill="#949494"/><rect x="214.5" y="257" width="2.55" height="2.55" fill="#949494"/><rect x="214.5" y="259.5" width="2.55" height="2.55" fill="#949494"/><rect x="217" y="159.5" width="2.55" height="2.55" fill="#a4a4a4"/><rect x="217" y="162" width="2.55" height="2.55" fill="#acacac"/><rect x="217" y="164.5" width="2.55" height="2.55" fill="#b5b5b5"/><rect x="217" y="167" width="2.55" height="2.55" fill="#bdbdbd"/><rect x="217" y="169.5" width="2.55" height="2.55" fill="#c6c6c6"/><rect x="217" y="172" width="2.55" height="2.55" fill="#d0d0d0"/><rect x="217" y="174.5" width="2.55" height="2.55" fill="#dadada"/><rect x="217" y="177" width="2.55" height="2.55" fill="#dbdbdb"/><rect x="217" y="179.5" width="2.55" height="2.55" fill="#dbdbdb"/><rect x="217" y="182" width="2.55" height="2.55" fill="#dbdbdb"/><rect x="217" y="184.5" width="2.55" height="2.55" fill="#dbdbdb"/><rect x="217" y="187" width="2.55" height="2.55" fill="#dbdbdb"/><rect x="217" y="189.5" width="2.55" height="2.55" fill="#dbdbdb"/><rect x="217" y="192" width="2.55" height="2.55" fill="#dbdbdb"/><rect x="217" y="194.5" width="2.55" height="2.55" fill="#dbdbdb"/><rect x="217" y="197" width="2.55" height="2.55" fill="#dbdbdb"/><rect x="217" y="199.5" width="2.55" height="2.55" fill="#dbdbdb"/><rect x="217" y="202" width="2.55" height="2.55" fill="#dbdbdb"/><rect x="217" y="204.5" width="2.55" height="2.55" fill="#dbdbdb"/><rect x="217" y="207" width="2.55" height="2.55" fill="#dbdbdb"/><rect x="217" y="209.5" width="2.55" height="2.55" fill="#dbdbdb"/><rect x="217" y="212" width="2.55" height="2.55" fill="#dbdbdb"/><rect x="217" y="214.5" width="2.55" height="2.55" fill="#dbdbdb"/><rect x="217" y="217" width="2.55" height="2.55" fill="#dbdbdb"/><rect x="217" y="219.5" width="2.55" height="2.55" fill="#dbdbdb"/><rect x="217" y="222" width="2.55" height="2.55" fill="#dbdbdb"/><rect x="217" y="224.5" width="2.55" height="2.55" fill="#dbdbdb"/><rect x="217" y="227" width="2.55" height="2.55" fill="#dbdbdb"/><rect x="217" y="229.5" width="2.55" height="2.55" fill="#cbcbcb"/><rect x="217" y="232" width="2.55" height="2.55" fill="#bfbfbf"/><rect x="217" y="234.5" width="2.55" height="2.55" fill="#b6b6b6"/><rect x="217" y="237" width="2.55" height="2.55" fill="#adadad"/><rect x="217" y="239.5" width="2.55" height="2.55" fill="#a0a0a0"/><rect x="217" y="242" width="2.55" height="2.55" fill="#949494"/><rect x="217" y="244.5" width="2.55" height="2.55" fill="#949494"/><rect x="217" y="247" width="2.55" height="2.55" fill="#949494"/><rect x="217" y="249.5" width="2.55" height="2.55" fill="#949494"/><rect x="217" y="252" width="2.55" height="2.55" fill="#949494"/><rect x="217" y="254.5" width="2.55" height="2.55" fill="#949494"/><rect x="217" y="257" width="2.55" height="2.55" fill="#949494"/><rect x="217" y="259.5" width="2.55" height="2.55" fill="#949494"/><rect x="219.5" y="159.5" width="2.55" height="2.55" fill="#a4a4a4"/><rect x="219.5" y="162" width="2.55" height="2.55" fill="#acacac"/><rect x="219.5" y="164.5" width="2.55" height="2.55" fill="#b5b5b5"/><rect x="219.5" y="167" width="2.55" height="2.55" fill="#bdbdbd"/><rect x="219.5" y="169.5" width="2.55" height="2.55" fill="#c6c6c6"/><rect x="219.5" y="172" width="2.55" height="2.55" fill="#d0d0d0"/><rect x="219.5" y="174.5" width="2.55" height="2.55" fill="#dadada"/><rect x="219.5" y="177" width="2.55" height="2.55" fill="#dbdbdb"/><rect x="219.5" y="179.5" width="2.55" height="2.55" fill="#dbdbdb"/><rect x="219.5" y="182" width="2.55" height="2.55" fill="#dbdbdb"/><rect x="219.5" y="184.5" width="2.55" height="2.55" fill="#dbdbdb"/><rect x="219.5" y="187" width="2.55" height="2.55" fill="#dbdbdb"/><rect x="219.5" y="189.5" width="2.55" height="2.55" fill="#dbdbdb"/><rect x="219.5" y="192" width="2.55" height="2.55" fill="#dbdbdb"/><rect x="219.5" y="194.5" width="2.55" height="2.55" fill="#dbdbdb"/><rect x="219.5" y="197" width="2.55" height="2.55" fill="#dbdbdb"/><rect x="219.5" y="199.5" width="2.55" height="2.55" fill="#dbdbdb"/><rect x="219.5" y="202" width="2.55" height="2.55" fill="#dbdbdb"/><rect x="219.5" y="204.5" width="2.55" height="2.55" fill="#dbdbdb"/><rect x="219.5" y="207" width="2.55" height="2.55" fill="#dbdbdb"/><rect x="219.5" y="209.5" width="2.55" height="2.55" fill="#dbdbdb"/><rect x="219.5" y="212" width="2.55" height="2.55" fill="#dbdbdb"/><rect x="219.5" y="214.5" width="2.55" height="2.55" fill="#dbdbdb"/><rect x="219.5" y="217" width="2.55" height="2.55" fill="#dbdbdb"/><rect x="219.5" y="219.5" width="2.55" height="2.55" fill="#dbdbdb"/><rect x="219.5" y="222" width="2.55" height="2.55" fill="#dbdbdb"/><rect x="219.5" y="224.5" width="2.55" height="2.55" fill="#dbdbdb"/><rect x="219.5" y="227" width="2.55" height="2.55" fill="#d0d0d0"/><rect x="219.5" y="229.5" width="2.55" height="2.55" fill="#c1c1c1"/><rect x="219.5" y="232" width="2.55" height="2.55" fill="#b7b7b7"/><rect x="219.5" y="234.5" width="2.55" height="2.55" fill="#afafaf"/><rect x="219.5" y="237" width="2.55" height="2.55" fill="#a8a8a8"/><rect x="219.5" y="239.5" width="2.55" height="2.55" fill="#9b9b9b"/><rect x="219.5" y="242" width="2.55" height="2.55" fill="#949494"/><rect x="219.5" y="244.5" width="2.55" height="2.55" fill="#949494"/><rect x="219.5" y="247" width="2.55" height="2.55" fill="#949494"/><rect x="219.5" y="249.5" width="2.55" height="2.55" fill="#949494"/><rect x="219.5" y="252" width="2.55" height="2.55" fill="#949494"/><rect x="219.5" y="254.5" width="2.55" height="2.55" fill="#949494"/><rect x="219.5" y="257" width="2.55" height="2.55" fill="#949494"/><rect x="219.5" y="259.5" width="2.55" height="2.55" fill="#949494"/><rect x="222" y="159.5" width="2.55" height="2.55" fill="#a4a4a4"/><rect x="222" y="162" width="2.55" height="2.55" fill="#acacac"/><rect x="222" y="164.5" width="2.55" height="2.55" fill="#b5b5b5"/><rect x="222" y="167" width="2.55" height="2.55" fill="#bdbdbd"/><rect x="222" y="169.5" width="2.55" height="2.55" fill="#c6c6c6"/><rect x="222" y="172" width="2.55" height="2.55" fill="#d0d0d0"/><rect x="222" y="174.5" width="2.55" height="2.55" fill="#dadada"/><rect x="222" y="177" width="2.55" height="2.55" fill="#dbdbdb"/><rect x="222" y="179.5" width="2.55" height="2.55" fill="#dbdbdb"/><rect x="222" y="182" width="2.55" height="2.55" fill="#dbdbdb"/><rect x="222" y="184.5" width="2.55" height="2.55" fill="#dbdbdb"/><rect x="222" y="187" width="2.55" height="2.55" fill="#dbdbdb"/><rect x="222" y="189.5" width="2.55" height="2.55" fill="#dbdbdb"/><rect x="222" y="192" width="2.55" height="2.55" fill="#dbdbdb"/><rect x="222" y="194.5" width="2.55" height="2.55" fill="#dbdbdb"/><rect x="222" y="197" width="2.55" height="2.55" fill="#dbdbdb"/><rect x="222" y="199.5" width="2.55" height="2.55" fill="#dbdbdb"/><rect x="222" y="202" width="2.55" height="2.55" fill="#dbdbdb"/><rect x="222" y="204.5" width="2.55" height="2.55" fill="#dbdbdb"/><rect x="222" y="207" width="2.55" height="2.55" fill="#dbdbdb"/><rect x="222" y="209.5" width="2.55" height="2.55" fill="#dbdbdb"/><rect x="222" y="212" width="2.55" height="2.55" fill="#dbdbdb"/><rect x="222" y="214.5" width="2.55" height="2.55" fill="#dbdbdb"/><rect x="222" y="217" width="2.55" height="2.55" fill="#dbdbdb"/><rect x="222" y="219.5" width="2.55" height="2.55" fill="#dbdbdb"/><rect x="222" y="222" width="2.55" height="2.55" fill="#dbdbdb"/><rect x="222" y="224.5" width="2.55" height="2.55" fill="#d6d6d6"/><rect x="222" y="227" width="2.55" height="2.55" fill="#c5c5c5"/><rect x="222" y="229.5" width="2.55" height="2.55" fill="#b9b9b9"/><rect x="222" y="232" width="2.55" height="2.55" fill="#b0b0b0"/><rect x="222" y="234.5" width="2.55" height="2.55" fill="#a9a9a9"/><rect x="222" y="237" width="2.55" height="2.55" fill="#a2a2a2"/><rect x="222" y="239.5" width="2.55" height="2.55" fill="#969696"/><rect x="222" y="242" width="2.55" height="2.55" fill="#949494"/><rect x="222" y="244.5" width="2.55" height="2.55" fill="#949494"/><rect x="222" y="247" width="2.55" height="2.55" fill="#949494"/><rect x="222" y="249.5" width="2.55" height="2.55" fill="#949494"/><rect x="222" y="252" width="2.55" height="2.55" fill="#949494"/><rect x="222" y="254.5" width="2.55" height="2.55" fill="#949494"/><rect x="222" y="257" width="2.55" height="2.55" fill="#949494"/><rect x="222" y="259.5" width="2.55" height="2.55" fill="#949494"/><rect x="224.5" y="159.5" width="2.55" height="2.55" fill="#a4a4a4"/><rect x="224.5" y="162" width="2.55" height="2.55" fill="#acacac"/><rect x="224.5" y="164.5" width="2.55" height="2.55" fill="#b5b5b5"/><rect x="224.5" y="167" width="2.55" height="2.55" fill="#bdbdbd"/><rect x="224.5" y="169.5" width="2.55" height="2.55" fill="#c6c6c6"/><rect x="224.5" y="172" width="2.55" height="2.55" fill="#d0d0d0"/><rect x="224.5" y="174.5" width="2.55" height="2.55" fill="#dadada"/><rect x="224.5" y="177" width="2.55" height="2.55" fill="#dbdbdb"/><rect x="224.5" y="179.5" width="2.55" height="2.55" fill="#dbdbdb"/><rect x="224.5" y="182" width="2.55" height="2.55" fill="#dbdbdb"/><rect x="224.5" y="184.5" width="2.55" height="2.55" fill="#dbdbdb"/><rect x="224.5" y="187" width="2.55" height="2.55" fill="#dbdbdb"/><rect x="224.5" y="189.5" width="2.55" height="2.55" fill="#dbdbdb"/><rect x="224.5" y="192" width="2.55" height="2.55" fill="#dbdbdb"/><rect x="224.5" y="194.5" width="2.55" height="2.55" fill="#dbdbdb"/><rect x="224.5" y="197" width="2.55" height="2.55" fill="#dbdbdb"/><rect x="224.5" y="199.5" width="2.55" height="2.55" fill="#dbdbdb"/><rect x="224.5" y="202" width="2.55" height="2.55" fill="#dbdbdb"/><rect x="224.5" y="204.5" width="2.55" height="2.55" fill="#dbdbdb"/><rect x="224.5" y="207" width="2.55" height="2.55" fill="#dbdbdb"/><rect x="224.5" y="209.5" width="2.55" height="2.55" fill="#dbdbdb"/><rect x="224.5" y="212" width="2.55" height="2.55" fill="#dbdbdb"/><rect x="224.5" y="214.5" width="2.55" height="2.55" fill="#dbdbdb"/><rect x="224.5" y="217" width="2.55" height="2.55" fill="#dbdbdb"/><rect x="224.5" y="219.5" width="2.55" height="2.55" fill="#dbdbdb"/><rect x="224.5" y="222" width="2.55" height="2.55" fill="#dbdbdb"/><rect x="224.5" y="224.5" width="2.55" height="2.55" fill="#c8c8c8"/><rect x="224.5" y="227" width="2.55" height="2.55" fill="#bbbbbb"/><rect x="224.5" y="229.5" width="2.55" height="2.55" fill="#b2b2b2"/><rect x="224.5" y="232" width="2.55" height="2.55" fill="#aaaaaa"/><rect x="224.5" y="234.5" width="2.55" height="2.55" fill="#a3a3a3"/><rect x="224.5" y="237" width="2.55" height="2.55" fill="#9d9d9d"/><rect x="224.5" y="239.5" width="2.55" height="2.55" fill="#949494"/><rect x="224.5" y="242" width="2.55" height="2.55" fill="#949494"/><rect x="224.5" y="244.5" width="2.55" height="2.55" fill="#949494"/><rect x="224.5" y="247" width="2.55" height="2.55" fill="#949494"/><rect x="224.5" y="249.5" width="2.55" height="2.55" fill="#949494"/><rect x="224.5" y="252" width="2.55" height="2.55" fill="#949494"/><rect x="224.5" y="254.5" width="2.55" height="2.55" fill="#949494"/><rect x="224.5" y="257" width="2.55" height="2.55" fill="#949494"/><rect x="224.5" y="259.5" width="2.55" height="2.55" fill="#949494"/><rect x="227" y="159.5" width="2.55" height="2.55" fill="#a4a4a4"/><rect x="227" y="162" width="2.55" height="2.55" fill="#acacac"/><rect x="227" y="164.5" width="2.55" height="2.55" fill="#b5b5b5"/><rect x="227" y="167" width="2.55" height="2.55" fill="#bdbdbd"/><rect x="227" y="169.5" width="2.55" height="2.55" fill="#c6c6c6"/><rect x="227" y="172" width="2.55" height="2.55" fill="#d0d0d0"/><rect x="227" y="174.5" width="2.55" height="2.55" fill="#dadada"/><rect x="227" y="177" width="2.55" height="2.55" fill="#dbdbdb"/><rect x="227" y="179.5" width="2.55" height="2.55" fill="#dbdbdb"/><rect x="227" y="182" width="2.55" height="2.55" fill="#dbdbdb"/><rect x="227" y="184.5" width="2.55" height="2.55" fill="#dbdbdb"/><rect x="227" y="187" width="2.55" height="2.55" fill="#dbdbdb"/><rect x="227" y="189.5" width="2.55" height="2.55" fill="#dbdbdb"/><rect x="227" y="192" width="2.55" height="2.55" fill="#dbdbdb"/><rect x="227" y="194.5" width="2.55" height="2.55" fill="#dbdbdb"/><rect x="227" y="197" width="2.55" height="2.55" fill="#dbdbdb"/><rect x="227" y="199.5" width="2.55" height="2.55" fill="#dbdbdb"/><rect x="227" y="202" width="2.55" height="2.55" fill="#dbdbdb"/><rect x="227" y="204.5" width="2.55" height="2.55" fill="#dbdbdb"/><rect x="227" y="207" width="2.55" height="2.55" fill="#dbdbdb"/><rect x="227" y="209.5" width="2.55" height="2.55" fill="#dbdbdb"/><rect x="227" y="212" width="2.55" height="2.55" fill="#dbdbdb"/><rect x="227" y="214.5" width="2.55" height="2.55" fill="#dbdbdb"/><rect x="227" y="217" width="2.55" height="2.55" fill="#dbdbdb"/><rect x="227" y="219.5" width="2.55" height="2.55" fill="#dbdbdb"/><rect x="227" y="222" width="2.55" height="2.55" fill="#cdcdcd"/><rect x="227" y="224.5" width="2.55" height="2.55" fill="#bebebe"/><rect x="227" y="227" width="2.55" height="2.55" fill="#b3b3b3"/><rect x="227" y="229.5" width="2.55" height="2.55" fill="#ababab"/><rect x="227" y="232" width="2.55" height="2.55" fill="#a4a4a4"/><rect x="227" y="234.5" width="2.55" height="2.55" fill="#9e9e9e"/><rect x="227" y="237" width="2.55" height="2.55" fill="#989898"/><rect x="227" y="239.5" width="2.55" height="2.55" fill="#949494"/><rect x="227" y="242" width="2.55" height="2.55" fill="#949494"/><rect x="227" y="244.5" width="2.55" height="2.55" fill="#949494"/><rect x="227" y="247" width="2.55" height="2.55" fill="#949494"/><rect x="227" y="249.5" width="2.55" height="2.55" fill="#949494"/><rect x="227" y="252" width="2.55" height="2.55" fill="#949494"/><rect x="227" y="254.5" width="2.55" height="2.55" fill="#949494"/><rect x="227" y="257" width="2.55" height="2.55" fill="#949494"/><rect x="227" y="259.5" width="2.55" height="2.55" fill="#949494"/><rect x="229.5" y="159.5" width="2.55" height="2.55" fill="#a4a4a4"/><rect x="229.5" y="162" width="2.55" height="2.55" fill="#acacac"/><rect x="229.5" y="164.5" width="2.55" height="2.55" fill="#b5b5b5"/><rect x="229.5" y="167" width="2.55" height="2.55" fill="#bdbdbd"/><rect x="229.5" y="169.5" width="2.55" height="2.55" fill="#c6c6c6"/><rect x="229.5" y="172" width="2.55" height="2.55" fill="#d0d0d0"/><rect x="229.5" y="174.5" width="2.55" height="2.55" fill="#dadada"/><rect x="229.5" y="177" width="2.55" height="2.55" fill="#dbdbdb"/><rect x="229.5" y="179.5" width="2.55" height="2.55" fill="#dbdbdb"/><rect x="229.5" y="182" width="2.55" height="2.55" fill="#dbdbdb"/><rect x="229.5" y="184.5" width="2.55" height="2.55" fill="#dbdbdb"/><rect x="229.5" y="187" width="2.55" height="2.55" fill="#dbdbdb"/><rect x="229.5" y="189.5" width="2.55" height="2.55" fill="#dbdbdb"/><rect x="229.5" y="192" width="2.55" height="2.55" fill="#dbdbdb"/><rect x="229.5" y="194.5" width="2.55" height="2.55" fill="#dbdbdb"/><rect x="229.5" y="197" width="2.55" height="2.55" fill="#dbdbdb"/><rect x="229.5" y="199.5" width="2.55" height="2.55" fill="#dbdbdb"/><rect x="229.5" y="202" width="2.55" height="2.55" fill="#dbdbdb"/><rect x="229.5" y="204.5" width="2.55" height="2.55" fill="#dbdbdb"/><rect x="229.5" y="207" width="2.55" height="2.55" fill="#dbdbdb"/><rect x="229.5" y="209.5" width="2.55" height="2.55" fill="#dbdbdb"/><rect x="229.5" y="212" width="2.55" height="2.55" fill="#dbdbdb"/><rect x="229.5" y="214.5" width="2.55" height="2.55" fill="#dbdbdb"/><rect x="229.5" y="217" width="2.55" height="2.55" fill="#dbdbdb"/><rect x="229.5" y="219.5" width="2.55" height="2.55" fill="#d4d4d4"/><rect x="229.5" y="222" width="2.55" height="2.55" fill="#c1c1c1"/><rect x="229.5" y="224.5" width="2.55" height="2.55" fill="#b5b5b5"/><rect x="229.5" y="227" width="2.55" height="2.55" fill="#acacac"/><rect x="229.5" y="229.5" width="2.55" height="2.55" fill="#a4a4a4"/><rect x="229.5" y="232" width="2.55" height="2.55" fill="#9e9e9e"/><rect x="229.5" y="234.5" width="2.55" height="2.55" fill="#989898"/><rect x="229.5" y="237" width="2.55" height="2.55" fill="#949494"/><rect x="229.5" y="239.5" width="2.55" height="2.55" fill="#949494"/><rect x="229.5" y="242" width="2.55" height="2.55" fill="#949494"/><rect x="229.5" y="244.5" width="2.55" height="2.55" fill="#949494"/><rect x="229.5" y="247" width="2.55" height="2.55" fill="#949494"/><rect x="229.5" y="249.5" width="2.55" height="2.55" fill="#949494"/><rect x="229.5" y="252" width="2.55" height="2.55" fill="#949494"/><rect x="229.5" y="254.5" width="2.55" height="2.55" fill="#949494"/><rect x="229.5" y="257" width="2.55" height="2.55" fill="#949494"/><rect x="229.5" y="259.5" width="2.55" height="2.55" fill="#949494"/><rect x="232" y="159.5" width="2.55" height="2.55" fill="#a4a4a4"/><rect x="232" y="162" width="2.55" height="2.55" fill="#acacac"/><rect x="232" y="164.5" width="2.55" height="2.55" fill="#b5b5b5"/><rect x="232" y="167" width="2.55" height="2.55" fill="#bdbdbd"/><rect x="232" y="169.5" width="2.55" height="2.55" fill="#c6c6c6"/><rect x="232" y="172" width="2.55" height="2.55" fill="#d0d0d0"/><rect x="232" y="174.5" width="2.55" height="2.55" fill="#dadada"/><rect x="232" y="177" width="2.55" height="2.55" fill="#dbdbdb"/><rect x="232" y="179.5" width="2.55" height="2.55" fill="#dbdbdb"/><rect x="232" y="182" width="2.55" height="2.55" fill="#dbdbdb"/><rect x="232" y="184.5" width="2.55" height="2.55" fill="#dbdbdb"/><rect x="232" y="187" width="2.55" height="2.55" fill="#dbdbdb"/><rect x="232" y="189.5" width="2.55" height="2.55" fill="#dbdbdb"/><rect x="232" y="192" width="2.55" height="2.55" fill="#dbdbdb"/><rect x="232" y="194.5" width="2.55" height="2.55" fill="#dbdbdb"/><rect x="232" y="197" width="2.55" height="2.55" fill="#dbdbdb"/><rect x="232" y="199.5" width="2.55" height="2.55" fill="#dbdbdb"/><rect x="232" y="202" width="2.55" height="2.55" fill="#dbdbdb"/><rect x="232" y="204.5" width="2.55" height="2.55" fill="#dbdbdb"/><rect x="232" y="207" width="2.55" height="2.55" fill="#dbdbdb"/><rect x="232" y="209.5" width="2.55" height="2.55" fill="#dbdbdb"/><rect x="232" y="212" width="2.55" height="2.55" fill="#dbdbdb"/><rect x="232" y="214.5" width="2.55" height="2.55" fill="#dbdbdb"/><rect x="232" y="217" width="2.55" height="2.55" fill="#dbdbdb"/><rect x="232" y="219.5" width="2.55" height="2.55" fill="#c5c5c5"/><rect x="232" y="222" width="2.55" height="2.55" fill="#b7b7b7"/><rect x="232" y="224.5" width="2.55" height="2.55" fill="#adadad"/><rect x="232" y="227" width="2.55" height="2.55" fill="#a5a5a5"/><rect x="232" y="229.5" width="2.55" height="2.55" fill="#9e9e9e"/><rect x="232" y="232" width="2.55" height="2.55" fill="#989898"/><rect x="232" y="234.5" width="2.55" height="2.55" fill="#949494"/><rect x="232" y="237" width="2.55" height="2.55" fill="#949494"/><rect x="232" y="239.5" width="2.55" height="2.55" fill="#949494"/><rect x="232" y="242" width="2.55" height="2.55" fill="#949494"/><rect x="232" y="244.5" width="2.55" height="2.55" fill="#949494"/><rect x="232" y="247" width="2.55" height="2.55" fill="#949494"/><rect x="232" y="249.5" width="2.55" height="2.55" fill="#949494"/><rect x="232" y="252" width="2.55" height="2.55" fill="#949494"/><rect x="232" y="254.5" width="2.55" height="2.55" fill="#949494"/><rect x="232" y="257" width="2.55" height="2.55" fill="#949494"/><rect x="232" y="259.5" width="2.55" height="2.55" fill="#949494"/><rect x="234.5" y="159.5" width="2.55" height="2.55" fill="#a4a4a4"/><rect x="234.5" y="162" width="2.55" height="2.55" fill="#acacac"/><rect x="234.5" y="164.5" width="2.55" height="2.55" fill="#b5b5b5"/><rect x="234.5" y="167" width="2.55" height="2.55" fill="#bdbdbd"/><rect x="234.5" y="169.5" width="2.55" height="2.55" fill="#c6c6c6"/><rect x="234.5" y="172" width="2.55" height="2.55" fill="#d0d0d0"/><rect x="234.5" y="174.5" width="2.55" height="2.55" fill="#dadada"/><rect x="234.5" y="177" width="2.55" height="2.55" fill="#dbdbdb"/><rect x="234.5" y="179.5" width="2.55" height="2.55" fill="#dbdbdb"/><rect x="234.5" y="182" width="2.55" height="2.55" fill="#dbdbdb"/><rect x="234.5" y="184.5" width="2.55" height="2.55" fill="#dbdbdb"/><rect x="234.5" y="187" width="2.55" height="2.55" fill="#dbdbdb"/><rect x="234.5" y="189.5" width="2.55" height="2.55" fill="#dbdbdb"/><rect x="234.5" y="192" width="2.55" height="2.55" fill="#dbdbdb"/><rect x="234.5" y="194.5" width="2.55" height="2.55" fill="#dbdbdb"/><rect x="234.5" y="197" width="2.55" height="2.55" fill="#dbdbdb"/><rect x="234.5" y="199.5" width="2.55" height="2.55" fill="#dbdbdb"/><rect x="234.5" y="202" width="2.55" height="2.55" fill="#dbdbdb"/><rect x="234.5" y="204.5" width="2.55" height="2.55" fill="#dbdbdb"/><rect x="234.5" y="207" width="2.55" height="2.55" fill="#dbdbdb"/><rect x="234.5" y="209.5" width="2.55" height="2.55" fill="#dbdbdb"/><rect x="234.5" y="212" width="2.55" height="2.55" fill="#dbdbdb"/><rect x="234.5" y="214.5" width="2.55" height="2.55" fill="#dbdbdb"/><rect x="234.5" y="217" width="2.55" height="2.55" fill="#cacaca"/><rect x="234.5" y="219.5" width="2.55" height="2.55" fill="#bababa"/><rect x="234.5" y="222" width="2.55" height="2.55" fill="#aeaeae"/><rect x="234.5" y="224.5" width="2.55" height="2.55" fill="#a5a5a5"/><rect x="234.5" y="227" width="2.55" height="2.55" fill="#9e9e9e"/><rect x="234.5" y="229.5" width="2.55" height="2.55" fill="#989898"/><rect x="234.5" y="232" width="2.55" height="2.55" fill="#949494"/><rect x="234.5" y="234.5" width="2.55" height="2.55" fill="#949494"/><rect x="234.5" y="237" width="2.55" height="2.55" fill="#949494"/><rect x="234.5" y="239.5" width="2.55" height="2.55" fill="#949494"/><rect x="234.5" y="242" width="2.55" height="2.55" fill="#949494"/><rect x="234.5" y="244.5" width="2.55" height="2.55" fill="#949494"/><rect x="234.5" y="247" width="2.55" height="2.55" fill="#949494"/><rect x="234.5" y="249.5" width="2.55" height="2.55" fill="#949494"/><rect x="234.5" y="252" width="2.55" height="2.55" fill="#949494"/><rect x="234.5" y="254.5" width="2.55" height="2.55" fill="#949494"/><rect x="234.5" y="257" width="2.55" height="2.55" fill="#949494"/><rect x="234.5" y="259.5" width="2.55" height="2.55" fill="#949494"/><rect x="237" y="159.5" width="2.55" height="2.55" fill="#a4a4a4"/><rect x="237" y="162" width="2.55" height="2.55" fill="#acacac"/><rect x="237" y="164.5" width="2.55" height="2.55" fill="#b5b5b5"/><rect x="237" y="167" width="2.55" height="2.55" fill="#bdbdbd"/><rect x="237" y="169.5" width="2.55" height="2.55" fill="#c6c6c6"/><rect x="237" y="172" width="2.55" height="2.55" fill="#d0d0d0"/><rect x="237" y="174.5" width="2.55" height="2.55" fill="#dadada"/><rect x="237" y="177" width="2.55" height="2.55" fill="#dbdbdb"/><rect x="237" y="179.5" width="2.55" height="2.55" fill="#dbdbdb"/><rect x="237" y="182" width="2.55" height="2.55" fill="#dbdbdb"/><rect x="237" y="184.5" width="2.55" height="2.55" fill="#dbdbdb"/><rect x="237" y="187" width="2.55" height="2.55" fill="#dbdbdb"/><rect x="237" y="189.5" width="2.55" height="2.55" fill="#dbdbdb"/><rect x="237" y="192" width="2.55" height="2.55" fill="#dbdbdb"/><rect x="237" y="194.5" width="2.55" height="2.55" fill="#dbdbdb"/><rect x="237" y="197" width="2.55" height="2.55" fill="#dbdbdb"/><rect x="237" y="199.5" width="2.55" height="2.55" fill="#dbdbdb"/><rect x="237" y="202" width="2.55" height="2.55" fill="#dbdbdb"/><rect x="237" y="204.5" width="2.55" height="2.55" fill="#dbdbdb"/><rect x="237" y="207" width="2.55" height="2.55" fill="#dbdbdb"/><rect x="237" y="209.5" width="2.55" height="2.55" fill="#dbdbdb"/><rect x="237" y="212" width="2.55" height="2.55" fill="#dbdbdb"/><rect x="237" y="214.5" width="2.55" height="2.55" fill="#d0d0d0"/><rect x="237" y="217" width="2.55" height="2.55" fill="#bdbdbd"/><rect x="237" y="219.5" width="2.55" height="2.55" fill="#b0b0b0"/><rect x="237" y="222" width="2.55" height="2.55" fill="#a6a6a6"/><rect x="237" y="224.5" width="2.55" height="2.55" fill="#9e9e9e"/><rect x="237" y="227" width="2.55" height="2.55" fill="#989898"/><rect x="237" y="229.5" width="2.55" height="2.55" fill="#949494"/><rect x="237" y="232" width="2.55" height="2.55" fill="#949494"/><rect x="237" y="234.5" width="2.55" height="2.55" fill="#949494"/><rect x="237" y="237" width="2.55" height="2.55" fill="#949494"/><rect x="237" y="239.5" width="2.55" height="2.55" fill="#949494"/><rect x="237" y="242" width="2.55" height="2.55" fill="#949494"/><rect x="237" y="244.5" width="2.55" height="2.55" fill="#949494"/><rect x="237" y="247" width="2.55" height="2.55" fill="#949494"/><rect x="237" y="249.5" width="2.55" height="2.55" fill="#949494"/><rect x="237" y="252" width="2.55" height="2.55" fill="#949494"/><rect x="237" y="254.5" width="2.55" height="2.55" fill="#949494"/><rect x="237" y="257" width="2.55" height="2.55" fill="#949494"/><rect x="237" y="259.5" width="2.55" height="2.55" fill="#949494"/><rect x="239.5" y="159.5" width="2.55" height="2.55" fill="#a4a4a4"/><rect x="239.5" y="162" width="2.55" height="2.55" fill="#acacac"/><rect x="239.5" y="164.5" width="2.55" height="2.55" fill="#b5b5b5"/><rect x="239.5" y="167" width="2.55" height="2.55" fill="#bdbdbd"/><rect x="239.5" y="169.5" width="2.55" height="2.55" fill="#c6c6c6"/><rect x="239.5" y="172" width="2.55" height="2.55" fill="#d0d0d0"/><rect x="239.5" y="174.5" width="2.55" height="2.55" fill="#dadada"/><rect x="239.5" y="177" width="2.55" height="2.55" fill="#dbdbdb"/><rect x="239.5" y="179.5" width="2.55" height="2.55" fill="#dbdbdb"/><rect x="239.5" y="182" width="2.55" height="2.55" fill="#dbdbdb"/><rect x="239.5" y="184.5" width="2.55" height="2.55" fill="#dbdbdb"/><rect x="239.5" y="187" width="2.55" height="2.55" fill="#dbdbdb"/><rect x="239.5" y="189.5" width="2.55" height="2.55" fill="#dbdbdb"/><rect x="239.5" y="192" width="2.55" height="2.55" fill="#dbdbdb"/><rect x="239.5" y="194.5" width="2.55" height="2.55" fill="#dbdbdb"/><rect x="239.5" y="197" width="2.55" height="2.55" fill="#dbdbdb"/><rect x="239.5" y="199.5" width="2.55" height="2.55" fill="#dbdbdb"/><rect x="239.5" y="202" width="2.55" height="2.55" fill="#dbdbdb"/><rect x="239.5" y="204.5" width="2.55" height="2.55" fill="#dbdbdb"/><rect x="239.5" y="207" width="2.55" height="2.55" fill="#dbdbdb"/><rect x="239.5" y="209.5" width="2.55" height="2.55" fill="#dbdbdb"/><rect x="239.5" y="212" width="2.55" height="2.55" fill="#dbdbdb"/><rect x="239.5" y="214.5" width="2.55" height="2.55" fill="#c1c1c1"/><rect x="239.5" y="217" width="2.55" height="2.55" fill="#b2b2b2"/><rect x="239.5" y="219.5" width="2.55" height="2.55" fill="#a7a7a7"/><rect x="239.5" y="222" width="2.55" height="2.55" fill="#9e9e9e"/><rect x="239.5" y="224.5" width="2.55" height="2.55" fill="#989898"/><rect x="239.5" y="227" width="2.55" height="2.55" fill="#949494"/><rect x="239.5" y="229.5" width="2.55" height="2.55" fill="#949494"/><rect x="239.5" y="232" width="2.55" height="2.55" fill="#949494"/><rect x="239.5" y="234.5" width="2.55" height="2.55" fill="#949494"/><rect x="239.5" y="237" width="2.55" height="2.55" fill="#949494"/><rect x="239.5" y="239.5" width="2.55" height="2.55" fill="#949494"/><rect x="239.5" y="242" width="2.55" height="2.55" fill="#949494"/><rect x="239.5" y="244.5" width="2.55" height="2.55" fill="#949494"/><rect x="239.5" y="247" width="2.55" height="2.55" fill="#949494"/><rect x="239.5" y="249.5" width="2.55" height="2.55" fill="#949494"/><rect x="239.5" y="252" width="2.55" height="2.55" fill="#949494"/><rect x="239.5" y="254.5" width="2.55" height="2.55" fill="#949494"/><rect x="239.5" y="257" width="2.55" height="2.55" fill="#949494"/><rect x="239.5" y="259.5" width="2.55" height="2.55" fill="#949494"/><rect x="242" y="159.5" width="2.55" height="2.55" fill="#a4a4a4"/><rect x="242" y="162" width="2.55" height="2.55" fill="#acacac"/><rect x="242" y="164.5" width="2.55" height="2.55" fill="#b5b5b5"/><rect x="242" y="167" width="2.55" height="2.55" fill="#bdbdbd"/><rect x="242" y="169.5" width="2.55" height="2.55" fill="#c6c6c6"/><rect x="242" y="172" width="2.55" height="2.55" fill="#d0d0d0"/><rect x="242" y="174.5" width="2.55" height="2.55" fill="#dadada"/><rect x="242" y="177" width="2.55" height="2.55" fill="#dbdbdb"/><rect x="242" y="179.5" width="2.55" height="2.55" fill="#dbdbdb"/><rect x="242" y="182" width="2.55" height="2.55" fill="#dbdbdb"/><rect x="242" y="184.5" width="2.55" height="2.55" fill="#dbdbdb"/><rect x="242" y="187" width="2.55" height="2.55" fill="#dbdbdb"/><rect x="242" y="189.5" width="2.55" height="2.55" fill="#dbdbdb"/><rect x="242" y="192" width="2.55" height="2.55" fill="#dbdbdb"/><rect x="242" y="194.5" width="2.55" height="2.55" fill="#dbdbdb"/><rect x="242" y="197" width="2.55" height="2.55" fill="#dbdbdb"/><rect x="242" y="199.5" width="2.55" height="2.55" fill="#dbdbdb"/><rect x="242" y="202" width="2.55" height="2.55" fill="#dbdbdb"/><rect x="242" y="204.5" width="2.55" height="2.55" fill="#dbdbdb"/><rect x="242" y="207" width="2.55" height="2.55" fill="#dbdbdb"/><rect x="242" y="209.5" width="2.55" height="2.55" fill="#dbdbdb"/><rect x="242" y="212" width="2.55" height="2.55" fill="#c6c6c6"/><rect x="242" y="214.5" width="2.55" height="2.55" fill="#b4b4b4"/><rect x="242" y="217" width="2.55" height="2.55" fill="#a8a8a8"/><rect x="242" y="219.5" width="2.55" height="2.55" fill="#9f9f9f"/><rect x="242" y="222" width="2.55" height="2.55" fill="#979797"/><rect x="242" y="224.5" width="2.55" height="2.55" fill="#949494"/><rect x="242" y="227" width="2.55" height="2.55" fill="#949494"/><rect x="242" y="229.5" width="2.55" height="2.55" fill="#949494"/><rect x="242" y="232" width="2.55" height="2.55" fill="#949494"/><rect x="242" y="234.5" width="2.55" height="2.55" fill="#949494"/><rect x="242" y="237" width="2.55" height="2.55" fill="#949494"/><rect x="242" y="239.5" width="2.55" height="2.55" fill="#949494"/><rect x="242" y="242" width="2.55" height="2.55" fill="#949494"/><rect x="242" y="244.5" width="2.55" height="2.55" fill="#949494"/><rect x="242" y="247" width="2.55" height="2.55" fill="#949494"/><rect x="242" y="249.5" width="2.55" height="2.55" fill="#949494"/><rect x="242" y="252" width="2.55" height="2.55" fill="#949494"/><rect x="242" y="254.5" width="2.55" height="2.55" fill="#949494"/><rect x="242" y="257" width="2.55" height="2.55" fill="#949494"/><rect x="242" y="259.5" width="2.55" height="2.55" fill="#949494"/><rect x="244.5" y="159.5" width="2.55" height="2.55" fill="#a4a4a4"/><rect x="244.5" y="162" width="2.55" height="2.55" fill="#acacac"/><rect x="244.5" y="164.5" width="2.55" height="2.55" fill="#b5b5b5"/><rect x="244.5" y="167" width="2.55" height="2.55" fill="#bdbdbd"/><rect x="244.5" y="169.5" width="2.55" height="2.55" fill="#c6c6c6"/><rect x="244.5" y="172" width="2.55" height="2.55" fill="#d0d0d0"/><rect x="244.5" y="174.5" width="2.55" height="2.55" fill="#dadada"/><rect x="244.5" y="177" width="2.55" height="2.55" fill="#dbdbdb"/><rect x="244.5" y="179.5" width="2.55" height="2.55" fill="#dbdbdb"/><rect x="244.5" y="182" width="2.55" height="2.55" fill="#dbdbdb"/><rect x="244.5" y="184.5" width="2.55" height="2.55" fill="#dbdbdb"/><rect x="244.5" y="187" width="2.55" height="2.55" fill="#dbdbdb"/><rect x="244.5" y="189.5" width="2.55" height="2.55" fill="#dbdbdb"/><rect x="244.5" y="192" width="2.55" height="2.55" fill="#dbdbdb"/><rect x="244.5" y="194.5" width="2.55" height="2.55" fill="#dbdbdb"/><rect x="244.5" y="197" width="2.55" height="2.55" fill="#dbdbdb"/><rect x="244.5" y="199.5" width="2.55" height="2.55" fill="#dbdbdb"/><rect x="244.5" y="202" width="2.55" height="2.55" fill="#dbdbdb"/><rect x="244.5" y="204.5" width="2.55" height="2.55" fill="#dbdbdb"/><rect x="244.5" y="207" width="2.55" height="2.55" fill="#dbdbdb"/><rect x="244.5" y="209.5" width="2.55" height="2.55" fill="#cccccc"/><rect x="244.5" y="212" width="2.55" height="2.55" fill="#b7b7b7"/><rect x="244.5" y="214.5" width="2.55" height="2.55" fill="#a9a9a9"/><rect x="244.5" y="217" width="2.55" height="2.55" fill="#9f9f9f"/><rect x="244.5" y="219.5" width="2.55" height="2.55" fill="#979797"/><rect x="244.5" y="222" width="2.55" height="2.55" fill="#949494"/><rect x="244.5" y="224.5" width="2.55" height="2.55" fill="#949494"/><rect x="244.5" y="227" width="2.55" height="2.55" fill="#949494"/><rect x="244.5" y="229.5" width="2.55" height="2.55" fill="#949494"/><rect x="244.5" y="232" width="2.55" height="2.55" fill="#949494"/><rect x="244.5" y="234.5" width="2.55" height="2.55" fill="#949494"/><rect x="244.5" y="237" width="2.55" height="2.55" fill="#949494"/><rect x="244.5" y="239.5" width="2.55" height="2.55" fill="#949494"/><rect x="244.5" y="242" width="2.55" height="2.55" fill="#949494"/><rect x="244.5" y="244.5" width="2.55" height="2.55" fill="#949494"/><rect x="244.5" y="247" width="2.55" height="2.55" fill="#949494"/><rect x="244.5" y="249.5" width="2.55" height="2.55" fill="#949494"/><rect x="244.5" y="252" width="2.55" height="2.55" fill="#949494"/><rect x="244.5" y="254.5" width="2.55" height="2.55" fill="#949494"/><rect x="244.5" y="257" width="2.55" height="2.55" fill="#949494"/><rect x="244.5" y="259.5" width="2.55" height="2.55" fill="#949494"/><rect x="247" y="159.5" width="2.55" height="2.55" fill="#a4a4a4"/><rect x="247" y="162" width="2.55" height="2.55" fill="#acacac"/><rect x="247" y="164.5" width="2.55" height="2.55" fill="#b5b5b5"/><rect x="247" y="167" width="2.55" height="2.55" fill="#bdbdbd"/><rect x="247" y="169.5" width="2.55" height="2.55" fill="#c6c6c6"/><rect x="247" y="172" width="2.55" height="2.55" fill="#d0d0d0"/><rect x="247" y="174.5" width="2.55" height="2.55" fill="#dadada"/><rect x="247" y="177" width="2.55" height="2.55" fill="#dbdbdb"/><rect x="247" y="179.5" width="2.55" height="2.55" fill="#dbdbdb"/><rect x="247" y="182" width="2.55" height="2.55" fill="#dbdbdb"/><rect x="247" y="184.5" width="2.55" height="2.55" fill="#dbdbdb"/><rect x="247" y="187" width="2.55" height="2.55" fill="#dbdbdb"/><rect x="247" y="189.5" width="2.55" height="2.55" fill="#dbdbdb"/><rect x="247" y="192" width="2.55" height="2.55" fill="#dbdbdb"/><rect x="247" y="194.5" width="2.55" height="2.55" fill="#dbdbdb"/><rect x="247" y="197" width="2.55" height="2.55" fill="#dbdbdb"/><rect x="247" y="199.5" width="2.55" height="2.55" fill="#dbdbdb"/><rect x="247" y="202" width="2.55" height="2.55" fill="#dbdbdb"/><rect x="247" y="204.5" width="2.55" height="2.55" fill="#dbdbdb"/><rect x="247" y="207" width="2.55" height="2.55" fill="#d9d9d9"/><rect x="247" y="209.5" width="2.55" height="2.55" fill="#bbbbbb"/><rect x="247" y="212" width="2.55" height="2.55" fill="#ababab"/><rect x="247" y="214.5" width="2.55" height="2.55" fill="#9f9f9f"/><rect x="247" y="217" width="2.55" height="2.55" fill="#979797"/><rect x="247" y="219.5" width="2.55" height="2.55" fill="#949494"/><rect x="247" y="222" width="2.55" height="2.55" fill="#949494"/><rect x="247" y="224.5" width="2.55" height="2.55" fill="#949494"/><rect x="247" y="227" width="2.55" height="2.55" fill="#949494"/><rect x="247" y="229.5" width="2.55" height="2.55" fill="#949494"/><rect x="247" y="232" width="2.55" height="2.55" fill="#949494"/><rect x="247" y="234.5" width="2.55" height="2.55" fill="#949494"/><rect x="247" y="237" width="2.55" height="2.55" fill="#949494"/><rect x="247" y="239.5" width="2.55" height="2.55" fill="#949494"/><rect x="247" y="242" width="2.55" height="2.55" fill="#949494"/><rect x="247" y="244.5" width="2.55" height="2.55" fill="#949494"/><rect x="247" y="247" width="2.55" height="2.55" fill="#949494"/><rect x="247" y="249.5" width="2.55" height="2.55" fill="#949494"/><rect x="247" y="252" width="2.55" height="2.55" fill="#949494"/><rect x="247" y="254.5" width="2.55" height="2.55" fill="#949494"/><rect x="247" y="257" width="2.55" height="2.55" fill="#949494"/><rect x="247" y="259.5" width="2.55" height="2.55" fill="#949494"/><rect x="249.5" y="159.5" width="2.55" height="2.55" fill="#a4a4a4"/><rect x="249.5" y="162" width="2.55" height="2.55" fill="#acacac"/><rect x="249.5" y="164.5" width="2.55" height="2.55" fill="#b5b5b5"/><rect x="249.5" y="167" width="2.55" height="2.55" fill="#bdbdbd"/><rect x="249.5" y="169.5" width="2.55" height="2.55" fill="#c6c6c6"/><rect x="249.5" y="172" width="2.55" height="2.55" fill="#d0d0d0"/><rect x="249.5" y="174.5" width="2.55" height="2.55" fill="#dadada"/><rect x="249.5" y="177" width="2.55" height="2.55" fill="#dbdbdb"/><rect x="249.5" y="179.5" width="2.55" height="2.55" fill="#dbdbdb"/><rect x="249.5" y="182" width="2.55" height="2.55" fill="#dbdbdb"/><rect x="249.5" y="184.5" width="2.55" height="2.55" fill="#dbdbdb"/><rect x="249.5" y="187" width="2.55" height="2.55" fill="#dbdbdb"/><rect x="249.5" y="189.5" width="2.55" height="2.55" fill="#dbdbdb"/><rect x="249.5" y="192" width="2.55" height="2.55" fill="#dbdbdb"/><rect x="249.5" y="194.5" width="2.55" height="2.55" fill="#dbdbdb"/><rect x="249.5" y="197" width="2.55" height="2.55" fill="#dbdbdb"/><rect x="249.5" y="199.5" width="2.55" height="2.55" fill="#dbdbdb"/><rect x="249.5" y="202" width="2.55" height="2.55" fill="#dbdbdb"/><rect x="249.5" y="204.5" width="2.55" height="2.55" fill="#dbdbdb"/><rect x="249.5" y="207" width="2.55" height="2.55" fill="#c0c0c0"/><rect x="249.5" y="209.5" width="2.55" height="2.55" fill="#adadad"/><rect x="249.5" y="212" width="2.55" height="2.55" fill="#a0a0a0"/><rect x="249.5" y="214.5" width="2.55" height="2.55" fill="#969696"/><rect x="249.5" y="217" width="2.55" height="2.55" fill="#949494"/><rect x="249.5" y="219.5" width="2.55" height="2.55" fill="#949494"/><rect x="249.5" y="222" width="2.55" height="2.55" fill="#949494"/><rect x="249.5" y="224.5" width="2.55" height="2.55" fill="#949494"/><rect x="249.5" y="227" width="2.55" height="2.55" fill="#949494"/><rect x="249.5" y="229.5" width="2.55" height="2.55" fill="#949494"/><rect x="249.5" y="232" width="2.55" height="2.55" fill="#949494"/><rect x="249.5" y="234.5" width="2.55" height="2.55" fill="#949494"/><rect x="249.5" y="237" width="2.55" height="2.55" fill="#949494"/><rect x="249.5" y="239.5" width="2.55" height="2.55" fill="#949494"/><rect x="249.5" y="242" width="2.55" height="2.55" fill="#949494"/><rect x="249.5" y="244.5" width="2.55" height="2.55" fill="#949494"/><rect x="249.5" y="247" width="2.55" height="2.55" fill="#949494"/><rect x="249.5" y="249.5" width="2.55" height="2.55" fill="#949494"/><rect x="249.5" y="252" width="2.55" height="2.55" fill="#949494"/><rect x="249.5" y="254.5" width="2.55" height="2.55" fill="#949494"/><rect x="249.5" y="257" width="2.55" height="2.55" fill="#949494"/><rect x="249.5" y="259.5" width="2.55" height="2.55" fill="#949494"/><rect x="252" y="159.5" width="2.55" height="2.55" fill="#a4a4a4"/><rect x="252" y="162" width="2.55" height="2.55" fill="#acacac"/><rect x="252" y="164.5" width="2.55" height="2.55" fill="#b5b5b5"/><rect x="252" y="167" width="2.55" height="2.55" fill="#bdbdbd"/><rect x="252" y="169.5" width="2.55" height="2.55" fill="#c6c6c6"/><rect x="252" y="172" width="2.55" height="2.55" fill="#d0d0d0"/><rect x="252" y="174.5" width="2.55" height="2.55" fill="#dadada"/><rect x="252" y="177" width="2.55" height="2.55" fill="#dbdbdb"/><rect x="252" y="179.5" width="2.55" height="2.55" fill="#dbdbdb"/><rect x="252" y="182" width="2.55" height="2.55" fill="#dbdbdb"/><rect x="252" y="184.5" width="2.55" height="2.55" fill="#dbdbdb"/><rect x="252" y="187" width="2.55" height="2.55" fill="#dbdbdb"/><rect x="252" y="189.5" width="2.55" height="2.55" fill="#dbdbdb"/><rect x="252" y="192" width="2.55" height="2.55" fill="#dbdbdb"/><rect x="252" y="194.5" width="2.55" height="2.55" fill="#dbdbdb"/><rect x="252" y="197" width="2.55" height="2.55" fill="#dbdbdb"/><rect x="252" y="199.5" width="2.55" height="2.55" fill="#dbdbdb"/><rect x="252" y="202" width="2.55" height="2.55" fill="#dbdbdb"/><rect x="252" y="204.5" width="2.55" height="2.55" fill="#c0c0c0"/><rect x="252" y="207" width="2.55" height="2.55" fill="#afafaf"/><rect x="252" y="209.5" width="2.55" height="2.55" fill="#a0a0a0"/><rect x="252" y="212" width="2.55" height="2.55" fill="#959595"/><rect x="252" y="214.5" width="2.55" height="2.55" fill="#949494"/><rect x="252" y="217" width="2.55" height="2.55" fill="#949494"/><rect x="252" y="219.5" width="2.55" height="2.55" fill="#949494"/><rect x="252" y="222" width="2.55" height="2.55" fill="#949494"/><rect x="252" y="224.5" width="2.55" height="2.55" fill="#949494"/><rect x="252" y="227" width="2.55" height="2.55" fill="#949494"/><rect x="252" y="229.5" width="2.55" height="2.55" fill="#949494"/><rect x="252" y="232" width="2.55" height="2.55" fill="#949494"/><rect x="252" y="234.5" width="2.55" height="2.55" fill="#949494"/><rect x="252" y="237" width="2.55" height="2.55" fill="#949494"/><rect x="252" y="239.5" width="2.55" height="2.55" fill="#949494"/><rect x="252" y="242" width="2.55" height="2.55" fill="#949494"/><rect x="252" y="244.5" width="2.55" height="2.55" fill="#949494"/><rect x="252" y="247" width="2.55" height="2.55" fill="#949494"/><rect x="252" y="249.5" width="2.55" height="2.55" fill="#949494"/><rect x="252" y="252" width="2.55" height="2.55" fill="#949494"/><rect x="252" y="254.5" width="2.55" height="2.55" fill="#949494"/><rect x="252" y="257" width="2.55" height="2.55" fill="#949494"/><rect x="252" y="259.5" width="2.55" height="2.55" fill="#949494"/><rect x="254.5" y="159.5" width="2.55" height="2.55" fill="#a4a4a4"/><rect x="254.5" y="162" width="2.55" height="2.55" fill="#acacac"/><rect x="254.5" y="164.5" width="2.55" height="2.55" fill="#b5b5b5"/><rect x="254.5" y="167" width="2.55" height="2.55" fill="#bdbdbd"/><rect x="254.5" y="169.5" width="2.55" height="2.55" fill="#c6c6c6"/><rect x="254.5" y="172" width="2.55" height="2.55" fill="#d0d0d0"/><rect x="254.5" y="174.5" width="2.55" height="2.55" fill="#dadada"/><rect x="254.5" y="177" width="2.55" height="2.55" fill="#dbdbdb"/><rect x="254.5" y="179.5" width="2.55" height="2.55" fill="#dbdbdb"/><rect x="254.5" y="182" width="2.55" height="2.55" fill="#dbdbdb"/><rect x="254.5" y="184.5" width="2.55" height="2.55" fill="#dbdbdb"/><rect x="254.5" y="187" width="2.55" height="2.55" fill="#dbdbdb"/><rect x="254.5" y="189.5" width="2.55" height="2.55" fill="#dbdbdb"/><rect x="254.5" y="192" width="2.55" height="2.55" fill="#dbdbdb"/><rect x="254.5" y="194.5" width="2.55" height="2.55" fill="#dbdbdb"/><rect x="254.5" y="197" width="2.55" height="2.55" fill="#dbdbdb"/><rect x="254.5" y="199.5" width="2.55" height="2.55" fill="#dbdbdb"/><rect x="254.5" y="202" width="2.55" height="2.55" fill="#c0c0c0"/><rect x="254.5" y="204.5" width="2.55" height="2.55" fill="#afafaf"/><rect x="254.5" y="207" width="2.55" height="2.55" fill="#a1a1a1"/><rect x="254.5" y="209.5" width="2.55" height="2.55" fill="#959595"/><rect x="254.5" y="212" width="2.55" height="2.55" fill="#949494"/><rect x="254.5" y="214.5" width="2.55" height="2.55" fill="#949494"/><rect x="254.5" y="217" width="2.55" height="2.55" fill="#949494"/><rect x="254.5" y="219.5" width="2.55" height="2.55" fill="#949494"/><rect x="254.5" y="222" width="2.55" height="2.55" fill="#949494"/><rect x="254.5" y="224.5" width="2.55" height="2.55" fill="#949494"/><rect x="254.5" y="227" width="2.55" height="2.55" fill="#949494"/><rect x="254.5" y="229.5" width="2.55" height="2.55" fill="#949494"/><rect x="254.5" y="232" width="2.55" height="2.55" fill="#949494"/><rect x="254.5" y="234.5" width="2.55" height="2.55" fill="#949494"/><rect x="254.5" y="237" width="2.55" height="2.55" fill="#949494"/><rect x="254.5" y="239.5" width="2.55" height="2.55" fill="#949494"/><rect x="254.5" y="242" width="2.55" height="2.55" fill="#949494"/><rect x="254.5" y="244.5" width="2.55" height="2.55" fill="#949494"/><rect x="254.5" y="247" width="2.55" height="2.55" fill="#949494"/><rect x="254.5" y="249.5" width="2.55" height="2.55" fill="#949494"/><rect x="254.5" y="252" width="2.55" height="2.55" fill="#949494"/><rect x="254.5" y="254.5" width="2.55" height="2.55" fill="#949494"/><rect x="254.5" y="257" width="2.55" height="2.55" fill="#949494"/><rect x="254.5" y="259.5" width="2.55" height="2.55" fill="#949494"/><rect x="257" y="159.5" width="2.55" height="2.55" fill="#a4a4a4"/><rect x="257" y="162" width="2.55" height="2.55" fill="#acacac"/><rect x="257" y="164.5" width="2.55" height="2.55" fill="#b5b5b5"/><rect x="257" y="167" width="2.55" height="2.55" fill="#bdbdbd"/><rect x="257" y="169.5" width="2.55" height="2.55" fill="#c6c6c6"/><rect x="257" y="172" width="2.55" height="2.55" fill="#d0d0d0"/><rect x="257" y="174.5" width="2.55" height="2.55" fill="#dadada"/><rect x="257" y="177" width="2.55" height="2.55" fill="#dbdbdb"/><rect x="257" y="179.5" width="2.55" height="2.55" fill="#dbdbdb"/><rect x="257" y="182" width="2.55" height="2.55" fill="#dbdbdb"/><rect x="257" y="184.5" width="2.55" height="2.55" fill="#dbdbdb"/><rect x="257" y="187" width="2.55" height="2.55" fill="#dbdbdb"/><rect x="257" y="189.5" width="2.55" height="2.55" fill="#dbdbdb"/><rect x="257" y="192" width="2.55" height="2.55" fill="#dbdbdb"/><rect x="257" y="194.5" width="2.55" height="2.55" fill="#dbdbdb"/><rect x="257" y="197" width="2.55" height="2.55" fill="#dbdbdb"/><rect x="257" y="199.5" width="2.55" height="2.55" fill="#c0c0c0"/><rect x="257" y="202" width="2.55" height="2.55" fill="#afafaf"/><rect x="257" y="204.5" width="2.55" height="2.55" fill="#a1a1a1"/><rect x="257" y="207" width="2.55" height="2.55" fill="#949494"/><rect x="257" y="209.5" width="2.55" height="2.55" fill="#949494"/><rect x="257" y="212" width="2.55" height="2.55" fill="#949494"/><rect x="257" y="214.5" width="2.55" height="2.55" fill="#949494"/><rect x="257" y="217" width="2.55" height="2.55" fill="#949494"/><rect x="257" y="219.5" width="2.55" height="2.55" fill="#949494"/><rect x="257" y="222" width="2.55" height="2.55" fill="#949494"/><rect x="257" y="224.5" width="2.55" height="2.55" fill="#949494"/><rect x="257" y="227" width="2.55" height="2.55" fill="#949494"/><rect x="257" y="229.5" width="2.55" height="2.55" fill="#949494"/><rect x="257" y="232" width="2.55" height="2.55" fill="#949494"/><rect x="257" y="234.5" width="2.55" height="2.55" fill="#949494"/><rect x="257" y="237" width="2.55" height="2.55" fill="#949494"/><rect x="257" y="239.5" width="2.55" height="2.55" fill="#949494"/><rect x="257" y="242" width="2.55" height="2.55" fill="#949494"/><rect x="257" y="244.5" width="2.55" height="2.55" fill="#949494"/><rect x="257" y="247" width="2.55" height="2.55" fill="#949494"/><rect x="257" y="249.5" width="2.55" height="2.55" fill="#949494"/><rect x="257" y="252" width="2.55" height="2.55" fill="#949494"/><rect x="257" y="254.5" width="2.55" height="2.55" fill="#949494"/><rect x="257" y="257" width="2.55" height="2.55" fill="#949494"/><rect x="257" y="259.5" width="2.55" height="2.55" fill="#949494"/></g></g></g></g>
<g fill="#050505" stroke="#0f5a40" stroke-opacity="0.5" stroke-width="0.7"><circle cx="252.49" cy="210" r="1.15"/><circle cx="249.98" cy="212.51" r="1.15"/><circle cx="247.47" cy="215.02" r="1.15"/><circle cx="244.96" cy="217.53" r="1.15"/><circle cx="242.45" cy="220.04" r="1.15"/><circle cx="239.94" cy="222.55" r="1.15"/><circle cx="237.43" cy="225.06" r="1.15"/><circle cx="234.92" cy="227.57" r="1.15"/><circle cx="232.41" cy="230.08" r="1.15"/><circle cx="229.9" cy="232.59" r="1.15"/><circle cx="227.39" cy="235.1" r="1.15"/><circle cx="224.88" cy="237.61" r="1.15"/><circle cx="222.37" cy="240.12" r="1.15"/><circle cx="219.86" cy="242.63" r="1.15"/><circle cx="217.35" cy="245.14" r="1.15"/><circle cx="214.84" cy="247.65" r="1.15"/><circle cx="212.33" cy="250.16" r="1.15"/><circle cx="209.82" cy="252.67" r="1.15"/><circle cx="249.98" cy="207.49" r="1.15"/><circle cx="247.47" cy="210" r="1.15"/><circle cx="244.96" cy="212.51" r="1.15"/><circle cx="242.45" cy="215.02" r="1.15"/><circle cx="239.94" cy="217.53" r="1.15"/><circle cx="237.43" cy="220.04" r="1.15"/><circle cx="234.92" cy="222.55" r="1.15"/><circle cx="232.41" cy="225.06" r="1.15"/><circle cx="229.9" cy="227.57" r="1.15"/><circle cx="227.39" cy="230.08" r="1.15"/><circle cx="224.88" cy="232.59" r="1.15"/><circle cx="222.37" cy="235.1" r="1.15"/><circle cx="219.86" cy="237.61" r="1.15"/><circle cx="217.35" cy="240.12" r="1.15"/><circle cx="214.84" cy="242.63" r="1.15"/><circle cx="212.33" cy="245.14" r="1.15"/><circle cx="209.82" cy="247.65" r="1.15"/><circle cx="247.47" cy="204.98" r="1.15"/><circle cx="244.96" cy="207.49" r="1.15"/><circle cx="242.45" cy="210" r="1.15"/><circle cx="239.94" cy="212.51" r="1.15"/><circle cx="237.43" cy="215.02" r="1.15"/><circle cx="234.92" cy="217.53" r="1.15"/><circle cx="232.41" cy="220.04" r="1.15"/><circle cx="229.9" cy="222.55" r="1.15"/><circle cx="227.39" cy="225.06" r="1.15"/><circle cx="224.88" cy="227.57" r="1.15"/><circle cx="222.37" cy="230.08" r="1.15"/><circle cx="219.86" cy="232.59" r="1.15"/><circle cx="217.35" cy="235.1" r="1.15"/><circle cx="214.84" cy="237.61" r="1.15"/><circle cx="212.33" cy="240.12" r="1.15"/><circle cx="209.82" cy="242.63" r="1.15"/><circle cx="244.96" cy="202.47" r="1.15"/><circle cx="242.45" cy="204.98" r="1.15"/><circle cx="239.94" cy="207.49" r="1.15"/><circle cx="237.43" cy="210" r="1.15"/><circle cx="234.92" cy="212.51" r="1.15"/><circle cx="232.41" cy="215.02" r="1.15"/><circle cx="229.9" cy="217.53" r="1.15"/><circle cx="227.39" cy="220.04" r="1.15"/><circle cx="224.88" cy="222.55" r="1.15"/><circle cx="222.37" cy="225.06" r="1.15"/><circle cx="219.86" cy="227.57" r="1.15"/><circle cx="217.35" cy="230.08" r="1.15"/><circle cx="214.84" cy="232.59" r="1.15"/><circle cx="212.33" cy="235.1" r="1.15"/><circle cx="209.82" cy="237.61" r="1.15"/><circle cx="242.45" cy="199.96" r="1.15"/><circle cx="239.94" cy="202.47" r="1.15"/><circle cx="237.43" cy="204.98" r="1.15"/><circle cx="234.92" cy="207.49" r="1.15"/><circle cx="232.41" cy="210" r="1.15"/><circle cx="229.9" cy="212.51" r="1.15"/><circle cx="227.39" cy="215.02" r="1.15"/><circle cx="224.88" cy="217.53" r="1.15"/><circle cx="222.37" cy="220.04" r="1.15"/><circle cx="219.86" cy="222.55" r="1.15"/><circle cx="217.35" cy="225.06" r="1.15"/><circle cx="214.84" cy="227.57" r="1.15"/><circle cx="212.33" cy="230.08" r="1.15"/><circle cx="209.82" cy="232.59" r="1.15"/><circle cx="239.94" cy="197.45" r="1.15"/><circle cx="237.43" cy="199.96" r="1.15"/><circle cx="234.92" cy="202.47" r="1.15"/><circle cx="232.41" cy="204.98" r="1.15"/><circle cx="229.9" cy="207.49" r="1.15"/><circle cx="227.39" cy="210" r="1.15"/><circle cx="224.88" cy="212.51" r="1.15"/><circle cx="222.37" cy="215.02" r="1.15"/><circle cx="219.86" cy="217.53" r="1.15"/><circle cx="217.35" cy="220.04" r="1.15"/><circle cx="214.84" cy="222.55" r="1.15"/><circle cx="212.33" cy="225.06" r="1.15"/><circle cx="209.82" cy="227.57" r="1.15"/><circle cx="237.43" cy="194.94" r="1.15"/><circle cx="234.92" cy="197.45" r="1.15"/><circle cx="232.41" cy="199.96" r="1.15"/><circle cx="229.9" cy="202.47" r="1.15"/><circle cx="227.39" cy="204.98" r="1.15"/><circle cx="224.88" cy="207.49" r="1.15"/><circle cx="222.37" cy="210" r="1.15"/><circle cx="219.86" cy="212.51" r="1.15"/><circle cx="217.35" cy="215.02" r="1.15"/><circle cx="214.84" cy="217.53" r="1.15"/><circle cx="212.33" cy="220.04" r="1.15"/><circle cx="209.82" cy="222.55" r="1.15"/><circle cx="234.92" cy="192.43" r="1.15"/><circle cx="232.41" cy="194.94" r="1.15"/><circle cx="229.9" cy="197.45" r="1.15"/><circle cx="227.39" cy="199.96" r="1.15"/><circle cx="224.88" cy="202.47" r="1.15"/><circle cx="222.37" cy="204.98" r="1.15"/><circle cx="219.86" cy="207.49" r="1.15"/><circle cx="217.35" cy="210" r="1.15"/><circle cx="214.84" cy="212.51" r="1.15"/><circle cx="212.33" cy="215.02" r="1.15"/><circle cx="209.82" cy="217.53" r="1.15"/><circle cx="232.41" cy="189.92" r="1.15"/><circle cx="229.9" cy="192.43" r="1.15"/><circle cx="227.39" cy="194.94" r="1.15"/><circle cx="224.88" cy="197.45" r="1.15"/><circle cx="222.37" cy="199.96" r="1.15"/><circle cx="219.86" cy="202.47" r="1.15"/><circle cx="217.35" cy="204.98" r="1.15"/><circle cx="214.84" cy="207.49" r="1.15"/><circle cx="212.33" cy="210" r="1.15"/><circle cx="209.82" cy="212.51" r="1.15"/><circle cx="229.9" cy="187.41" r="1.15"/><circle cx="227.39" cy="189.92" r="1.15"/><circle cx="224.88" cy="192.43" r="1.15"/><circle cx="222.37" cy="194.94" r="1.15"/><circle cx="219.86" cy="197.45" r="1.15"/><circle cx="217.35" cy="199.96" r="1.15"/><circle cx="214.84" cy="202.47" r="1.15"/><circle cx="212.33" cy="204.98" r="1.15"/><circle cx="209.82" cy="207.49" r="1.15"/><circle cx="227.39" cy="184.9" r="1.15"/><circle cx="224.88" cy="187.41" r="1.15"/><circle cx="222.37" cy="189.92" r="1.15"/><circle cx="219.86" cy="192.43" r="1.15"/><circle cx="217.35" cy="194.94" r="1.15"/><circle cx="214.84" cy="197.45" r="1.15"/><circle cx="212.33" cy="199.96" r="1.15"/><circle cx="209.82" cy="202.47" r="1.15"/><circle cx="224.88" cy="182.39" r="1.15"/><circle cx="222.37" cy="184.9" r="1.15"/><circle cx="219.86" cy="187.41" r="1.15"/><circle cx="217.35" cy="189.92" r="1.15"/><circle cx="214.84" cy="192.43" r="1.15"/><circle cx="212.33" cy="194.94" r="1.15"/><circle cx="209.82" cy="197.45" r="1.15"/><circle cx="222.37" cy="179.88" r="1.15"/><circle cx="219.86" cy="182.39" r="1.15"/><circle cx="217.35" cy="184.9" r="1.15"/><circle cx="214.84" cy="187.41" r="1.15"/><circle cx="212.33" cy="189.92" r="1.15"/><circle cx="209.82" cy="192.43" r="1.15"/><circle cx="219.86" cy="177.37" r="1.15"/><circle cx="217.35" cy="179.88" r="1.15"/><circle cx="214.84" cy="182.39" r="1.15"/><circle cx="212.33" cy="184.9" r="1.15"/><circle cx="209.82" cy="187.41" r="1.15"/><circle cx="217.35" cy="174.86" r="1.15"/><circle cx="214.84" cy="177.37" r="1.15"/><circle cx="212.33" cy="179.88" r="1.15"/><circle cx="209.82" cy="182.39" r="1.15"/><circle cx="214.84" cy="172.35" r="1.15"/><circle cx="212.33" cy="174.86" r="1.15"/><circle cx="209.82" cy="177.37" r="1.15"/><circle cx="212.33" cy="169.84" r="1.15"/><circle cx="209.82" cy="172.35" r="1.15"/><circle cx="209.82" cy="167.33" r="1.15"/></g>
<path d="M207 162L255 210L207 257.6Z" fill="none" stroke="#fff" stroke-width="1.1"/>
<text x="224.3" y="211.3" text-anchor="middle" style="font-family:'Liberation Sans',sans-serif;font-size:9.4px;font-weight:bold" fill="#fff">PC</text>
<path d="M186.8 208.8 H196 V204.8 L204.5 210.1 L196 215.4 V211.4 H186.8 Z" fill="#fff"/>
<g transform="translate(233.3 183.1) rotate(-42.7)"><path d="M0 -1 H11 V-4.6 L17.8 0 L11 4.6 V1 H0 Z" fill="#fff"/></g>
<g stroke="#fff" stroke-width="1.6" fill="none"><path d="M265.3 208.8 L274.5 200.2"/><path d="M265.3 208.8 L274.5 217.8"/></g>
<path d="M277.9 197.3 L270.6 198.9 L276.3 204.6 Z" fill="#fff"/>
<path d="M277.9 220.7 L270.6 219.1 L276.3 213.4 Z" fill="#fff"/>
<text x="281.2" y="197.3" text-anchor="middle" style="font-family:'Liberation Sans',sans-serif;font-size:8.4px;font-weight:bold" fill="#fff">x</text>
<text x="280.8" y="226" text-anchor="middle" style="font-family:'Liberation Sans',sans-serif;font-size:8.4px;font-weight:bold" fill="#fff">y</text>
<rect x="184.7" y="148" width="123.1" height="122.6" fill="none" stroke="#333" stroke-width="0.6"/>
<g filter="url(#jet)"><rect x="324" y="148.8" width="7" height="120.6" fill="url(#gCB)"/></g>
<rect x="324" y="148.8" width="7" height="120.6" fill="none" stroke="#333" stroke-width="0.5"/>
<text x="332.4" y="152" style="font-family:'Liberation Sans',sans-serif;font-size:8.6px" fill="#222" stroke="#000" stroke-width="0.22">0.3</text>
<text x="331.5" y="212" style="font-family:'Liberation Sans',sans-serif;font-size:8.6px" fill="#222" stroke="#000" stroke-width="0.22">0</text>
<text x="329.5" y="272.3" style="font-family:'Liberation Sans',sans-serif;font-size:8.6px" fill="#222" stroke="#000" stroke-width="0.22">-0.3</text>
<text transform="translate(345.8 234.5) rotate(-90)" style="font-family:'Liberation Sans',sans-serif;font-size:8.3px" fill="#222" stroke="#000" stroke-width="0.22"><tspan font-style="italic" font-size="8.6">E</tspan><tspan font-size="5.5" dy="1.4">z</tspan><tspan dy="-1.4" dx="1">(normalized)</tspan></text>
</svg>
</body></html>
